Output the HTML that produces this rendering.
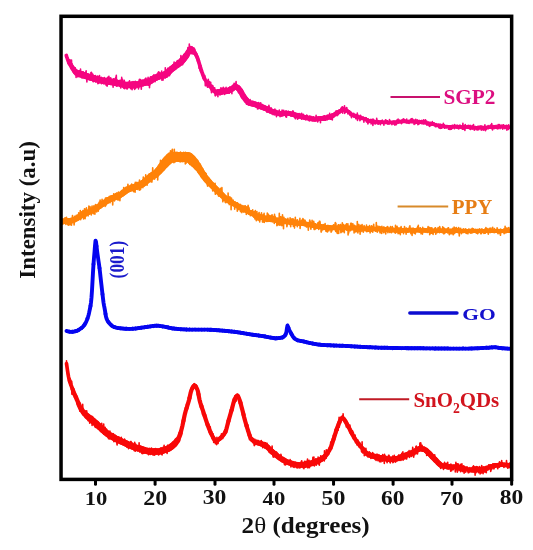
<!DOCTYPE html>
<html><head><meta charset="utf-8">
<style>
html,body{margin:0;padding:0;background:#fff;}
body{width:533px;height:550px;overflow:hidden;}
svg{display:block;}
text{font-family:"Liberation Serif",serif;font-weight:bold;}
</style></head>
<body>
<svg width="533" height="550" viewBox="0 0 533 550">
<rect width="533" height="550" fill="#fff"/>
<defs><clipPath id="cp"><rect x="60" y="14" width="453.5" height="467"/></clipPath></defs>
<g fill="none" stroke-linejoin="round" stroke-linecap="round" clip-path="url(#cp)">
<g stroke="#F50580"><path d="M66.3 55.5L66.8 57.1L67.3 58.5L67.8 59.8L68.3 61.0L68.8 62.0L69.3 63.0" stroke-width="3.68"/><path d="M69.3 63.0L69.8 63.8L70.3 64.6L70.8 65.4L71.3 66.1L71.8 66.8L72.3 67.6" stroke-width="4.38"/><path d="M72.3 67.6L72.8 68.3L73.3 69.1L73.8 69.8L74.3 70.4L74.8 71.1L75.3 71.6" stroke-width="5.07"/><path d="M75.3 71.6L75.8 72.1L76.3 72.5L76.8 72.8L77.3 73.1L77.8 73.3L78.3 73.5" stroke-width="5.76"/><path d="M78.3 73.5L78.8 73.6L79.3 73.8L79.8 73.9L80.3 74.0L80.8 74.1L81.3 74.2" stroke-width="6.45"/><path d="M81.3 74.2L81.8 74.4L82.3 74.5L82.8 74.7L83.3 74.9L83.8 75.1L84.3 75.3" stroke-width="6.50"/><path d="M84.3 75.3L84.8 75.5L85.3 75.7L85.8 75.9L86.3 76.1L86.8 76.3L87.3 76.5" stroke-width="6.50"/><path d="M87.3 76.5L87.8 76.7L88.3 76.8L88.8 77.0L89.3 77.1L89.8 77.3L90.3 77.4" stroke-width="6.50"/><path d="M90.3 77.4L90.8 77.5L91.3 77.6L91.8 77.8L92.3 77.9L92.8 78.0L93.3 78.2" stroke-width="6.50"/><path d="M93.3 78.2L93.8 78.3L94.3 78.4L94.8 78.6L95.3 78.8L95.8 78.9L96.3 79.1" stroke-width="6.50"/><path d="M96.3 79.1L96.8 79.2L97.3 79.4L97.8 79.6L98.3 79.7L98.8 79.8L99.3 80.0" stroke-width="6.50"/><path d="M99.3 80.0L99.8 80.1L100.3 80.2L100.8 80.3L101.3 80.4L101.8 80.5L102.3 80.6" stroke-width="6.50"/><path d="M102.3 80.6L102.8 80.7L103.3 80.8L103.8 80.9L104.3 81.0L104.8 81.1L105.3 81.1" stroke-width="6.50"/><path d="M105.3 81.1L105.8 81.2L106.3 81.3L106.8 81.4L107.3 81.4L107.8 81.5L108.3 81.6" stroke-width="6.50"/><path d="M108.3 81.6L108.8 81.6L109.3 81.7L109.8 81.8L110.3 81.8L110.8 81.9L111.3 82.0" stroke-width="6.50"/><path d="M111.3 82.0L111.8 82.1L112.3 82.1L112.8 82.2L113.3 82.3L113.8 82.4L114.3 82.5" stroke-width="6.50"/><path d="M114.3 82.5L114.8 82.5L115.3 82.6L115.8 82.7L116.3 82.8L116.8 82.9L117.3 83.0" stroke-width="6.50"/><path d="M117.3 83.0L117.8 83.1L118.3 83.2L118.8 83.2L119.3 83.3L119.8 83.4L120.3 83.5" stroke-width="6.50"/><path d="M120.3 83.5L120.8 83.6L121.3 83.8L121.8 83.9L122.3 84.1L122.8 84.2L123.3 84.4" stroke-width="6.50"/><path d="M123.3 84.4L123.8 84.6L124.3 84.7L124.8 84.8L125.3 84.9L125.8 85.0L126.3 85.0" stroke-width="6.50"/><path d="M126.3 85.0L126.8 85.0L127.3 85.0L127.8 85.0L128.3 84.9L128.8 84.9L129.3 84.9" stroke-width="6.50"/><path d="M129.3 84.9L129.8 84.8L130.3 84.8L130.8 84.8L131.3 84.7L131.8 84.7L132.3 84.7" stroke-width="6.50"/><path d="M132.3 84.7L132.8 84.7L133.3 84.7L133.8 84.6L134.3 84.6L134.8 84.6L135.3 84.6" stroke-width="6.50"/><path d="M135.3 84.6L135.8 84.6L136.3 84.6L136.8 84.5L137.3 84.5L137.8 84.5L138.3 84.4" stroke-width="6.50"/><path d="M138.3 84.4L138.8 84.3L139.3 84.2L139.8 84.0L140.3 83.9L140.8 83.7L141.3 83.5" stroke-width="6.50"/><path d="M141.3 83.5L141.8 83.4L142.3 83.2L142.8 83.1L143.3 83.0L143.8 82.8L144.3 82.7" stroke-width="6.50"/><path d="M144.3 82.7L144.8 82.6L145.3 82.5L145.8 82.4L146.3 82.3L146.8 82.2L147.3 82.1" stroke-width="6.50"/><path d="M147.3 82.1L147.8 82.0L148.3 81.9L148.8 81.7L149.3 81.5L149.8 81.3L150.3 81.0" stroke-width="6.50"/><path d="M150.3 81.0L150.8 80.7L151.3 80.3L151.8 80.0L152.3 79.6L152.8 79.3L153.3 78.9" stroke-width="6.50"/><path d="M153.3 78.9L153.8 78.6L154.3 78.3L154.8 78.1L155.3 77.9L155.8 77.6L156.3 77.4" stroke-width="6.50"/><path d="M156.3 77.4L156.8 77.2L157.3 77.0L157.8 76.8L158.3 76.6L158.8 76.4L159.3 76.2" stroke-width="6.50"/><path d="M159.3 76.2L159.8 76.1L160.3 75.9L160.8 75.8L161.3 75.7L161.8 75.6L162.3 75.5" stroke-width="6.50"/><path d="M162.3 75.5L162.8 75.4L163.3 75.3L163.8 75.2L164.3 75.0L164.8 74.9L165.3 74.7" stroke-width="6.50"/><path d="M165.3 74.7L165.8 74.5L166.3 74.2L166.8 73.8L167.3 73.4L167.8 72.8L168.3 72.3" stroke-width="6.50"/><path d="M168.3 72.3L168.8 71.7L169.3 71.2L169.8 70.7L170.3 70.2L170.8 69.7L171.3 69.3" stroke-width="6.50"/><path d="M171.3 69.3L171.8 68.9L172.3 68.5L172.8 68.1L173.3 67.8L173.8 67.4L174.3 67.0" stroke-width="6.50"/><path d="M174.3 67.0L174.8 66.6L175.3 66.2L175.8 65.8L176.3 65.5L176.8 65.1L177.3 64.7" stroke-width="6.50"/><path d="M177.3 64.7L177.8 64.4L178.3 64.0L178.8 63.7L179.3 63.3L179.8 62.9L180.3 62.5" stroke-width="6.50"/><path d="M180.3 62.5L180.8 62.1L181.3 61.6L181.8 61.1L182.3 60.6L182.8 60.0L183.3 59.4" stroke-width="6.50"/><path d="M183.3 59.4L183.8 58.7L184.3 58.1L184.8 57.5L185.3 56.8L185.8 56.2L186.3 55.5" stroke-width="6.50"/><path d="M186.3 55.5L186.8 54.8L187.3 54.1L187.8 53.4L188.3 52.6L188.8 51.8L189.3 50.9" stroke-width="5.74"/><path d="M189.3 50.9L189.8 49.6L190.3 48.5L190.8 48.2L191.3 48.4L191.8 48.9L192.3 49.5" stroke-width="4.93"/><path d="M192.3 49.5L192.8 50.2L193.3 50.7L193.8 51.3L194.3 52.0L194.8 52.7L195.3 53.5" stroke-width="4.12"/><path d="M195.3 53.5L195.8 54.3L196.3 55.3L196.8 56.3L197.3 57.5L197.8 58.9L198.3 60.5" stroke-width="3.80"/><path d="M198.3 60.5L198.8 62.1L199.3 63.7L199.8 65.4L200.3 67.2L200.8 68.9L201.3 70.4" stroke-width="3.80"/><path d="M201.3 70.4L201.8 71.8L202.3 73.2L202.8 74.6L203.3 75.9L203.8 77.1L204.3 78.2" stroke-width="3.80"/><path d="M204.3 78.2L204.8 79.2L205.3 80.0L205.8 80.7L206.3 81.4L206.8 82.0L207.3 82.6" stroke-width="3.80"/><path d="M207.3 82.6L207.8 83.1L208.3 83.7L208.8 84.3L209.3 85.0L209.8 85.8L210.3 86.5" stroke-width="3.80"/><path d="M210.3 86.5L210.8 87.3L211.3 88.1L211.8 88.8L212.3 89.4L212.8 89.9L213.3 90.3" stroke-width="3.80"/><path d="M213.3 90.3L213.8 90.7L214.3 91.1L214.8 91.4L215.3 91.7L215.8 91.9L216.3 92.1" stroke-width="4.50"/><path d="M216.3 92.1L216.8 92.2L217.3 92.2L217.8 92.2L218.3 92.1L218.8 92.0L219.3 91.9" stroke-width="5.25"/><path d="M219.3 91.9L219.8 91.8L220.3 91.7L220.8 91.6L221.3 91.6L221.8 91.5L222.3 91.5" stroke-width="5.80"/><path d="M222.3 91.5L222.8 91.5L223.3 91.4L223.8 91.4L224.3 91.4L224.8 91.3L225.3 91.3" stroke-width="5.80"/><path d="M225.3 91.3L225.8 91.3L226.3 91.2L226.8 91.1L227.3 91.0L227.8 90.9L228.3 90.7" stroke-width="5.80"/><path d="M228.3 90.7L228.8 90.5L229.3 90.3L229.8 90.1L230.3 89.8L230.8 89.6L231.3 89.3" stroke-width="5.80"/><path d="M231.3 89.3L231.8 89.1L232.3 88.8L232.8 88.4L233.3 87.9L233.8 87.5L234.3 87.1" stroke-width="5.80"/><path d="M234.3 87.1L234.8 86.8L235.3 86.7L235.8 86.8L236.3 86.9L236.8 87.2L237.3 87.5" stroke-width="5.80"/><path d="M237.3 87.5L237.8 87.8L238.3 88.2L238.8 88.8L239.3 89.4L239.8 90.1L240.3 90.8" stroke-width="5.80"/><path d="M240.3 90.8L240.8 91.6L241.3 92.5L241.8 93.4L242.3 94.4L242.8 95.3L243.3 96.1" stroke-width="5.80"/><path d="M243.3 96.1L243.8 96.8L244.3 97.6L244.8 98.2L245.3 98.9L245.8 99.5L246.3 100.1" stroke-width="5.80"/><path d="M246.3 100.1L246.8 100.7L247.3 101.3L247.8 101.8L248.3 102.3L248.8 102.6L249.3 102.8" stroke-width="5.80"/><path d="M249.3 102.8L249.8 103.0L250.3 103.1L250.8 103.3L251.3 103.4L251.8 103.5L252.3 103.6" stroke-width="5.80"/><path d="M252.3 103.6L252.8 103.7L253.3 103.8L253.8 103.9L254.3 104.1L254.8 104.2L255.3 104.4" stroke-width="5.80"/><path d="M255.3 104.4L255.8 104.6L256.3 104.8L256.8 104.9L257.3 105.1L257.8 105.3L258.3 105.5" stroke-width="5.80"/><path d="M258.3 105.5L258.8 105.7L259.3 105.9L259.8 106.1L260.3 106.3L260.8 106.5L261.3 106.7" stroke-width="5.80"/><path d="M261.3 106.7L261.8 106.9L262.3 107.1L262.8 107.3L263.3 107.5L263.8 107.7L264.3 107.9" stroke-width="5.69"/><path d="M264.3 107.9L264.8 108.1L265.3 108.3L265.8 108.5L266.3 108.7L266.8 109.0L267.3 109.2" stroke-width="5.57"/><path d="M267.3 109.2L267.8 109.5L268.3 109.8L268.8 110.0L269.3 110.3L269.8 110.5L270.3 110.8" stroke-width="5.45"/><path d="M270.3 110.8L270.8 111.0L271.3 111.2L271.8 111.4L272.3 111.5L272.8 111.7L273.3 111.9" stroke-width="5.33"/><path d="M273.3 111.9L273.8 112.0L274.3 112.2L274.8 112.3L275.3 112.4L275.8 112.6L276.3 112.7" stroke-width="5.21"/><path d="M276.3 112.7L276.8 112.8L277.3 113.0L277.8 113.1L278.3 113.3L278.8 113.4L279.3 113.6" stroke-width="5.18"/><path d="M279.3 113.6L279.8 113.7L280.3 113.7L280.8 113.8L281.3 113.8L281.8 113.8L282.3 113.7" stroke-width="5.16"/><path d="M282.3 113.7L282.8 113.7L283.3 113.6L283.8 113.5L284.3 113.5L284.8 113.4L285.3 113.3" stroke-width="5.14"/><path d="M285.3 113.3L285.8 113.3L286.3 113.2L286.8 113.2L287.3 113.2L287.8 113.2L288.3 113.3" stroke-width="5.11"/><path d="M288.3 113.3L288.8 113.4L289.3 113.5L289.8 113.6L290.3 113.7L290.8 113.9L291.3 114.0" stroke-width="5.09"/><path d="M291.3 114.0L291.8 114.1L292.3 114.3L292.8 114.4L293.3 114.5L293.8 114.6L294.3 114.7" stroke-width="5.07"/><path d="M294.3 114.7L294.8 114.8L295.3 115.0L295.8 115.1L296.3 115.2L296.8 115.4L297.3 115.5" stroke-width="5.05"/><path d="M297.3 115.5L297.8 115.6L298.3 115.8L298.8 115.9L299.3 116.0L299.8 116.2L300.3 116.3" stroke-width="5.03"/><path d="M300.3 116.3L300.8 116.4L301.3 116.6L301.8 116.7L302.3 116.8L302.8 117.0L303.3 117.1" stroke-width="5.01"/><path d="M303.3 117.1L303.8 117.2L304.3 117.3L304.8 117.4L305.3 117.5L305.8 117.6L306.3 117.7" stroke-width="4.98"/><path d="M306.3 117.7L306.8 117.8L307.3 117.9L307.8 118.0L308.3 118.1L308.8 118.2L309.3 118.3" stroke-width="4.96"/><path d="M309.3 118.3L309.8 118.4L310.3 118.5L310.8 118.6L311.3 118.7L311.8 118.7L312.3 118.8" stroke-width="4.94"/><path d="M312.3 118.8L312.8 118.9L313.3 119.0L313.8 119.0L314.3 119.1L314.8 119.1L315.3 119.1" stroke-width="4.92"/><path d="M315.3 119.1L315.8 119.1L316.3 119.0L316.8 119.0L317.3 118.9L317.8 118.9L318.3 118.8" stroke-width="4.90"/><path d="M318.3 118.8L318.8 118.7L319.3 118.7L319.8 118.6L320.3 118.5L320.8 118.5L321.3 118.4" stroke-width="4.87"/><path d="M321.3 118.4L321.8 118.4L322.3 118.3L322.8 118.2L323.3 118.2L323.8 118.1L324.3 118.0" stroke-width="4.85"/><path d="M324.3 118.0L324.8 117.9L325.3 117.9L325.8 117.8L326.3 117.7L326.8 117.6L327.3 117.5" stroke-width="4.83"/><path d="M327.3 117.5L327.8 117.4L328.3 117.4L328.8 117.3L329.3 117.1L329.8 117.0L330.3 116.9" stroke-width="4.81"/><path d="M330.3 116.9L330.8 116.7L331.3 116.5L331.8 116.3L332.3 116.0L332.8 115.7L333.3 115.4" stroke-width="4.68"/><path d="M333.3 115.4L333.8 115.1L334.3 114.7L334.8 114.4L335.3 114.0L335.8 113.7L336.3 113.4" stroke-width="4.48"/><path d="M336.3 113.4L336.8 113.1L337.3 112.8L337.8 112.6L338.3 112.3L338.8 112.0L339.3 111.8" stroke-width="4.28"/><path d="M339.3 111.8L339.8 111.5L340.3 111.2L340.8 110.9L341.3 110.7L341.8 110.4L342.3 110.0" stroke-width="4.08"/><path d="M342.3 110.0L342.8 109.6L343.3 109.3L343.8 109.2L344.3 109.3L344.8 109.5L345.3 109.7" stroke-width="3.88"/><path d="M345.3 109.7L345.8 110.0L346.3 110.3L346.8 110.7L347.3 111.0L347.8 111.3L348.3 111.6" stroke-width="3.79"/><path d="M348.3 111.6L348.8 112.0L349.3 112.5L349.8 112.9L350.3 113.3L350.8 113.8L351.3 114.2" stroke-width="3.77"/><path d="M351.3 114.2L351.8 114.6L352.3 114.9L352.8 115.2L353.3 115.5L353.8 115.7L354.3 115.9" stroke-width="3.76"/><path d="M354.3 115.9L354.8 116.1L355.3 116.3L355.8 116.4L356.3 116.6L356.8 116.7L357.3 116.9" stroke-width="3.74"/><path d="M357.3 116.9L357.8 117.0L358.3 117.2L358.8 117.3L359.3 117.4L359.8 117.6L360.3 117.7" stroke-width="3.72"/><path d="M360.3 117.7L360.8 117.8L361.3 118.0L361.8 118.1L362.3 118.2L362.8 118.3L363.3 118.5" stroke-width="3.70"/><path d="M363.3 118.5L363.8 118.6L364.3 118.8L364.8 118.9L365.3 119.1L365.8 119.3L366.3 119.6" stroke-width="3.69"/><path d="M366.3 119.6L366.8 119.8L367.3 120.0L367.8 120.2L368.3 120.5L368.8 120.6L369.3 120.8" stroke-width="3.67"/><path d="M369.3 120.8L369.8 121.0L370.3 121.1L370.8 121.2L371.3 121.2L371.8 121.3L372.3 121.4" stroke-width="3.65"/><path d="M372.3 121.4L372.8 121.5L373.3 121.5L373.8 121.6L374.3 121.7L374.8 121.7L375.3 121.8" stroke-width="3.64"/><path d="M375.3 121.8L375.8 121.8L376.3 121.9L376.8 121.9L377.3 121.9L377.8 122.0L378.3 122.0" stroke-width="3.62"/><path d="M378.3 122.0L378.8 122.1L379.3 122.1L379.8 122.1L380.3 122.2L380.8 122.2L381.3 122.2" stroke-width="3.60"/><path d="M381.3 122.2L381.8 122.2L382.3 122.2L382.8 122.3L383.3 122.3L383.8 122.3L384.3 122.3" stroke-width="3.59"/><path d="M384.3 122.3L384.8 122.3L385.3 122.4L385.8 122.4L386.3 122.4L386.8 122.4L387.3 122.4" stroke-width="3.58"/><path d="M387.3 122.4L387.8 122.5L388.3 122.5L388.8 122.5L389.3 122.5L389.8 122.5L390.3 122.5" stroke-width="3.57"/><path d="M390.3 122.5L390.8 122.5L391.3 122.5L391.8 122.5L392.3 122.5L392.8 122.5L393.3 122.4" stroke-width="3.57"/><path d="M393.3 122.4L393.8 122.4L394.3 122.3L394.8 122.3L395.3 122.2L395.8 122.2L396.3 122.1" stroke-width="3.56"/><path d="M396.3 122.1L396.8 122.1L397.3 122.0L397.8 121.9L398.3 121.9L398.8 121.8L399.3 121.8" stroke-width="3.55"/><path d="M399.3 121.8L399.8 121.7L400.3 121.7L400.8 121.7L401.3 121.6L401.8 121.6L402.3 121.6" stroke-width="3.54"/><path d="M402.3 121.6L402.8 121.6L403.3 121.6L403.8 121.6L404.3 121.6L404.8 121.6L405.3 121.6" stroke-width="3.53"/><path d="M405.3 121.6L405.8 121.6L406.3 121.6L406.8 121.6L407.3 121.6L407.8 121.6L408.3 121.6" stroke-width="3.52"/><path d="M408.3 121.6L408.8 121.6L409.3 121.6L409.8 121.6L410.3 121.6L410.8 121.6L411.3 121.6" stroke-width="3.51"/><path d="M411.3 121.6L411.8 121.6L412.3 121.6L412.8 121.6L413.3 121.6L413.8 121.6L414.3 121.6" stroke-width="3.51"/><path d="M414.3 121.6L414.8 121.6L415.3 121.6L415.8 121.7L416.3 121.7L416.8 121.7L417.3 121.8" stroke-width="3.50"/><path d="M417.3 121.8L417.8 121.8L418.3 121.8L418.8 121.9L419.3 122.0L419.8 122.0L420.3 122.1" stroke-width="3.49"/><path d="M420.3 122.1L420.8 122.1L421.3 122.2L421.8 122.3L422.3 122.3L422.8 122.4L423.3 122.5" stroke-width="3.48"/><path d="M423.3 122.5L423.8 122.5L424.3 122.6L424.8 122.7L425.3 122.7L425.8 122.8L426.3 122.9" stroke-width="3.47"/><path d="M426.3 122.9L426.8 123.0L427.3 123.1L427.8 123.2L428.3 123.3L428.8 123.4L429.3 123.5" stroke-width="3.46"/><path d="M429.3 123.5L429.8 123.6L430.3 123.7L430.8 123.8L431.3 124.0L431.8 124.1L432.3 124.2" stroke-width="3.45"/><path d="M432.3 124.2L432.8 124.3L433.3 124.4L433.8 124.5L434.3 124.6L434.8 124.7L435.3 124.8" stroke-width="3.45"/><path d="M435.3 124.8L435.8 124.9L436.3 125.0L436.8 125.1L437.3 125.2L437.8 125.2L438.3 125.3" stroke-width="3.44"/><path d="M438.3 125.3L438.8 125.4L439.3 125.5L439.8 125.6L440.3 125.7L440.8 125.7L441.3 125.8" stroke-width="3.43"/><path d="M441.3 125.8L441.8 125.9L442.3 126.0L442.8 126.1L443.3 126.1L443.8 126.2L444.3 126.3" stroke-width="3.42"/><path d="M444.3 126.3L444.8 126.3L445.3 126.4L445.8 126.5L446.3 126.5L446.8 126.6L447.3 126.6" stroke-width="3.41"/><path d="M447.3 126.6L447.8 126.7L448.3 126.7L448.8 126.7L449.3 126.8L449.8 126.8L450.3 126.8" stroke-width="3.40"/><path d="M450.3 126.8L450.8 126.8L451.3 126.8L451.8 126.9L452.3 126.9L452.8 126.9L453.3 126.9" stroke-width="3.39"/><path d="M453.3 126.9L453.8 126.9L454.3 126.9L454.8 126.9L455.3 126.9L455.8 126.9L456.3 126.9" stroke-width="3.39"/><path d="M456.3 126.9L456.8 127.0L457.3 127.0L457.8 127.0L458.3 127.0L458.8 127.0L459.3 127.0" stroke-width="3.38"/><path d="M459.3 127.0L459.8 127.0L460.3 127.0L460.8 127.0L461.3 127.0L461.8 127.0L462.3 127.0" stroke-width="3.37"/><path d="M462.3 127.0L462.8 127.0L463.3 127.1L463.8 127.1L464.3 127.1L464.8 127.1L465.3 127.1" stroke-width="3.36"/><path d="M465.3 127.1L465.8 127.1L466.3 127.1L466.8 127.2L467.3 127.2L467.8 127.2L468.3 127.2" stroke-width="3.35"/><path d="M468.3 127.2L468.8 127.3L469.3 127.3L469.8 127.3L470.3 127.4L470.8 127.4L471.3 127.4" stroke-width="3.34"/><path d="M471.3 127.4L471.8 127.5L472.3 127.5L472.8 127.5L473.3 127.6L473.8 127.6L474.3 127.6" stroke-width="3.33"/><path d="M474.3 127.6L474.8 127.6L475.3 127.7L475.8 127.7L476.3 127.7L476.8 127.7L477.3 127.8" stroke-width="3.33"/><path d="M477.3 127.8L477.8 127.8L478.3 127.8L478.8 127.8L479.3 127.8L479.8 127.8L480.3 127.8" stroke-width="3.32"/><path d="M480.3 127.8L480.8 127.8L481.3 127.8L481.8 127.8L482.3 127.7L482.8 127.7L483.3 127.7" stroke-width="3.31"/><path d="M483.3 127.7L483.8 127.6L484.3 127.6L484.8 127.6L485.3 127.5L485.8 127.5L486.3 127.4" stroke-width="3.30"/><path d="M486.3 127.4L486.8 127.4L487.3 127.3L487.8 127.3L488.3 127.2L488.8 127.2L489.3 127.1" stroke-width="3.29"/><path d="M489.3 127.1L489.8 127.1L490.3 127.0L490.8 127.0L491.3 127.0L491.8 126.9L492.3 126.9" stroke-width="3.28"/><path d="M492.3 126.9L492.8 126.9L493.3 126.8L493.8 126.8L494.3 126.8L494.8 126.8L495.3 126.8" stroke-width="3.27"/><path d="M495.3 126.8L495.8 126.8L496.3 126.8L496.8 126.8L497.3 126.8L497.8 126.8L498.3 126.8" stroke-width="3.27"/><path d="M498.3 126.8L498.8 126.8L499.3 126.8L499.8 126.8L500.3 126.8L500.8 126.8L501.3 126.8" stroke-width="3.26"/><path d="M501.3 126.8L501.8 126.8L502.3 126.8L502.8 126.8L503.3 126.9L503.8 126.9L504.3 126.9" stroke-width="3.25"/><path d="M504.3 126.9L504.8 126.9L505.3 126.9L505.8 126.9L506.3 126.9L506.8 126.9L507.3 127.0" stroke-width="3.24"/><path d="M507.3 127.0L507.8 127.0L508.3 127.0L508.8 127.0L509.3 127.1L509.8 127.1L510.0 127.1" stroke-width="3.23"/></g>

<path d="M66.3 55.5L66.5 56.9L66.7 56.1L66.9 55.1L67.1 56.8L67.3 56.0L67.5 59.2L67.7 62.9L67.9 58.9L68.1 59.0L68.3 62.2L68.5 62.3L68.7 62.1L68.9 59.9L69.1 62.5L69.3 64.7L69.5 59.9L69.7 62.5L69.9 63.2L70.1 61.1L70.3 60.0L70.5 64.3L70.7 62.1L70.9 66.2L71.1 66.2L71.3 65.6L71.5 60.1L71.7 65.3L71.9 66.9L72.1 67.6L72.3 63.7L72.5 66.7L72.7 65.7L72.9 66.4L73.1 71.4L73.3 67.0L73.5 69.3L73.7 71.8L73.9 68.4L74.1 69.9L74.3 70.7L74.5 70.8L74.7 67.9L74.9 71.4L75.1 74.8L75.3 67.8L75.5 74.0L75.7 72.3L75.9 70.6L76.1 77.4L76.3 74.4L76.5 69.7L76.7 73.0L76.9 74.3L77.1 72.5L77.3 74.8L77.5 73.0L77.7 74.9L77.9 76.9L78.1 71.7L78.3 74.0L78.5 72.4L78.7 73.9L78.9 70.7L79.1 72.2L79.3 73.3L79.5 76.0L79.7 76.7L79.9 70.6L80.1 72.0L80.3 75.6L80.5 69.1L80.7 72.9L80.9 73.9L81.1 77.3L81.3 76.0L81.5 73.5L81.7 73.4L81.9 73.8L82.1 78.3L82.3 73.5L82.5 73.8L82.7 75.6L82.9 74.4L83.1 74.3L83.3 72.1L83.5 74.9L83.7 73.9L83.9 78.0L84.1 76.8L84.3 75.2L84.5 77.0L84.7 74.6L84.9 78.2L85.1 75.6L85.3 77.2L85.5 72.6L85.7 76.7L85.9 71.7L86.1 70.9L86.3 75.3L86.5 73.9L86.7 76.7L86.9 82.0L87.1 74.3L87.3 74.9L87.5 77.1L87.7 77.9L87.9 76.3L88.1 76.3L88.3 78.6L88.5 78.2L88.7 74.4L88.9 76.8L89.1 77.2L89.3 74.5L89.5 77.8L89.7 75.1L89.9 79.7L90.1 77.8L90.3 77.6L90.5 76.0L90.7 77.2L90.9 72.6L91.1 74.8L91.3 78.6L91.5 72.4L91.7 79.9L91.9 73.4L92.1 79.7L92.3 75.8L92.5 79.9L92.7 78.3L92.9 74.2L93.1 81.2L93.3 81.8L93.5 78.1L93.7 77.6L93.9 77.9L94.1 75.9L94.3 81.2L94.5 77.2L94.7 78.4L94.9 76.6L95.1 77.1L95.3 75.6L95.5 82.0L95.7 78.5L95.9 81.4L96.1 79.1L96.3 77.3L96.5 78.3L96.7 77.8L96.9 79.3L97.1 78.4L97.3 78.7L97.5 76.0L97.7 77.5L97.9 83.7L98.1 78.0L98.3 77.1L98.5 80.6L98.7 83.3L98.9 76.2L99.1 79.4L99.3 78.4L99.5 75.6L99.7 81.9L99.9 80.1L100.1 80.3L100.3 78.3L100.5 81.4L100.7 78.9L100.9 80.0L101.1 77.6L101.3 77.4L101.5 83.8L101.7 79.2L101.9 81.3L102.1 80.5L102.3 79.5L102.5 79.4L102.7 82.3L102.9 80.0L103.1 80.4L103.3 80.9L103.5 83.8L103.7 82.6L103.9 81.9L104.1 79.5L104.3 77.5L104.5 83.4L104.7 83.5L104.9 80.7L105.1 82.5L105.3 83.1L105.5 83.3L105.7 83.5L105.9 80.1L106.1 85.1L106.3 78.2L106.5 83.5L106.7 82.6L106.9 83.6L107.1 86.1L107.3 85.1L107.5 78.6L107.7 77.3L107.9 83.6L108.1 79.0L108.3 81.5L108.5 83.7L108.7 77.5L108.9 76.4L109.1 82.3L109.3 81.8L109.5 81.1L109.7 81.9L109.9 79.6L110.1 78.0L110.3 81.4L110.5 79.4L110.7 77.8L110.9 83.2L111.1 81.8L111.3 83.0L111.5 79.5L111.7 80.4L111.9 79.6L112.1 79.9L112.3 82.6L112.5 80.2L112.7 83.1L112.9 83.1L113.1 87.3L113.3 78.8L113.5 84.6L113.7 82.1L113.9 82.4L114.1 78.8L114.3 81.3L114.5 84.4L114.7 82.3L114.9 82.8L115.1 81.9L115.3 85.5L115.5 82.6L115.7 77.2L115.9 81.0L116.1 77.8L116.3 75.3L116.5 81.5L116.7 86.2L116.9 83.0L117.1 80.0L117.3 80.6L117.5 85.8L117.7 83.4L117.9 83.2L118.1 83.0L118.3 83.2L118.5 85.2L118.7 84.6L118.9 83.8L119.1 80.7L119.3 84.6L119.5 81.7L119.7 86.2L119.9 80.3L120.1 83.2L120.3 83.5L120.5 80.3L120.7 87.9L120.9 87.3L121.1 82.6L121.3 85.7L121.5 84.8L121.7 77.4L121.9 84.6L122.1 83.9L122.3 84.3L122.5 79.4L122.7 83.5L122.9 83.8L123.1 87.3L123.3 85.2L123.5 84.5L123.7 88.3L123.9 83.2L124.1 83.7L124.3 80.2L124.5 88.7L124.7 87.2L124.9 87.1L125.1 86.6L125.3 85.2L125.5 85.5L125.7 84.3L125.9 84.5L126.1 85.1L126.3 88.8L126.5 86.4L126.7 84.9L126.9 83.5L127.1 83.4L127.3 89.0L127.5 86.2L127.7 85.1L127.9 84.1L128.1 82.2L128.3 84.8L128.5 87.1L128.7 83.9L128.9 84.3L129.1 84.3L129.3 85.1L129.5 80.9L129.7 84.2L129.9 82.7L130.1 87.0L130.3 82.9L130.5 86.2L130.7 88.6L130.9 84.0L131.1 83.2L131.3 85.2L131.5 84.7L131.7 82.2L131.9 85.9L132.1 89.7L132.3 84.0L132.5 84.2L132.7 82.1L132.9 85.5L133.1 81.5L133.3 81.9L133.5 87.8L133.7 82.4L133.9 87.3L134.1 88.4L134.3 85.3L134.5 86.0L134.7 89.5L134.9 84.1L135.1 83.1L135.3 81.2L135.5 84.7L135.7 88.3L135.9 87.0L136.1 82.2L136.3 82.4L136.5 83.3L136.7 85.3L136.9 84.0L137.1 85.1L137.3 85.3L137.5 83.8L137.7 84.4L137.9 85.0L138.1 84.2L138.3 85.7L138.5 89.0L138.7 85.8L138.9 84.4L139.1 80.0L139.3 85.1L139.5 79.3L139.7 80.5L139.9 86.1L140.1 85.7L140.3 83.5L140.5 79.5L140.7 82.8L140.9 82.0L141.1 85.2L141.3 89.2L141.5 84.0L141.7 81.5L141.9 80.4L142.1 80.6L142.3 82.8L142.5 80.3L142.7 83.4L142.9 80.2L143.1 85.8L143.3 85.6L143.5 85.6L143.7 81.7L143.9 84.1L144.1 82.4L144.3 81.8L144.5 81.8L144.7 79.4L144.9 79.0L145.1 84.6L145.3 82.1L145.5 83.0L145.7 85.0L145.9 78.1L146.1 80.4L146.3 82.8L146.5 83.3L146.7 81.3L146.9 84.8L147.1 82.7L147.3 79.1L147.5 79.7L147.7 84.0L147.9 83.1L148.1 77.2L148.3 85.2L148.5 83.3L148.7 85.1L148.9 80.7L149.1 80.9L149.3 78.7L149.5 87.8L149.7 80.9L149.9 85.2L150.1 79.5L150.3 81.4L150.5 76.7L150.7 79.8L150.9 83.1L151.1 77.3L151.3 83.0L151.5 81.0L151.7 77.4L151.9 78.6L152.1 78.6L152.3 79.5L152.5 78.1L152.7 77.3L152.9 78.4L153.1 76.5L153.3 75.7L153.5 78.7L153.7 80.9L153.9 74.7L154.1 78.5L154.3 76.7L154.5 75.8L154.7 80.3L154.9 76.8L155.1 81.7L155.3 75.9L155.5 78.7L155.7 77.1L155.9 75.7L156.1 79.0L156.3 77.0L156.5 78.8L156.7 77.1L156.9 74.4L157.1 76.8L157.3 77.1L157.5 79.3L157.7 74.6L157.9 76.6L158.1 72.4L158.3 78.2L158.5 73.8L158.7 71.9L158.9 76.2L159.1 79.1L159.3 72.4L159.5 73.4L159.7 74.2L159.9 73.2L160.1 76.9L160.3 73.9L160.5 74.1L160.7 77.3L160.9 73.9L161.1 76.8L161.3 73.2L161.5 72.6L161.7 71.0L161.9 80.2L162.1 74.7L162.3 76.1L162.5 75.3L162.7 75.8L162.9 75.5L163.1 80.1L163.3 72.7L163.5 76.8L163.7 72.6L163.9 71.8L164.1 76.9L164.3 77.1L164.5 72.6L164.7 71.4L164.9 74.0L165.1 78.3L165.3 67.7L165.5 76.0L165.7 71.9L165.9 77.1L166.1 71.6L166.3 73.5L166.5 70.3L166.7 71.5L166.9 77.2L167.1 75.6L167.3 72.4L167.5 71.0L167.7 68.2L167.9 71.8L168.1 72.4L168.3 72.1L168.5 71.8L168.7 69.1L168.9 71.5L169.1 71.3L169.3 74.4L169.5 75.6L169.7 70.4L169.9 68.6L170.1 70.2L170.3 68.7L170.5 68.1L170.7 69.7L170.9 67.1L171.1 71.0L171.3 69.1L171.5 69.8L171.7 68.6L171.9 67.0L172.1 66.3L172.3 67.9L172.5 67.0L172.7 68.8L172.9 68.1L173.1 64.5L173.3 67.9L173.5 64.2L173.7 65.9L173.9 66.6L174.1 62.0L174.3 70.0L174.5 67.2L174.7 66.3L174.9 65.5L175.1 65.5L175.3 63.8L175.5 65.4L175.7 64.5L175.9 66.0L176.1 62.6L176.3 66.1L176.5 65.7L176.7 64.8L176.9 63.9L177.1 66.3L177.3 60.6L177.5 65.8L177.7 65.1L177.9 65.0L178.1 65.1L178.3 62.4L178.5 63.2L178.7 65.3L178.9 64.7L179.1 64.0L179.3 59.5L179.5 64.5L179.7 65.9L179.9 65.3L180.1 63.2L180.3 58.6L180.5 64.7L180.7 61.8L180.9 55.6L181.1 62.7L181.3 57.9L181.5 58.2L181.7 59.6L181.9 64.2L182.1 59.9L182.3 61.2L182.5 64.7L182.7 64.1L182.9 59.6L183.1 59.0L183.3 56.2L183.5 57.4L183.7 59.9L183.9 59.6L184.1 58.6L184.3 60.6L184.5 55.9L184.7 57.4L184.9 59.2L185.1 58.5L185.3 59.5L185.5 57.5L185.7 55.5L185.9 56.9L186.1 53.3L186.3 51.4L186.5 56.7L186.7 54.8L186.9 55.5L187.1 50.2L187.3 53.2L187.5 52.3L187.7 51.4L187.9 47.6L188.1 52.1L188.3 54.9L188.5 53.3L188.7 50.5L188.9 51.6L189.1 53.2L189.3 44.0L189.5 50.1L189.7 51.2L189.9 51.1L190.1 53.2L190.3 51.4L190.5 49.1L190.7 49.0L190.9 50.2L191.1 47.0L191.3 48.3L191.5 50.9L191.7 53.7L191.9 48.6L192.1 49.2L192.3 50.0L192.5 53.1L192.7 50.0L192.9 53.9L193.1 48.1L193.3 50.3L193.5 50.5L193.7 53.1L193.9 54.0L194.1 48.0L194.3 49.8L194.5 53.1L194.7 51.0L194.9 49.2L195.1 55.7L195.3 54.7L195.5 55.0L195.7 53.0L195.9 57.0L196.1 54.3L196.3 57.9L196.5 53.5L196.7 54.1L196.9 57.1L197.1 55.4L197.3 59.1L197.5 58.7L197.7 56.4L197.9 59.4L198.1 59.0L198.3 62.6L198.5 59.6L198.7 60.7L198.9 65.2L199.1 68.3L199.3 68.4L199.5 64.5L199.7 65.6L199.9 69.4L200.1 66.2L200.3 64.9L200.5 68.2L200.7 69.6L200.9 67.3L201.1 66.0L201.3 67.0L201.5 72.5L201.7 69.8L201.9 71.8L202.1 73.7L202.3 74.7L202.5 73.0L202.7 75.5L202.9 72.8L203.1 74.6L203.3 73.5L203.5 79.0L203.7 76.8L203.9 75.6L204.1 77.0L204.3 77.7L204.5 80.2L204.7 75.4L204.9 77.0L205.1 78.8L205.3 85.7L205.5 82.4L205.7 80.3L205.9 82.5L206.1 85.7L206.3 80.9L206.5 80.8L206.7 84.6L206.9 83.2L207.1 83.8L207.3 81.4L207.5 87.1L207.7 86.8L207.9 84.5L208.1 87.3L208.3 79.3L208.5 85.4L208.7 83.8L208.9 85.4L209.1 86.2L209.3 84.3L209.5 81.6L209.7 86.4L209.9 84.3L210.1 85.5L210.3 85.2L210.5 86.1L210.7 82.2L210.9 90.1L211.1 88.3L211.3 90.5L211.5 92.6L211.7 88.7L211.9 85.1L212.1 87.3L212.3 86.8L212.5 88.6L212.7 90.0L212.9 85.7L213.1 90.9L213.3 87.1L213.5 91.1L213.7 90.4L213.9 90.1L214.1 90.8L214.3 89.9L214.5 89.9L214.7 87.8L214.9 91.4L215.1 95.5L215.3 95.8L215.5 94.6L215.7 93.4L215.9 90.6L216.1 95.1L216.3 92.0L216.5 92.0L216.7 91.6L216.9 92.4L217.1 91.3L217.3 92.0L217.5 89.9L217.7 91.4L217.9 96.8L218.1 92.0L218.3 91.6L218.5 93.1L218.7 93.5L218.9 89.7L219.1 91.5L219.3 93.8L219.5 92.4L219.7 92.1L219.9 94.9L220.1 90.4L220.3 91.9L220.5 90.6L220.7 94.6L220.9 87.7L221.1 90.2L221.3 90.5L221.5 92.9L221.7 92.7L221.9 94.3L222.1 88.4L222.3 93.0L222.5 90.9L222.7 90.2L222.9 92.5L223.1 89.6L223.3 87.3L223.5 90.7L223.7 88.5L223.9 90.1L224.1 92.1L224.3 92.0L224.5 94.5L224.7 91.0L224.9 88.4L225.1 89.9L225.3 89.5L225.5 88.9L225.7 92.1L225.9 90.0L226.1 87.4L226.3 92.5L226.5 91.0L226.7 91.8L226.9 91.3L227.1 92.3L227.3 91.1L227.5 93.3L227.7 91.7L227.9 91.6L228.1 91.5L228.3 87.9L228.5 90.3L228.7 90.0L228.9 90.8L229.1 87.8L229.3 93.3L229.5 90.4L229.7 87.8L229.9 86.8L230.1 89.4L230.3 89.6L230.5 88.4L230.7 89.8L230.9 88.3L231.1 90.4L231.3 88.0L231.5 89.1L231.7 90.9L231.9 93.7L232.1 87.0L232.3 87.9L232.5 87.1L232.7 89.9L232.9 86.2L233.1 87.2L233.3 87.9L233.5 86.0L233.7 88.0L233.9 86.5L234.1 83.4L234.3 84.5L234.5 86.2L234.7 87.1L234.9 86.4L235.1 83.6L235.3 85.9L235.5 88.1L235.7 87.7L235.9 86.7L236.1 81.6L236.3 88.1L236.5 86.0L236.7 85.1L236.9 85.8L237.1 89.9L237.3 87.9L237.5 89.6L237.7 86.9L237.9 89.5L238.1 87.0L238.3 88.0L238.5 92.7L238.7 90.0L238.9 88.1L239.1 89.0L239.3 90.0L239.5 91.8L239.7 89.1L239.9 87.3L240.1 90.0L240.3 90.8L240.5 91.3L240.7 93.6L240.9 92.3L241.1 93.5L241.3 90.6L241.5 94.3L241.7 96.8L241.9 94.9L242.1 94.5L242.3 94.7L242.5 97.8L242.7 93.6L242.9 95.3L243.1 96.6L243.3 97.4L243.5 95.7L243.7 97.2L243.9 96.5L244.1 97.5L244.3 97.3L244.5 95.9L244.7 98.1L244.9 99.8L245.1 97.0L245.3 98.5L245.5 100.2L245.7 97.6L245.9 99.9L246.1 98.1L246.3 102.0L246.5 104.2L246.7 104.0L246.9 100.5L247.1 102.3L247.3 101.5L247.5 101.7L247.7 104.3L247.9 99.7L248.1 103.9L248.3 102.2L248.5 104.8L248.7 102.9L248.9 101.5L249.1 103.2L249.3 104.0L249.5 102.9L249.7 103.8L249.9 102.1L250.1 99.5L250.3 104.6L250.5 104.4L250.7 103.5L250.9 103.4L251.1 105.1L251.3 102.6L251.5 102.2L251.7 103.2L251.9 105.5L252.1 101.2L252.3 105.6L252.5 102.6L252.7 101.8L252.9 105.8L253.1 103.6L253.3 101.6L253.5 103.3L253.7 105.4L253.9 105.9L254.1 103.3L254.3 104.7L254.5 105.3L254.7 103.1L254.9 104.8L255.1 104.3L255.3 103.5L255.5 103.7L255.7 104.6L255.9 104.7L256.1 103.7L256.3 104.1L256.5 106.7L256.7 105.3L256.9 106.4L257.1 107.0L257.3 106.1L257.5 109.0L257.7 103.9L257.9 106.7L258.1 104.9L258.3 108.6L258.5 108.4L258.7 102.5L258.9 104.2L259.1 106.9L259.3 107.2L259.5 107.2L259.7 106.0L259.9 106.9L260.1 107.3L260.3 106.2L260.5 108.1L260.7 102.8L260.9 107.6L261.1 104.9L261.3 108.3L261.5 106.4L261.7 105.4L261.9 107.5L262.1 105.1L262.3 105.6L262.5 104.6L262.7 107.2L262.9 108.1L263.1 109.1L263.3 107.2L263.5 109.2L263.7 107.6L263.9 107.5L264.1 108.7L264.3 109.6L264.5 107.4L264.7 107.6L264.9 107.8L265.1 108.3L265.3 106.8L265.5 110.0L265.7 107.8L265.9 109.3L266.1 107.3L266.3 109.3L266.5 109.5L266.7 108.2L266.9 112.3L267.1 109.7L267.3 112.1L267.5 110.9L267.7 108.4L267.9 108.9L268.1 110.4L268.3 109.9L268.5 110.0L268.7 109.5L268.9 105.2L269.1 109.8L269.3 106.7L269.5 111.0L269.7 109.3L269.9 109.4L270.1 110.3L270.3 111.2L270.5 108.6L270.7 108.1L270.9 109.3L271.1 107.8L271.3 109.6L271.5 113.8L271.7 109.8L271.9 112.5L272.1 109.3L272.3 112.0L272.5 111.1L272.7 111.6L272.9 112.7L273.1 114.6L273.3 112.2L273.5 112.1L273.7 110.4L273.9 113.0L274.1 111.7L274.3 113.5L274.5 112.1L274.7 115.0L274.9 109.1L275.1 111.9L275.3 113.8L275.5 111.9L275.7 111.3L275.9 112.2L276.1 110.4L276.3 112.9L276.5 116.6L276.7 114.6L276.9 111.1L277.1 111.5L277.3 112.4L277.5 114.7L277.7 111.8L277.9 112.1L278.1 114.6L278.3 114.7L278.5 112.8L278.7 111.6L278.9 111.0L279.1 112.4L279.3 110.0L279.5 114.8L279.7 112.6L279.9 114.4L280.1 116.7L280.3 115.6L280.5 111.9L280.7 115.2L280.9 115.6L281.1 112.6L281.3 112.3L281.5 113.6L281.7 111.3L281.9 116.1L282.1 110.0L282.3 112.0L282.5 113.3L282.7 113.3L282.9 113.9L283.1 114.1L283.3 113.3L283.5 115.4L283.7 110.2L283.9 113.5L284.1 112.4L284.3 113.7L284.5 113.8L284.7 112.0L284.9 112.4L285.1 114.6L285.3 113.9L285.5 112.2L285.7 116.5L285.9 116.9L286.1 110.9L286.3 113.7L286.5 117.1L286.7 114.4L286.9 113.5L287.1 112.9L287.3 112.4L287.5 112.9L287.7 112.4L287.9 114.4L288.1 112.7L288.3 112.6L288.5 111.5L288.7 113.3L288.9 112.0L289.1 113.2L289.3 115.1L289.5 114.1L289.7 114.4L289.9 114.2L290.1 113.8L290.3 113.5L290.5 113.3L290.7 115.0L290.9 112.2L291.1 116.0L291.3 114.1L291.5 112.9L291.7 113.4L291.9 113.1L292.1 114.5L292.3 113.1L292.5 116.1L292.7 113.1L292.9 110.9L293.1 111.6L293.3 111.4L293.5 114.5L293.7 116.2L293.9 115.6L294.1 112.6L294.3 113.5L294.5 117.5L294.7 115.3L294.9 114.9L295.1 116.6L295.3 118.8L295.5 117.0L295.7 118.3L295.9 115.7L296.1 116.1L296.3 114.3L296.5 113.7L296.7 115.4L296.9 113.9L297.1 115.3L297.3 115.6L297.5 119.1L297.7 114.3L297.9 115.5L298.1 115.4L298.3 116.4L298.5 118.5L298.7 115.1L298.9 114.7L299.1 113.5L299.3 114.6L299.5 116.9L299.7 116.2L299.9 114.6L300.1 115.7L300.3 116.3L300.5 117.1L300.7 115.5L300.9 116.1L301.1 113.7L301.3 114.8L301.5 119.1L301.7 113.3L301.9 116.2L302.1 117.1L302.3 116.3L302.5 115.7L302.7 116.8L302.9 117.0L303.1 116.9L303.3 114.2L303.5 116.9L303.7 115.9L303.9 116.4L304.1 117.6L304.3 118.3L304.5 118.7L304.7 116.6L304.9 118.8L305.1 119.3L305.3 119.2L305.5 119.7L305.7 117.4L305.9 117.4L306.1 118.9L306.3 115.7L306.5 118.1L306.7 115.0L306.9 117.3L307.1 115.3L307.3 116.6L307.5 117.9L307.7 119.3L307.9 119.5L308.1 118.0L308.3 117.8L308.5 116.9L308.7 118.8L308.9 117.8L309.1 119.2L309.3 120.9L309.5 118.3L309.7 116.1L309.9 117.1L310.1 116.2L310.3 116.7L310.5 120.5L310.7 118.9L310.9 116.3L311.1 119.6L311.3 120.5L311.5 118.2L311.7 117.7L311.9 118.3L312.1 119.2L312.3 119.8L312.5 120.6L312.7 120.7L312.9 120.7L313.1 121.0L313.3 120.0L313.5 116.7L313.7 118.8L313.9 119.5L314.1 118.5L314.3 120.4L314.5 118.6L314.7 117.7L314.9 121.2L315.1 120.1L315.3 119.4L315.5 120.5L315.7 120.7L315.9 119.6L316.1 115.4L316.3 118.0L316.5 118.4L316.7 117.6L316.9 119.3L317.1 120.7L317.3 118.2L317.5 117.2L317.7 121.9L317.9 118.2L318.1 117.0L318.3 119.2L318.5 119.4L318.7 117.7L318.9 119.9L319.1 118.0L319.3 117.3L319.5 118.9L319.7 119.8L319.9 117.7L320.1 119.1L320.3 118.4L320.5 122.7L320.7 117.4L320.9 120.5L321.1 118.4L321.3 118.2L321.5 119.4L321.7 119.7L321.9 120.2L322.1 118.8L322.3 117.4L322.5 117.5L322.7 119.0L322.9 119.1L323.1 120.2L323.3 118.8L323.5 119.7L323.7 120.3L323.9 118.3L324.1 115.9L324.3 116.3L324.5 115.9L324.7 120.3L324.9 116.7L325.1 119.7L325.3 118.7L325.5 120.3L325.7 119.3L325.9 117.6L326.1 117.4L326.3 117.8L326.5 117.9L326.7 116.9L326.9 117.6L327.1 119.9L327.3 115.1L327.5 117.9L327.7 116.1L327.9 117.7L328.1 118.6L328.3 117.3L328.5 118.4L328.7 115.0L328.9 118.8L329.1 116.3L329.3 118.0L329.5 117.4L329.7 113.3L329.9 115.9L330.1 117.3L330.3 119.1L330.5 117.2L330.7 117.1L330.9 114.7L331.1 118.7L331.3 119.1L331.5 116.5L331.7 116.0L331.9 113.9L332.1 117.4L332.3 119.9L332.5 116.9L332.7 117.6L332.9 116.4L333.1 114.1L333.3 117.3L333.5 113.5L333.7 114.8L333.9 115.4L334.1 116.1L334.3 115.3L334.5 115.1L334.7 113.3L334.9 112.5L335.1 114.2L335.3 113.0L335.5 112.0L335.7 112.0L335.9 112.9L336.1 110.9L336.3 111.5L336.5 111.0L336.7 113.4L336.9 113.6L337.1 115.8L337.3 110.7L337.5 111.8L337.7 113.9L337.9 112.2L338.1 111.9L338.3 114.7L338.5 111.7L338.7 110.4L338.9 110.1L339.1 112.3L339.3 112.2L339.5 109.7L339.7 110.2L339.9 112.2L340.1 112.1L340.3 110.3L340.5 112.0L340.7 111.8L340.9 108.4L341.1 110.3L341.3 111.2L341.5 109.7L341.7 107.4L341.9 109.9L342.1 111.2L342.3 112.2L342.5 106.8L342.7 113.3L342.9 107.9L343.1 110.7L343.3 111.0L343.5 110.6L343.7 109.4L343.9 107.6L344.1 110.1L344.3 108.3L344.5 105.8L344.7 113.4L344.9 110.5L345.1 112.2L345.3 108.4L345.5 111.9L345.7 112.2L345.9 112.2L346.1 110.2L346.3 108.7L346.5 110.2L346.7 107.5L346.9 108.4L347.1 111.0L347.3 109.6L347.5 110.9L347.7 111.1L347.9 114.0L348.1 113.3L348.3 111.6L348.5 113.5L348.7 110.9L348.9 111.6L349.1 113.5L349.3 110.7L349.5 112.2L349.7 111.0L349.9 113.1L350.1 115.4L350.3 112.3L350.5 113.8L350.7 112.4L350.9 112.3L351.1 112.3L351.3 116.2L351.5 117.6L351.7 115.2L351.9 113.7L352.1 115.8L352.3 114.5L352.5 116.2L352.7 115.6L352.9 115.7L353.1 116.2L353.3 114.7L353.5 115.0L353.7 113.3L353.9 115.1L354.1 113.9L354.3 115.7L354.5 114.7L354.7 116.2L354.9 116.7L355.1 114.2L355.3 115.1L355.5 115.0L355.7 117.4L355.9 118.8L356.1 117.7L356.3 116.1L356.5 118.6L356.7 114.6L356.9 118.8L357.1 115.9L357.3 113.1L357.5 120.5L357.7 119.1L357.9 115.6L358.1 117.3L358.3 116.9L358.5 117.4L358.7 115.3L358.9 116.4L359.1 118.0L359.3 117.7L359.5 119.1L359.7 117.5L359.9 120.8L360.1 116.7L360.3 118.1L360.5 115.2L360.7 116.1L360.9 119.7L361.1 116.6L361.3 118.7L361.5 117.9L361.7 116.6L361.9 117.6L362.1 117.5L362.3 117.6L362.5 119.3L362.7 119.2L362.9 117.6L363.1 117.2L363.3 118.9L363.5 118.4L363.7 120.0L363.9 122.2L364.1 119.8L364.3 118.7L364.5 118.6L364.7 117.7L364.9 117.8L365.1 117.7L365.3 118.6L365.5 118.6L365.7 120.3L365.9 118.8L366.1 119.2L366.3 117.9L366.5 121.9L366.7 120.4L366.9 122.2L367.1 121.0L367.3 122.0L367.5 119.8L367.7 121.2L367.9 123.9L368.1 118.7L368.3 122.0L368.5 122.8L368.7 121.2L368.9 121.7L369.1 122.5L369.3 119.9L369.5 121.4L369.7 119.7L369.9 120.1L370.1 120.2L370.3 120.9L370.5 121.3L370.7 121.8L370.9 119.3L371.1 123.9L371.3 122.8L371.5 122.3L371.7 120.8L371.9 121.2L372.1 122.1L372.3 122.0L372.5 119.2L372.7 122.5L372.9 125.4L373.1 119.0L373.3 122.9L373.5 122.1L373.7 121.4L373.9 123.5L374.1 120.0L374.3 121.9L374.5 123.7L374.7 121.4L374.9 121.2L375.1 121.9L375.3 121.2L375.5 123.9L375.7 120.6L375.9 123.0L376.1 120.2L376.3 122.8L376.5 121.7L376.7 118.4L376.9 121.9L377.1 120.5L377.3 121.4L377.5 124.0L377.7 120.5L377.9 120.6L378.1 123.9L378.3 122.2L378.5 124.1L378.7 122.5L378.9 120.9L379.1 122.0L379.3 123.7L379.5 123.4L379.7 122.1L379.9 122.2L380.1 122.0L380.3 121.4L380.5 124.7L380.7 122.2L380.9 120.7L381.1 121.6L381.3 123.2L381.5 123.1L381.7 122.0L381.9 121.3L382.1 122.3L382.3 120.0L382.5 120.5L382.7 123.3L382.9 121.6L383.1 122.8L383.3 123.9L383.5 123.2L383.7 122.3L383.9 125.2L384.1 123.2L384.3 121.9L384.5 123.3L384.7 122.9L384.9 121.2L385.1 122.5L385.3 122.1L385.5 119.8L385.7 122.2L385.9 122.0L386.1 121.8L386.3 120.2L386.5 121.9L386.7 122.4L386.9 122.6L387.1 120.9L387.3 123.3L387.5 120.8L387.7 122.1L387.9 124.2L388.1 121.5L388.3 121.8L388.5 123.9L388.7 122.0L388.9 122.1L389.1 122.8L389.3 123.9L389.5 119.6L389.7 121.4L389.9 121.2L390.1 121.1L390.3 121.4L390.5 121.4L390.7 122.9L390.9 121.3L391.1 122.7L391.3 123.0L391.5 121.5L391.7 122.7L391.9 124.7L392.1 122.9L392.3 121.6L392.5 122.4L392.7 121.3L392.9 122.8L393.1 123.6L393.3 121.3L393.5 122.1L393.7 123.9L393.9 121.7L394.1 122.6L394.3 121.0L394.5 121.2L394.7 121.6L394.9 125.1L395.1 121.7L395.3 121.6L395.5 121.5L395.7 122.0L395.9 123.0L396.1 122.4L396.3 124.8L396.5 122.4L396.7 123.9L396.9 120.0L397.1 122.8L397.3 120.1L397.5 121.8L397.7 121.9L397.9 121.6L398.1 119.1L398.3 123.0L398.5 121.4L398.7 121.3L398.9 121.5L399.1 121.5L399.3 122.3L399.5 120.1L399.7 120.5L399.9 122.1L400.1 121.9L400.3 121.2L400.5 120.9L400.7 120.6L400.9 121.6L401.1 123.2L401.3 120.3L401.5 123.6L401.7 122.7L401.9 121.0L402.1 122.6L402.3 119.7L402.5 119.4L402.7 119.9L402.9 121.1L403.1 121.2L403.3 120.9L403.5 121.7L403.7 118.9L403.9 122.2L404.1 119.8L404.3 120.8L404.5 121.1L404.7 120.1L404.9 119.8L405.1 120.3L405.3 121.6L405.5 122.4L405.7 122.3L405.9 120.3L406.1 120.6L406.3 120.4L406.5 122.2L406.7 119.0L406.9 123.2L407.1 121.0L407.3 120.6L407.5 122.0L407.7 122.9L407.9 122.0L408.1 122.9L408.3 121.8L408.5 123.2L408.7 123.2L408.9 121.5L409.1 123.4L409.3 121.8L409.5 121.7L409.7 120.4L409.9 121.2L410.1 122.6L410.3 119.9L410.5 122.4L410.7 122.0L410.9 122.0L411.1 118.8L411.3 121.5L411.5 122.4L411.7 120.6L411.9 121.7L412.1 118.6L412.3 122.5L412.5 120.8L412.7 122.7L412.9 119.2L413.1 122.5L413.3 121.3L413.5 122.6L413.7 120.4L413.9 120.8L414.1 124.5L414.3 120.5L414.5 120.7L414.7 121.3L414.9 120.3L415.1 123.1L415.3 123.8L415.5 120.7L415.7 119.4L415.9 123.2L416.1 123.1L416.3 122.7L416.5 123.2L416.7 120.6L416.9 121.5L417.1 120.0L417.3 119.9L417.5 123.0L417.7 120.9L417.9 124.7L418.1 121.9L418.3 121.0L418.5 122.9L418.7 124.2L418.9 122.5L419.1 120.4L419.3 122.4L419.5 123.7L419.7 121.4L419.9 121.0L420.1 123.3L420.3 122.2L420.5 120.7L420.7 121.6L420.9 121.2L421.1 122.5L421.3 122.3L421.5 123.7L421.7 123.2L421.9 120.3L422.1 122.8L422.3 123.5L422.5 122.9L422.7 123.7L422.9 121.7L423.1 121.2L423.3 123.7L423.5 121.1L423.7 119.8L423.9 123.9L424.1 121.7L424.3 122.2L424.5 121.8L424.7 121.0L424.9 121.2L425.1 122.3L425.3 123.2L425.5 119.9L425.7 123.8L425.9 121.3L426.1 121.5L426.3 123.8L426.5 122.8L426.7 121.0L426.9 125.3L427.1 122.0L427.3 123.4L427.5 123.4L427.7 124.9L427.9 122.6L428.1 124.5L428.3 122.3L428.5 124.7L428.7 122.4L428.9 123.0L429.1 125.9L429.3 123.9L429.5 123.7L429.7 126.4L429.9 124.1L430.1 122.7L430.3 124.7L430.5 122.3L430.7 125.2L430.9 125.4L431.1 123.2L431.3 123.2L431.5 124.2L431.7 124.1L431.9 122.9L432.1 124.9L432.3 121.6L432.5 123.7L432.7 123.8L432.9 124.0L433.1 124.8L433.3 122.9L433.5 125.2L433.7 124.3L433.9 123.7L434.1 122.9L434.3 123.1L434.5 125.1L434.7 123.5L434.9 124.8L435.1 126.1L435.3 126.1L435.5 126.8L435.7 124.5L435.9 123.6L436.1 126.3L436.3 125.4L436.5 126.4L436.7 125.1L436.9 126.6L437.1 126.2L437.3 126.1L437.5 125.8L437.7 125.7L437.9 125.6L438.1 125.6L438.3 126.6L438.5 124.7L438.7 127.6L438.9 125.3L439.1 126.7L439.3 125.4L439.5 125.2L439.7 128.1L439.9 125.2L440.1 124.0L440.3 124.8L440.5 125.3L440.7 128.4L440.9 126.0L441.1 127.0L441.3 124.6L441.5 126.3L441.7 126.7L441.9 128.2L442.1 125.1L442.3 126.7L442.5 126.4L442.7 124.8L442.9 126.1L443.1 125.8L443.3 123.2L443.5 126.9L443.7 126.9L443.9 125.7L444.1 124.6L444.3 128.1L444.5 126.6L444.7 127.6L444.9 128.1L445.1 125.7L445.3 127.4L445.5 126.1L445.7 126.4L445.9 126.4L446.1 126.5L446.3 127.9L446.5 126.7L446.7 126.4L446.9 126.2L447.1 127.0L447.3 125.5L447.5 126.0L447.7 126.6L447.9 126.0L448.1 126.5L448.3 125.9L448.5 129.2L448.7 128.4L448.9 127.3L449.1 126.7L449.3 129.5L449.5 127.2L449.7 126.7L449.9 127.2L450.1 127.2L450.3 128.6L450.5 126.8L450.7 129.4L450.9 125.7L451.1 127.7L451.3 125.6L451.5 129.1L451.7 126.4L451.9 126.8L452.1 128.0L452.3 128.4L452.5 125.5L452.7 126.4L452.9 125.1L453.1 127.1L453.3 126.8L453.5 126.5L453.7 126.0L453.9 126.4L454.1 126.0L454.3 127.6L454.5 128.8L454.7 124.5L454.9 126.8L455.1 126.4L455.3 127.5L455.5 125.7L455.7 126.8L455.9 125.6L456.1 127.8L456.3 127.1L456.5 126.7L456.7 127.4L456.9 126.6L457.1 125.0L457.3 127.7L457.5 127.3L457.7 126.8L457.9 128.2L458.1 128.5L458.3 125.6L458.5 126.0L458.7 128.9L458.9 128.7L459.1 126.1L459.3 125.5L459.5 126.2L459.7 126.4L459.9 125.0L460.1 127.0L460.3 125.4L460.5 125.9L460.7 128.1L460.9 126.2L461.1 126.9L461.3 127.8L461.5 128.0L461.7 126.6L461.9 127.1L462.1 126.0L462.3 129.2L462.5 127.8L462.7 125.7L462.9 123.4L463.1 127.9L463.3 127.7L463.5 129.3L463.7 128.8L463.9 126.4L464.1 127.0L464.3 125.5L464.5 127.4L464.7 127.3L464.9 130.4L465.1 127.2L465.3 124.5L465.5 126.3L465.7 127.3L465.9 125.6L466.1 126.1L466.3 126.7L466.5 127.6L466.7 127.0L466.9 126.1L467.1 128.2L467.3 126.5L467.5 126.6L467.7 125.5L467.9 126.2L468.1 128.0L468.3 125.2L468.5 127.2L468.7 128.2L468.9 126.8L469.1 127.6L469.3 125.9L469.5 128.9L469.7 128.7L469.9 127.6L470.1 125.2L470.3 126.1L470.5 128.6L470.7 129.5L470.9 127.8L471.1 129.0L471.3 126.7L471.5 127.2L471.7 127.5L471.9 128.0L472.1 125.6L472.3 128.7L472.5 129.1L472.7 126.1L472.9 125.9L473.1 128.0L473.3 126.7L473.5 124.6L473.7 128.6L473.9 127.8L474.1 127.0L474.3 130.2L474.5 127.8L474.7 126.7L474.9 127.8L475.1 126.4L475.3 126.7L475.5 128.2L475.7 127.0L475.9 127.1L476.1 129.8L476.3 128.8L476.5 128.7L476.7 128.4L476.9 128.3L477.1 129.5L477.3 127.7L477.5 130.0L477.7 126.6L477.9 127.5L478.1 126.1L478.3 127.4L478.5 128.4L478.7 129.6L478.9 127.0L479.1 127.8L479.3 127.4L479.5 126.9L479.7 126.3L479.9 127.9L480.1 125.7L480.3 127.9L480.5 127.8L480.7 127.0L480.9 126.5L481.1 126.1L481.3 130.1L481.5 126.1L481.7 129.7L481.9 128.5L482.1 127.3L482.3 126.3L482.5 129.0L482.7 129.8L482.9 126.6L483.1 127.3L483.3 129.0L483.5 128.1L483.7 130.1L483.9 126.9L484.1 128.3L484.3 126.1L484.5 129.4L484.7 126.7L484.9 124.8L485.1 127.4L485.3 127.3L485.5 130.7L485.7 127.1L485.9 127.4L486.1 128.2L486.3 129.4L486.5 127.3L486.7 128.7L486.9 128.0L487.1 127.0L487.3 127.4L487.5 127.3L487.7 126.2L487.9 128.7L488.1 125.5L488.3 128.7L488.5 128.4L488.7 127.1L488.9 126.2L489.1 126.9L489.3 127.7L489.5 128.0L489.7 127.4L489.9 128.3L490.1 126.4L490.3 127.3L490.5 125.1L490.7 127.9L490.9 127.2L491.1 126.5L491.3 128.4L491.5 127.8L491.7 123.5L491.9 127.0L492.1 125.1L492.3 128.2L492.5 129.9L492.7 126.2L492.9 126.9L493.1 126.5L493.3 127.3L493.5 127.6L493.7 128.4L493.9 125.6L494.1 128.7L494.3 125.7L494.5 127.1L494.7 128.2L494.9 127.7L495.1 125.7L495.3 125.9L495.5 126.2L495.7 126.7L495.9 128.2L496.1 125.2L496.3 127.4L496.5 127.5L496.7 127.5L496.9 127.4L497.1 128.6L497.3 127.4L497.5 127.8L497.7 127.5L497.9 129.0L498.1 124.5L498.3 128.4L498.5 126.5L498.7 126.5L498.9 125.6L499.1 124.5L499.3 126.3L499.5 126.0L499.7 127.4L499.9 125.0L500.1 128.6L500.3 127.1L500.5 126.5L500.7 126.0L500.9 125.9L501.1 125.4L501.3 126.2L501.5 126.8L501.7 126.6L501.9 125.1L502.1 126.5L502.3 125.8L502.5 127.0L502.7 129.1L502.9 127.6L503.1 126.5L503.3 124.9L503.5 125.1L503.7 124.8L503.9 127.7L504.1 125.9L504.3 126.9L504.5 126.1L504.7 127.0L504.9 128.6L505.1 126.1L505.3 126.5L505.5 125.9L505.7 128.0L505.9 125.7L506.1 125.6L506.3 125.2L506.5 125.2L506.7 127.5L506.9 130.1L507.1 125.8L507.3 128.1L507.5 127.3L507.7 125.6L507.9 126.7L508.1 126.7L508.3 126.2L508.5 129.4L508.7 124.7L508.9 127.5L509.1 127.4L509.3 126.4L509.5 127.3L509.7 128.1L509.9 127.3" stroke="#F50580" stroke-width="1.6"/>
<g stroke="#FF8208"><path d="M62.5 221.8L63.0 221.6L63.5 221.5L64.0 221.4L64.5 221.3L65.0 221.3L65.5 221.2" stroke-width="5.53"/><path d="M65.5 221.2L66.0 221.2L66.5 221.1L67.0 221.1L67.5 221.1L68.0 221.0L68.5 220.9" stroke-width="5.56"/><path d="M68.5 220.9L69.0 220.9L69.5 220.8L70.0 220.7L70.5 220.7L71.0 220.6L71.5 220.5" stroke-width="5.58"/><path d="M71.5 220.5L72.0 220.4L72.5 220.3L73.0 220.2L73.5 220.0L74.0 219.8L74.5 219.6" stroke-width="5.61"/><path d="M74.5 219.6L75.0 219.4L75.5 219.2L76.0 219.0L76.5 218.7L77.0 218.4L77.5 218.0" stroke-width="5.63"/><path d="M77.5 218.0L78.0 217.6L78.5 217.1L79.0 216.7L79.5 216.3L80.0 216.0L80.5 215.7" stroke-width="5.66"/><path d="M80.5 215.7L81.0 215.4L81.5 215.2L82.0 214.9L82.5 214.7L83.0 214.5L83.5 214.2" stroke-width="5.68"/><path d="M83.5 214.2L84.0 214.0L84.5 213.8L85.0 213.6L85.5 213.3L86.0 213.1L86.5 212.9" stroke-width="5.71"/><path d="M86.5 212.9L87.0 212.7L87.5 212.5L88.0 212.3L88.5 212.1L89.0 211.9L89.5 211.7" stroke-width="5.73"/><path d="M89.5 211.7L90.0 211.5L90.5 211.3L91.0 211.1L91.5 210.8L92.0 210.6L92.5 210.4" stroke-width="5.76"/><path d="M92.5 210.4L93.0 210.1L93.5 209.9L94.0 209.6L94.5 209.4L95.0 209.1L95.5 208.8" stroke-width="5.78"/><path d="M95.5 208.8L96.0 208.5L96.5 208.2L97.0 207.9L97.5 207.5L98.0 207.1L98.5 206.8" stroke-width="5.81"/><path d="M98.5 206.8L99.0 206.4L99.5 206.0L100.0 205.6L100.5 205.3L101.0 204.9L101.5 204.5" stroke-width="5.83"/><path d="M101.5 204.5L102.0 204.2L102.5 203.9L103.0 203.5L103.5 203.2L104.0 202.9L104.5 202.6" stroke-width="5.86"/><path d="M104.5 202.6L105.0 202.3L105.5 202.0L106.0 201.7L106.5 201.4L107.0 201.1L107.5 200.8" stroke-width="5.88"/><path d="M107.5 200.8L108.0 200.5L108.5 200.2L109.0 199.9L109.5 199.6L110.0 199.3L110.5 199.0" stroke-width="5.91"/><path d="M110.5 199.0L111.0 198.8L111.5 198.5L112.0 198.3L112.5 198.1L113.0 197.9L113.5 197.7" stroke-width="5.93"/><path d="M113.5 197.7L114.0 197.6L114.5 197.4L115.0 197.3L115.5 197.1L116.0 196.9L116.5 196.7" stroke-width="5.96"/><path d="M116.5 196.7L117.0 196.5L117.5 196.3L118.0 196.0L118.5 195.8L119.0 195.5L119.5 195.3" stroke-width="5.98"/><path d="M119.5 195.3L120.0 195.0L120.5 194.7L121.0 194.4L121.5 194.1L122.0 193.7L122.5 193.4" stroke-width="6.04"/><path d="M122.5 193.4L123.0 193.0L123.5 192.7L124.0 192.3L124.5 191.9L125.0 191.5L125.5 191.1" stroke-width="6.16"/><path d="M125.5 191.1L126.0 190.7L126.5 190.4L127.0 190.0L127.5 189.7L128.0 189.4L128.5 189.2" stroke-width="6.28"/><path d="M128.5 189.2L129.0 189.0L129.5 188.8L130.0 188.6L130.5 188.4L131.0 188.2L131.5 188.1" stroke-width="6.40"/><path d="M131.5 188.1L132.0 187.9L132.5 187.7L133.0 187.5L133.5 187.4L134.0 187.2L134.5 187.0" stroke-width="6.52"/><path d="M134.5 187.0L135.0 186.9L135.5 186.7L136.0 186.5L136.5 186.3L137.0 186.1L137.5 185.9" stroke-width="6.64"/><path d="M137.5 185.9L138.0 185.7L138.5 185.5L139.0 185.3L139.5 185.0L140.0 184.8L140.5 184.6" stroke-width="6.76"/><path d="M140.5 184.6L141.0 184.3L141.5 184.1L142.0 183.8L142.5 183.5L143.0 183.2L143.5 182.9" stroke-width="6.88"/><path d="M143.5 182.9L144.0 182.6L144.5 182.2L145.0 181.8L145.5 181.4L146.0 181.0L146.5 180.5" stroke-width="7.00"/><path d="M146.5 180.5L147.0 180.1L147.5 179.6L148.0 179.2L148.5 178.8L149.0 178.4L149.5 178.0" stroke-width="7.20"/><path d="M149.5 178.0L150.0 177.5L150.5 177.1L151.0 176.7L151.5 176.4L152.0 176.0L152.5 175.7" stroke-width="7.40"/><path d="M152.5 175.7L153.0 175.4L153.5 175.1L154.0 174.8L154.5 174.5L155.0 174.2L155.5 173.9" stroke-width="7.60"/><path d="M155.5 173.9L156.0 173.5L156.5 173.1L157.0 172.6L157.5 172.1L158.0 171.6L158.5 171.0" stroke-width="7.80"/><path d="M158.5 171.0L159.0 170.5L159.5 169.9L160.0 169.3L160.5 168.7L161.0 168.1L161.5 167.5" stroke-width="8.00"/><path d="M161.5 167.5L162.0 166.8L162.5 166.2L163.0 165.5L163.5 164.9L164.0 164.3L164.5 163.7" stroke-width="8.75"/><path d="M164.5 163.7L165.0 163.1L165.5 162.6L166.0 162.0L166.5 161.5L167.0 161.0L167.5 160.5" stroke-width="9.50"/><path d="M167.5 160.5L168.0 160.0L168.5 159.5L169.0 159.0L169.5 158.5L170.0 158.0L170.5 157.6" stroke-width="10.00"/><path d="M170.5 157.6L171.0 157.4L171.5 157.2L172.0 157.1L172.5 157.1L173.0 157.0L173.5 156.9" stroke-width="10.00"/><path d="M173.5 156.9L174.0 156.9L174.5 156.9L175.0 156.8L175.5 156.8L176.0 156.8L176.5 156.8" stroke-width="10.00"/><path d="M176.5 156.8L177.0 156.8L177.5 156.8L178.0 156.9L178.5 156.9L179.0 157.0L179.5 157.0" stroke-width="10.00"/><path d="M179.5 157.0L180.0 157.1L180.5 157.1L181.0 157.2L181.5 157.2L182.0 157.2L182.5 157.2" stroke-width="10.00"/><path d="M182.5 157.2L183.0 157.2L183.5 157.2L184.0 157.1L184.5 157.1L185.0 157.1L185.5 157.1" stroke-width="10.00"/><path d="M185.5 157.1L186.0 157.0L186.5 157.0L187.0 157.0L187.5 157.0L188.0 157.1L188.5 157.2" stroke-width="10.00"/><path d="M188.5 157.2L189.0 157.5L189.5 157.9L190.0 158.3L190.5 158.8L191.0 159.3L191.5 159.8" stroke-width="10.00"/><path d="M191.5 159.8L192.0 160.4L192.5 160.9L193.0 161.4L193.5 161.9L194.0 162.4L194.5 162.9" stroke-width="9.62"/><path d="M194.5 162.9L195.0 163.5L195.5 164.1L196.0 164.6L196.5 165.3L197.0 165.9L197.5 166.5" stroke-width="8.50"/><path d="M197.5 166.5L198.0 167.1L198.5 167.8L199.0 168.5L199.5 169.2L200.0 169.9L200.5 170.7" stroke-width="7.38"/><path d="M200.5 170.7L201.0 171.5L201.5 172.3L202.0 173.1L202.5 173.9L203.0 174.7L203.5 175.4" stroke-width="6.90"/><path d="M203.5 175.4L204.0 176.1L204.5 176.8L205.0 177.5L205.5 178.1L206.0 178.7L206.5 179.4" stroke-width="6.75"/><path d="M206.5 179.4L207.0 180.0L207.5 180.6L208.0 181.1L208.5 181.7L209.0 182.2L209.5 182.8" stroke-width="6.60"/><path d="M209.5 182.8L210.0 183.3L210.5 183.8L211.0 184.2L211.5 184.7L212.0 185.2L212.5 185.7" stroke-width="6.45"/><path d="M212.5 185.7L213.0 186.2L213.5 186.7L214.0 187.2L214.5 187.7L215.0 188.2L215.5 188.8" stroke-width="6.30"/><path d="M215.5 188.8L216.0 189.3L216.5 189.8L217.0 190.3L217.5 190.8L218.0 191.3L218.5 191.8" stroke-width="6.15"/><path d="M218.5 191.8L219.0 192.3L219.5 192.8L220.0 193.2L220.5 193.7L221.0 194.2L221.5 194.7" stroke-width="6.00"/><path d="M221.5 194.7L222.0 195.1L222.5 195.6L223.0 196.1L223.5 196.5L224.0 197.0L224.5 197.5" stroke-width="5.85"/><path d="M224.5 197.5L225.0 198.0L225.5 198.4L226.0 198.9L226.5 199.3L227.0 199.6L227.5 200.0" stroke-width="5.70"/><path d="M227.5 200.0L228.0 200.4L228.5 200.7L229.0 201.0L229.5 201.3L230.0 201.6L230.5 201.9" stroke-width="5.55"/><path d="M230.5 201.9L231.0 202.2L231.5 202.5L232.0 202.8L232.5 203.1L233.0 203.3L233.5 203.6" stroke-width="5.40"/><path d="M233.5 203.6L234.0 203.8L234.5 204.1L235.0 204.3L235.5 204.6L236.0 204.8L236.5 205.1" stroke-width="5.25"/><path d="M236.5 205.1L237.0 205.4L237.5 205.6L238.0 205.9L238.5 206.2L239.0 206.4L239.5 206.7" stroke-width="5.10"/><path d="M239.5 206.7L240.0 207.0L240.5 207.3L241.0 207.6L241.5 207.8L242.0 208.1L242.5 208.4" stroke-width="5.00"/><path d="M242.5 208.4L243.0 208.7L243.5 209.0L244.0 209.2L244.5 209.5L245.0 209.8L245.5 210.1" stroke-width="5.00"/><path d="M245.5 210.1L246.0 210.4L246.5 210.6L247.0 210.9L247.5 211.2L248.0 211.4L248.5 211.7" stroke-width="5.00"/><path d="M248.5 211.7L249.0 212.0L249.5 212.2L250.0 212.5L250.5 212.7L251.0 212.9L251.5 213.2" stroke-width="5.00"/><path d="M251.5 213.2L252.0 213.4L252.5 213.7L253.0 213.9L253.5 214.2L254.0 214.4L254.5 214.7" stroke-width="5.00"/><path d="M254.5 214.7L255.0 214.9L255.5 215.2L256.0 215.5L256.5 215.8L257.0 216.0L257.5 216.3" stroke-width="5.00"/><path d="M257.5 216.3L258.0 216.5L258.5 216.7L259.0 216.9L259.5 217.0L260.0 217.1L260.5 217.2" stroke-width="5.00"/><path d="M260.5 217.2L261.0 217.3L261.5 217.4L262.0 217.5L262.5 217.6L263.0 217.7L263.5 217.7" stroke-width="5.00"/><path d="M263.5 217.7L264.0 217.8L264.5 217.9L265.0 218.0L265.5 218.1L266.0 218.2L266.5 218.4" stroke-width="5.00"/><path d="M266.5 218.4L267.0 218.5L267.5 218.6L268.0 218.8L268.5 218.9L269.0 219.0L269.5 219.2" stroke-width="5.00"/><path d="M269.5 219.2L270.0 219.3L270.5 219.4L271.0 219.5L271.5 219.6L272.0 219.7L272.5 219.7" stroke-width="5.00"/><path d="M272.5 219.7L273.0 219.8L273.5 219.9L274.0 220.0L274.5 220.0L275.0 220.1L275.5 220.2" stroke-width="5.00"/><path d="M275.5 220.2L276.0 220.3L276.5 220.3L277.0 220.4L277.5 220.5L278.0 220.6L278.5 220.6" stroke-width="5.00"/><path d="M278.5 220.6L279.0 220.7L279.5 220.8L280.0 220.8L280.5 220.9L281.0 221.0L281.5 221.1" stroke-width="5.00"/><path d="M281.5 221.1L282.0 221.1L282.5 221.2L283.0 221.3L283.5 221.3L284.0 221.4L284.5 221.5" stroke-width="4.99"/><path d="M284.5 221.5L285.0 221.5L285.5 221.6L286.0 221.7L286.5 221.7L287.0 221.8L287.5 221.9" stroke-width="4.98"/><path d="M287.5 221.9L288.0 221.9L288.5 222.0L289.0 222.1L289.5 222.1L290.0 222.2L290.5 222.3" stroke-width="4.97"/><path d="M290.5 222.3L291.0 222.3L291.5 222.4L292.0 222.4L292.5 222.5L293.0 222.5L293.5 222.6" stroke-width="4.97"/><path d="M293.5 222.6L294.0 222.7L294.5 222.7L295.0 222.8L295.5 222.8L296.0 222.9L296.5 222.9" stroke-width="4.96"/><path d="M296.5 222.9L297.0 223.0L297.5 223.0L298.0 223.1L298.5 223.1L299.0 223.2L299.5 223.2" stroke-width="4.95"/><path d="M299.5 223.2L300.0 223.3L300.5 223.3L301.0 223.4L301.5 223.4L302.0 223.5L302.5 223.6" stroke-width="4.94"/><path d="M302.5 223.6L303.0 223.6L303.5 223.7L304.0 223.8L304.5 223.8L305.0 223.9L305.5 224.0" stroke-width="4.93"/><path d="M305.5 224.0L306.0 224.1L306.5 224.1L307.0 224.2L307.5 224.3L308.0 224.4L308.5 224.5" stroke-width="4.92"/><path d="M308.5 224.5L309.0 224.6L309.5 224.7L310.0 224.9L310.5 225.0L311.0 225.1L311.5 225.2" stroke-width="4.91"/><path d="M311.5 225.2L312.0 225.3L312.5 225.4L313.0 225.5L313.5 225.7L314.0 225.8L314.5 225.9" stroke-width="4.91"/><path d="M314.5 225.9L315.0 226.0L315.5 226.1L316.0 226.2L316.5 226.3L317.0 226.4L317.5 226.5" stroke-width="4.90"/><path d="M317.5 226.5L318.0 226.5L318.5 226.6L319.0 226.7L319.5 226.7L320.0 226.8L320.5 226.8" stroke-width="4.89"/><path d="M320.5 226.8L321.0 226.9L321.5 226.9L322.0 227.0L322.5 227.0L323.0 227.1L323.5 227.1" stroke-width="4.88"/><path d="M323.5 227.1L324.0 227.2L324.5 227.2L325.0 227.3L325.5 227.3L326.0 227.3L326.5 227.4" stroke-width="4.87"/><path d="M326.5 227.4L327.0 227.4L327.5 227.5L328.0 227.5L328.5 227.5L329.0 227.6L329.5 227.6" stroke-width="4.86"/><path d="M329.5 227.6L330.0 227.6L330.5 227.7L331.0 227.7L331.5 227.7L332.0 227.7L332.5 227.7" stroke-width="4.85"/><path d="M332.5 227.7L333.0 227.8L333.5 227.8L334.0 227.8L334.5 227.8L335.0 227.8L335.5 227.8" stroke-width="4.85"/><path d="M335.5 227.8L336.0 227.8L336.5 227.8L337.0 227.8L337.5 227.8L338.0 227.8L338.5 227.8" stroke-width="4.84"/><path d="M338.5 227.8L339.0 227.8L339.5 227.8L340.0 227.8L340.5 227.8L341.0 227.8L341.5 227.8" stroke-width="4.83"/><path d="M341.5 227.8L342.0 227.8L342.5 227.9L343.0 227.9L343.5 227.9L344.0 227.9L344.5 227.9" stroke-width="4.82"/><path d="M344.5 227.9L345.0 227.9L345.5 227.9L346.0 227.9L346.5 227.9L347.0 227.9L347.5 227.9" stroke-width="4.81"/><path d="M347.5 227.9L348.0 227.9L348.5 227.9L349.0 227.9L349.5 227.9L350.0 227.9L350.5 227.9" stroke-width="4.80"/><path d="M350.5 227.9L351.0 227.9L351.5 227.9L352.0 228.0L352.5 228.0L353.0 228.0L353.5 228.0" stroke-width="4.79"/><path d="M353.5 228.0L354.0 228.1L354.5 228.1L355.0 228.1L355.5 228.2L356.0 228.2L356.5 228.2" stroke-width="4.77"/><path d="M356.5 228.2L357.0 228.3L357.5 228.3L358.0 228.4L358.5 228.4L359.0 228.4L359.5 228.5" stroke-width="4.75"/><path d="M359.5 228.5L360.0 228.5L360.5 228.6L361.0 228.6L361.5 228.6L362.0 228.7L362.5 228.7" stroke-width="4.73"/><path d="M362.5 228.7L363.0 228.7L363.5 228.7L364.0 228.8L364.5 228.8L365.0 228.8L365.5 228.8" stroke-width="4.71"/><path d="M365.5 228.8L366.0 228.8L366.5 228.8L367.0 228.9L367.5 228.9L368.0 228.9L368.5 228.9" stroke-width="4.69"/><path d="M368.5 228.9L369.0 228.9L369.5 228.9L370.0 228.9L370.5 228.9L371.0 228.9L371.5 228.9" stroke-width="4.67"/><path d="M371.5 228.9L372.0 228.9L372.5 228.9L373.0 229.0L373.5 229.0L374.0 229.0L374.5 229.0" stroke-width="4.66"/><path d="M374.5 229.0L375.0 229.0L375.5 229.0L376.0 229.0L376.5 229.0L377.0 229.0L377.5 229.0" stroke-width="4.64"/><path d="M377.5 229.0L378.0 229.0L378.5 229.1L379.0 229.1L379.5 229.1L380.0 229.1L380.5 229.1" stroke-width="4.62"/><path d="M380.5 229.1L381.0 229.1L381.5 229.2L382.0 229.2L382.5 229.2L383.0 229.2L383.5 229.3" stroke-width="4.60"/><path d="M383.5 229.3L384.0 229.3L384.5 229.3L385.0 229.4L385.5 229.4L386.0 229.4L386.5 229.5" stroke-width="4.58"/><path d="M386.5 229.5L387.0 229.5L387.5 229.5L388.0 229.6L388.5 229.6L389.0 229.7L389.5 229.7" stroke-width="4.56"/><path d="M389.5 229.7L390.0 229.7L390.5 229.8L391.0 229.8L391.5 229.8L392.0 229.9L392.5 229.9" stroke-width="4.54"/><path d="M392.5 229.9L393.0 229.9L393.5 229.9L394.0 230.0L394.5 230.0L395.0 230.0L395.5 230.0" stroke-width="4.52"/><path d="M395.5 230.0L396.0 230.0L396.5 230.0L397.0 230.1L397.5 230.1L398.0 230.1L398.5 230.1" stroke-width="4.51"/><path d="M398.5 230.1L399.0 230.1L399.5 230.1L400.0 230.1L400.5 230.1L401.0 230.1L401.5 230.2" stroke-width="4.49"/><path d="M401.5 230.2L402.0 230.2L402.5 230.2L403.0 230.2L403.5 230.2L404.0 230.2L404.5 230.2" stroke-width="4.47"/><path d="M404.5 230.2L405.0 230.2L405.5 230.2L406.0 230.2L406.5 230.2L407.0 230.3L407.5 230.3" stroke-width="4.45"/><path d="M407.5 230.3L408.0 230.3L408.5 230.3L409.0 230.3L409.5 230.3L410.0 230.3L410.5 230.3" stroke-width="4.43"/><path d="M410.5 230.3L411.0 230.3L411.5 230.3L412.0 230.3L412.5 230.3L413.0 230.4L413.5 230.4" stroke-width="4.41"/><path d="M413.5 230.4L414.0 230.4L414.5 230.4L415.0 230.4L415.5 230.4L416.0 230.4L416.5 230.4" stroke-width="4.39"/><path d="M416.5 230.4L417.0 230.4L417.5 230.4L418.0 230.4L418.5 230.4L419.0 230.4L419.5 230.5" stroke-width="4.38"/><path d="M419.5 230.5L420.0 230.5L420.5 230.5L421.0 230.5L421.5 230.5L422.0 230.5L422.5 230.5" stroke-width="4.36"/><path d="M422.5 230.5L423.0 230.5L423.5 230.5L424.0 230.5L424.5 230.5L425.0 230.5L425.5 230.5" stroke-width="4.34"/><path d="M425.5 230.5L426.0 230.5L426.5 230.6L427.0 230.6L427.5 230.6L428.0 230.6L428.5 230.6" stroke-width="4.32"/><path d="M428.5 230.6L429.0 230.6L429.5 230.6L430.0 230.6L430.5 230.6L431.0 230.6L431.5 230.6" stroke-width="4.30"/><path d="M431.5 230.6L432.0 230.6L432.5 230.6L433.0 230.6L433.5 230.7L434.0 230.7L434.5 230.7" stroke-width="4.29"/><path d="M434.5 230.7L435.0 230.7L435.5 230.7L436.0 230.7L436.5 230.7L437.0 230.7L437.5 230.7" stroke-width="4.29"/><path d="M437.5 230.7L438.0 230.7L438.5 230.7L439.0 230.7L439.5 230.7L440.0 230.8L440.5 230.8" stroke-width="4.28"/><path d="M440.5 230.8L441.0 230.8L441.5 230.8L442.0 230.8L442.5 230.8L443.0 230.8L443.5 230.8" stroke-width="4.27"/><path d="M443.5 230.8L444.0 230.8L444.5 230.8L445.0 230.8L445.5 230.8L446.0 230.9L446.5 230.9" stroke-width="4.27"/><path d="M446.5 230.9L447.0 230.9L447.5 230.9L448.0 230.9L448.5 230.9L449.0 230.9L449.5 230.9" stroke-width="4.26"/><path d="M449.5 230.9L450.0 230.9L450.5 230.9L451.0 230.9L451.5 230.9L452.0 230.9L452.5 230.9" stroke-width="4.25"/><path d="M452.5 230.9L453.0 230.9L453.5 231.0L454.0 231.0L454.5 231.0L455.0 231.0L455.5 231.0" stroke-width="4.25"/><path d="M455.5 231.0L456.0 231.0L456.5 231.0L457.0 231.0L457.5 231.0L458.0 231.0L458.5 231.0" stroke-width="4.24"/><path d="M458.5 231.0L459.0 231.0L459.5 231.0L460.0 231.0L460.5 231.0L461.0 231.0L461.5 231.0" stroke-width="4.23"/><path d="M461.5 231.0L462.0 231.0L462.5 231.0L463.0 231.0L463.5 231.0L464.0 231.0L464.5 231.0" stroke-width="4.23"/><path d="M464.5 231.0L465.0 231.0L465.5 231.0L466.0 231.0L466.5 231.0L467.0 231.0L467.5 231.0" stroke-width="4.22"/><path d="M467.5 231.0L468.0 231.0L468.5 231.0L469.0 231.0L469.5 231.0L470.0 231.0L470.5 231.0" stroke-width="4.21"/><path d="M470.5 231.0L471.0 231.0L471.5 231.0L472.0 231.0L472.5 231.0L473.0 231.0L473.5 231.0" stroke-width="4.21"/><path d="M473.5 231.0L474.0 231.0L474.5 231.0L475.0 231.0L475.5 231.0L476.0 231.0L476.5 231.0" stroke-width="4.20"/><path d="M476.5 231.0L477.0 231.0L477.5 231.0L478.0 231.0L478.5 231.0L479.0 231.0L479.5 231.0" stroke-width="4.19"/><path d="M479.5 231.0L480.0 231.0L480.5 231.0L481.0 231.0L481.5 231.0L482.0 231.0L482.5 231.0" stroke-width="4.19"/><path d="M482.5 231.0L483.0 231.0L483.5 231.0L484.0 231.0L484.5 231.0L485.0 231.0L485.5 231.0" stroke-width="4.18"/><path d="M485.5 231.0L486.0 231.0L486.5 231.0L487.0 231.0L487.5 231.0L488.0 231.0L488.5 231.0" stroke-width="4.17"/><path d="M488.5 231.0L489.0 231.0L489.5 231.0L490.0 231.0L490.5 231.0L491.0 231.0L491.5 231.0" stroke-width="4.17"/><path d="M491.5 231.0L492.0 231.0L492.5 231.0L493.0 231.0L493.5 231.0L494.0 231.0L494.5 231.0" stroke-width="4.16"/><path d="M494.5 231.0L495.0 231.0L495.5 231.0L496.0 231.0L496.5 231.0L497.0 231.0L497.5 231.0" stroke-width="4.15"/><path d="M497.5 231.0L498.0 231.0L498.5 231.0L499.0 231.0L499.5 231.0L500.0 231.0L500.5 231.0" stroke-width="4.15"/><path d="M500.5 231.0L501.0 231.0L501.5 231.0L502.0 231.0L502.5 231.0L503.0 231.0L503.5 231.0" stroke-width="4.14"/><path d="M503.5 231.0L504.0 231.0L504.5 231.0L505.0 231.0L505.5 231.0L506.0 231.0L506.5 231.0" stroke-width="4.13"/><path d="M506.5 231.0L507.0 231.0L507.5 231.0L508.0 231.0L508.5 231.0L509.0 231.0L509.5 231.0" stroke-width="4.13"/><path d="M509.5 231.0L510.0 231.0" stroke-width="4.12"/></g>

<path d="M62.5 222.3L62.7 224.1L62.9 218.8L63.1 222.6L63.3 220.1L63.5 221.8L63.7 222.2L63.9 222.7L64.1 220.0L64.3 221.6L64.5 218.7L64.7 218.2L64.9 222.3L65.1 221.0L65.3 217.7L65.5 219.3L65.7 221.1L65.9 224.4L66.1 223.3L66.3 222.7L66.5 217.2L66.7 220.8L66.9 222.0L67.1 221.8L67.3 221.8L67.5 220.4L67.7 224.7L67.9 224.0L68.1 220.7L68.3 218.7L68.5 225.2L68.7 219.6L68.9 223.3L69.1 224.8L69.3 218.7L69.5 221.3L69.7 219.9L69.9 221.7L70.1 221.3L70.3 224.7L70.5 221.8L70.7 220.5L70.9 222.9L71.1 219.9L71.3 219.6L71.5 225.2L71.7 218.6L71.9 219.2L72.1 220.3L72.3 217.9L72.5 215.6L72.7 222.4L72.9 218.4L73.1 218.8L73.3 219.1L73.5 217.8L73.7 217.5L73.9 220.1L74.1 224.9L74.3 221.2L74.5 221.1L74.7 216.2L74.9 219.3L75.1 216.7L75.3 220.9L75.5 218.6L75.7 219.1L75.9 218.7L76.1 217.6L76.3 215.4L76.5 219.9L76.7 215.5L76.9 215.8L77.1 217.5L77.3 216.5L77.5 218.4L77.7 219.9L77.9 218.1L78.1 217.8L78.3 217.2L78.5 218.9L78.7 212.8L78.9 217.5L79.1 214.5L79.3 213.7L79.5 216.2L79.7 215.2L79.9 217.2L80.1 218.2L80.3 210.6L80.5 215.4L80.7 219.8L80.9 217.3L81.1 218.4L81.3 215.4L81.5 211.9L81.7 212.5L81.9 216.4L82.1 216.9L82.3 213.0L82.5 214.0L82.7 215.0L82.9 210.5L83.1 213.5L83.3 217.8L83.5 218.9L83.7 213.8L83.9 218.0L84.1 212.7L84.3 211.9L84.5 208.7L84.7 215.7L84.9 212.6L85.1 218.6L85.3 214.0L85.5 213.6L85.7 209.1L85.9 216.4L86.1 212.2L86.3 212.5L86.5 207.9L86.7 214.8L86.9 214.8L87.1 211.2L87.3 212.7L87.5 213.3L87.7 214.4L87.9 212.4L88.1 216.0L88.3 211.5L88.5 210.6L88.7 210.8L88.9 206.1L89.1 209.9L89.3 213.9L89.5 212.1L89.7 209.6L89.9 212.2L90.1 206.8L90.3 210.6L90.5 212.3L90.7 212.6L90.9 209.2L91.1 212.9L91.3 215.0L91.5 209.8L91.7 212.3L91.9 207.0L92.1 206.0L92.3 211.7L92.5 210.3L92.7 210.6L92.9 208.7L93.1 209.3L93.3 211.7L93.5 213.6L93.7 209.2L93.9 205.8L94.1 212.3L94.3 210.7L94.5 210.8L94.7 209.5L94.9 214.3L95.1 209.1L95.3 210.0L95.5 204.5L95.7 207.3L95.9 206.9L96.1 208.3L96.3 209.0L96.5 206.4L96.7 211.9L96.9 205.4L97.1 206.7L97.3 208.1L97.5 204.6L97.7 208.5L97.9 208.5L98.1 206.3L98.3 211.1L98.5 206.8L98.7 207.1L98.9 204.2L99.1 202.4L99.3 204.6L99.5 205.2L99.7 204.7L99.9 207.3L100.1 200.0L100.3 202.7L100.5 201.0L100.7 208.1L100.9 203.6L101.1 203.5L101.3 202.0L101.5 206.5L101.7 203.3L101.9 204.7L102.1 199.4L102.3 206.6L102.5 204.7L102.7 204.9L102.9 206.3L103.1 202.9L103.3 202.9L103.5 204.8L103.7 204.0L103.9 202.3L104.1 201.0L104.3 201.4L104.5 204.1L104.7 204.5L104.9 202.2L105.1 206.4L105.3 198.4L105.5 201.3L105.7 205.7L105.9 200.7L106.1 197.8L106.3 204.6L106.5 202.5L106.7 198.4L106.9 202.8L107.1 198.5L107.3 197.7L107.5 200.3L107.7 199.4L107.9 197.9L108.1 199.5L108.3 197.9L108.5 200.2L108.7 199.9L108.9 201.6L109.1 198.7L109.3 196.5L109.5 196.4L109.7 198.8L109.9 202.8L110.1 201.1L110.3 197.6L110.5 201.1L110.7 196.1L110.9 201.1L111.1 197.7L111.3 200.3L111.5 199.9L111.7 197.7L111.9 199.0L112.1 195.7L112.3 197.9L112.5 200.5L112.7 205.0L112.9 199.5L113.1 198.0L113.3 195.3L113.5 200.1L113.7 193.7L113.9 195.6L114.1 198.3L114.3 194.6L114.5 200.9L114.7 199.8L114.9 195.9L115.1 195.8L115.3 194.0L115.5 193.7L115.7 198.0L115.9 198.3L116.1 197.6L116.3 197.3L116.5 195.3L116.7 197.4L116.9 192.9L117.1 196.3L117.3 199.7L117.5 199.3L117.7 195.0L117.9 195.2L118.1 199.1L118.3 200.0L118.5 192.1L118.7 194.6L118.9 196.0L119.1 198.3L119.3 193.3L119.5 196.7L119.7 194.3L119.9 200.6L120.1 195.9L120.3 194.4L120.5 193.8L120.7 197.0L120.9 196.0L121.1 191.6L121.3 194.6L121.5 190.8L121.7 192.0L121.9 190.6L122.1 190.4L122.3 191.8L122.5 190.9L122.7 194.4L122.9 194.9L123.1 192.3L123.3 190.0L123.5 194.5L123.7 187.6L123.9 187.6L124.1 193.9L124.3 193.5L124.5 194.2L124.7 191.2L124.9 188.5L125.1 190.1L125.3 192.6L125.5 189.2L125.7 189.2L125.9 187.4L126.1 187.8L126.3 192.4L126.5 191.3L126.7 187.3L126.9 187.4L127.1 188.5L127.3 191.0L127.5 186.8L127.7 189.0L127.9 184.2L128.1 186.2L128.3 190.2L128.5 191.2L128.7 186.2L128.9 187.0L129.1 190.7L129.3 187.8L129.5 187.3L129.7 189.8L129.9 189.0L130.1 191.1L130.3 190.3L130.5 186.9L130.7 188.0L130.9 188.0L131.1 184.8L131.3 185.7L131.5 190.3L131.7 184.0L131.9 190.2L132.1 188.5L132.3 187.4L132.5 188.9L132.7 188.7L132.9 190.4L133.1 186.4L133.3 186.8L133.5 186.7L133.7 191.8L133.9 189.4L134.1 184.8L134.3 186.2L134.5 185.2L134.7 186.9L134.9 187.3L135.1 192.3L135.3 182.2L135.5 189.1L135.7 187.6L135.9 184.7L136.1 186.0L136.3 185.1L136.5 186.3L136.7 188.6L136.9 182.3L137.1 189.2L137.3 185.0L137.5 189.5L137.7 186.7L137.9 188.7L138.1 187.0L138.3 188.1L138.5 185.5L138.7 183.3L138.9 186.9L139.1 186.9L139.3 190.2L139.5 180.0L139.7 184.4L139.9 187.4L140.1 181.6L140.3 184.0L140.5 189.7L140.7 187.9L140.9 182.1L141.1 187.7L141.3 187.0L141.5 185.9L141.7 184.8L141.9 184.4L142.1 181.5L142.3 182.3L142.5 186.4L142.7 183.7L142.9 187.8L143.1 182.3L143.3 177.0L143.5 182.0L143.7 183.4L143.9 183.5L144.1 182.6L144.3 180.3L144.5 185.9L144.7 180.4L144.9 183.6L145.1 181.0L145.3 178.6L145.5 184.9L145.7 174.9L145.9 178.9L146.1 181.9L146.3 179.8L146.5 182.3L146.7 180.0L146.9 179.0L147.1 185.3L147.3 179.2L147.5 179.2L147.7 176.7L147.9 177.4L148.1 180.7L148.3 180.3L148.5 178.7L148.7 176.8L148.9 180.1L149.1 174.0L149.3 177.2L149.5 177.3L149.7 175.6L149.9 178.0L150.1 175.7L150.3 175.2L150.5 181.6L150.7 178.8L150.9 179.8L151.1 176.8L151.3 178.9L151.5 178.3L151.7 179.3L151.9 182.1L152.1 175.3L152.3 176.4L152.5 175.5L152.7 167.8L152.9 171.8L153.1 175.3L153.3 176.8L153.5 173.5L153.7 177.9L153.9 178.2L154.1 173.6L154.3 178.4L154.5 179.1L154.7 175.6L154.9 171.6L155.1 178.0L155.3 173.6L155.5 172.8L155.7 174.0L155.9 172.1L156.1 176.3L156.3 175.4L156.5 176.4L156.7 174.5L156.9 170.6L157.1 172.1L157.3 174.7L157.5 171.0L157.7 179.9L157.9 171.0L158.1 169.9L158.3 174.4L158.5 173.1L158.7 170.7L158.9 169.9L159.1 171.5L159.3 172.4L159.5 172.0L159.7 168.8L159.9 170.6L160.1 171.6L160.3 171.1L160.5 160.2L160.7 165.9L160.9 166.0L161.1 167.3L161.3 168.2L161.5 170.1L161.7 169.0L161.9 166.6L162.1 166.7L162.3 171.5L162.5 164.4L162.7 166.8L162.9 170.2L163.1 166.4L163.3 159.2L163.5 166.0L163.7 163.5L163.9 164.1L164.1 167.3L164.3 165.3L164.5 162.9L164.7 166.1L164.9 164.6L165.1 163.3L165.3 163.7L165.5 163.3L165.7 161.3L165.9 160.8L166.1 162.0L166.3 158.8L166.5 157.7L166.7 165.2L166.9 160.3L167.1 160.8L167.3 160.3L167.5 160.5L167.7 160.3L167.9 160.3L168.1 157.4L168.3 162.6L168.5 157.4L168.7 162.5L168.9 153.2L169.1 155.6L169.3 161.8L169.5 158.0L169.7 156.2L169.9 159.3L170.1 154.7L170.3 158.0L170.5 150.7L170.7 156.1L170.9 155.3L171.1 159.0L171.3 160.0L171.5 154.5L171.7 162.3L171.9 155.2L172.1 150.5L172.3 149.4L172.5 162.0L172.7 156.7L172.9 154.9L173.1 154.6L173.3 153.4L173.5 161.3L173.7 156.6L173.9 162.8L174.1 156.2L174.3 149.2L174.5 159.6L174.7 155.6L174.9 156.1L175.1 162.0L175.3 156.0L175.5 160.6L175.7 156.8L175.9 154.3L176.1 158.5L176.3 154.8L176.5 160.8L176.7 159.9L176.9 157.0L177.1 158.8L177.3 158.7L177.5 156.0L177.7 159.7L177.9 156.2L178.1 158.9L178.3 153.9L178.5 157.3L178.7 158.3L178.9 154.5L179.1 155.7L179.3 155.3L179.5 159.3L179.7 154.8L179.9 158.5L180.1 161.9L180.3 158.3L180.5 152.1L180.7 157.6L180.9 160.4L181.1 156.3L181.3 160.6L181.5 159.1L181.7 158.5L181.9 156.4L182.1 155.6L182.3 156.4L182.5 157.4L182.7 158.8L182.9 158.5L183.1 156.3L183.3 157.4L183.5 158.4L183.7 152.3L183.9 154.9L184.1 154.8L184.3 156.5L184.5 156.3L184.7 156.4L184.9 154.5L185.1 159.1L185.3 163.9L185.5 152.2L185.7 157.1L185.9 153.8L186.1 163.3L186.3 155.7L186.5 155.9L186.7 157.3L186.9 156.5L187.1 156.9L187.3 161.5L187.5 157.7L187.7 159.5L187.9 160.3L188.1 154.3L188.3 162.1L188.5 159.3L188.7 160.1L188.9 155.0L189.1 160.0L189.3 158.9L189.5 156.4L189.7 164.5L189.9 159.9L190.1 157.8L190.3 159.2L190.5 161.4L190.7 162.2L190.9 160.9L191.1 162.8L191.3 163.8L191.5 156.5L191.7 158.8L191.9 157.7L192.1 160.8L192.3 164.7L192.5 162.7L192.7 158.3L192.9 160.6L193.1 164.4L193.3 160.3L193.5 161.7L193.7 163.0L193.9 157.4L194.1 164.7L194.3 163.7L194.5 164.5L194.7 160.6L194.9 161.4L195.1 162.1L195.3 164.5L195.5 164.3L195.7 164.7L195.9 169.3L196.1 168.2L196.3 163.2L196.5 163.6L196.7 170.0L196.9 165.0L197.1 169.6L197.3 170.4L197.5 165.2L197.7 166.1L197.9 167.3L198.1 165.1L198.3 165.1L198.5 166.8L198.7 170.3L198.9 167.2L199.1 168.1L199.3 167.8L199.5 165.8L199.7 173.2L199.9 164.0L200.1 168.5L200.3 171.8L200.5 167.3L200.7 172.6L200.9 174.5L201.1 169.5L201.3 172.5L201.5 169.6L201.7 173.9L201.9 173.2L202.1 173.8L202.3 177.0L202.5 175.1L202.7 177.6L202.9 176.1L203.1 171.9L203.3 175.8L203.5 176.7L203.7 172.1L203.9 179.4L204.1 176.5L204.3 177.5L204.5 174.6L204.7 177.3L204.9 178.1L205.1 176.8L205.3 178.1L205.5 172.9L205.7 181.8L205.9 175.9L206.1 173.5L206.3 176.8L206.5 177.3L206.7 181.0L206.9 177.6L207.1 180.8L207.3 178.0L207.5 186.1L207.7 182.2L207.9 185.9L208.1 178.8L208.3 183.2L208.5 179.3L208.7 183.4L208.9 183.9L209.1 178.4L209.3 179.8L209.5 179.9L209.7 179.3L209.9 181.4L210.1 181.0L210.3 180.0L210.5 184.0L210.7 185.4L210.9 180.9L211.1 183.0L211.3 184.6L211.5 184.2L211.7 183.2L211.9 187.2L212.1 187.5L212.3 187.2L212.5 185.2L212.7 190.9L212.9 190.5L213.1 185.3L213.3 186.2L213.5 189.7L213.7 184.9L213.9 188.1L214.1 187.5L214.3 185.8L214.5 187.2L214.7 184.1L214.9 186.8L215.1 183.4L215.3 194.3L215.5 192.5L215.7 192.1L215.9 190.0L216.1 191.9L216.3 192.8L216.5 192.3L216.7 192.3L216.9 187.9L217.1 191.5L217.3 189.3L217.5 187.9L217.7 188.2L217.9 192.3L218.1 194.0L218.3 188.2L218.5 196.1L218.7 195.3L218.9 191.2L219.1 191.2L219.3 192.4L219.5 195.2L219.7 192.0L219.9 190.4L220.1 194.2L220.3 188.4L220.5 194.1L220.7 196.8L220.9 194.8L221.1 196.2L221.3 195.7L221.5 196.5L221.7 195.2L221.9 187.6L222.1 194.7L222.3 195.2L222.5 198.7L222.7 199.8L222.9 201.8L223.1 194.3L223.3 194.5L223.5 196.1L223.7 200.2L223.9 197.8L224.1 197.0L224.3 195.4L224.5 199.7L224.7 198.4L224.9 197.8L225.1 198.3L225.3 202.4L225.5 198.0L225.7 202.8L225.9 201.9L226.1 199.1L226.3 201.3L226.5 199.0L226.7 197.4L226.9 198.9L227.1 197.5L227.3 201.1L227.5 200.0L227.7 201.6L227.9 202.3L228.1 193.0L228.3 201.3L228.5 196.2L228.7 201.2L228.9 198.8L229.1 201.3L229.3 204.6L229.5 197.1L229.7 201.9L229.9 201.4L230.1 197.0L230.3 203.4L230.5 202.0L230.7 200.8L230.9 200.4L231.1 209.7L231.3 201.4L231.5 198.1L231.7 200.3L231.9 201.8L232.1 201.9L232.3 202.8L232.5 200.5L232.7 204.5L232.9 202.1L233.1 200.0L233.3 201.5L233.5 202.6L233.7 205.8L233.9 205.0L234.1 203.0L234.3 204.0L234.5 204.6L234.7 209.2L234.9 202.7L235.1 205.5L235.3 206.3L235.5 202.2L235.7 205.1L235.9 205.2L236.1 203.7L236.3 206.4L236.5 207.6L236.7 208.0L236.9 204.8L237.1 205.9L237.3 211.3L237.5 202.9L237.7 206.3L237.9 208.0L238.1 206.3L238.3 207.7L238.5 206.6L238.7 208.1L238.9 209.6L239.1 206.0L239.3 207.1L239.5 206.6L239.7 205.8L239.9 206.9L240.1 204.3L240.3 209.0L240.5 211.5L240.7 211.6L240.9 210.7L241.1 205.2L241.3 211.5L241.5 206.1L241.7 207.8L241.9 212.6L242.1 205.5L242.3 210.4L242.5 209.1L242.7 208.1L242.9 206.5L243.1 209.8L243.3 207.7L243.5 211.5L243.7 212.1L243.9 205.8L244.1 208.0L244.3 208.6L244.5 206.6L244.7 206.9L244.9 210.0L245.1 209.3L245.3 205.9L245.5 208.8L245.7 211.5L245.9 207.3L246.1 208.1L246.3 214.4L246.5 213.9L246.7 206.8L246.9 207.5L247.1 211.9L247.3 208.1L247.5 210.6L247.7 210.2L247.9 212.8L248.1 205.3L248.3 206.2L248.5 208.7L248.7 214.3L248.9 211.5L249.1 207.8L249.3 213.3L249.5 214.0L249.7 211.7L249.9 211.6L250.1 213.6L250.3 215.6L250.5 213.1L250.7 214.1L250.9 212.8L251.1 212.1L251.3 210.8L251.5 213.8L251.7 212.5L251.9 212.8L252.1 215.8L252.3 214.8L252.5 215.8L252.7 209.9L252.9 215.2L253.1 212.5L253.3 212.1L253.5 212.1L253.7 217.2L253.9 216.4L254.1 212.7L254.3 211.8L254.5 214.7L254.7 215.9L254.9 219.0L255.1 211.4L255.3 210.6L255.5 214.6L255.7 215.3L255.9 215.8L256.1 217.4L256.3 220.7L256.5 214.9L256.7 214.5L256.9 211.6L257.1 216.7L257.3 218.3L257.5 215.6L257.7 219.3L257.9 216.5L258.1 220.3L258.3 217.4L258.5 214.1L258.7 215.2L258.9 213.1L259.1 212.6L259.3 217.6L259.5 219.2L259.7 221.9L259.9 217.0L260.1 216.6L260.3 214.5L260.5 219.7L260.7 218.2L260.9 215.9L261.1 219.1L261.3 218.8L261.5 212.8L261.7 219.3L261.9 217.8L262.1 216.6L262.3 216.5L262.5 221.9L262.7 221.4L262.9 222.1L263.1 214.9L263.3 216.1L263.5 220.0L263.7 214.8L263.9 216.0L264.1 213.4L264.3 222.4L264.5 220.5L264.7 219.1L264.9 218.5L265.1 217.0L265.3 217.1L265.5 219.6L265.7 216.4L265.9 221.2L266.1 217.0L266.3 216.2L266.5 221.5L266.7 218.1L266.9 219.8L267.1 217.5L267.3 213.1L267.5 220.0L267.7 215.4L267.9 221.4L268.1 215.0L268.3 214.3L268.5 219.7L268.7 220.0L268.9 219.3L269.1 216.1L269.3 221.3L269.5 215.6L269.7 218.1L269.9 217.3L270.1 218.4L270.3 221.4L270.5 217.8L270.7 220.8L270.9 221.2L271.1 215.6L271.3 216.7L271.5 218.6L271.7 218.2L271.9 220.4L272.1 214.9L272.3 221.5L272.5 221.6L272.7 219.4L272.9 216.4L273.1 219.8L273.3 218.5L273.5 221.3L273.7 219.7L273.9 221.7L274.1 218.9L274.3 223.5L274.5 214.4L274.7 217.6L274.9 221.3L275.1 216.4L275.3 222.0L275.5 217.2L275.7 220.4L275.9 218.0L276.1 219.2L276.3 220.7L276.5 220.1L276.7 219.4L276.9 225.7L277.1 220.4L277.3 218.1L277.5 222.7L277.7 222.5L277.9 223.5L278.1 224.9L278.3 218.3L278.5 223.2L278.7 223.4L278.9 220.7L279.1 221.3L279.3 213.4L279.5 219.4L279.7 225.2L279.9 216.5L280.1 219.5L280.3 221.6L280.5 222.3L280.7 224.9L280.9 216.7L281.1 221.1L281.3 223.1L281.5 217.9L281.7 221.0L281.9 225.7L282.1 224.4L282.3 222.5L282.5 214.8L282.7 220.9L282.9 222.2L283.1 220.5L283.3 221.2L283.5 228.7L283.7 220.8L283.9 217.2L284.1 222.0L284.3 220.7L284.5 220.7L284.7 221.3L284.9 223.4L285.1 222.1L285.3 218.7L285.5 221.3L285.7 222.8L285.9 220.5L286.1 219.8L286.3 223.6L286.5 219.3L286.7 222.6L286.9 226.6L287.1 225.6L287.3 221.7L287.5 224.1L287.7 220.3L287.9 218.4L288.1 223.3L288.3 222.6L288.5 223.3L288.7 222.0L288.9 222.9L289.1 220.8L289.3 223.3L289.5 224.2L289.7 222.0L289.9 224.2L290.1 217.9L290.3 220.3L290.5 225.8L290.7 226.6L290.9 222.9L291.1 222.1L291.3 219.3L291.5 223.3L291.7 224.3L291.9 218.8L292.1 223.8L292.3 223.7L292.5 223.6L292.7 219.8L292.9 223.9L293.1 218.9L293.3 226.2L293.5 222.9L293.7 219.8L293.9 225.9L294.1 225.5L294.3 221.1L294.5 228.1L294.7 220.3L294.9 223.5L295.1 225.6L295.3 217.3L295.5 225.2L295.7 222.7L295.9 222.8L296.1 220.3L296.3 223.7L296.5 220.2L296.7 220.6L296.9 221.9L297.1 220.0L297.3 226.8L297.5 219.8L297.7 221.2L297.9 222.3L298.1 223.1L298.3 225.0L298.5 225.1L298.7 222.4L298.9 222.2L299.1 223.3L299.3 225.2L299.5 224.9L299.7 222.0L299.9 218.3L300.1 228.5L300.3 225.6L300.5 224.0L300.7 224.2L300.9 222.1L301.1 221.0L301.3 222.6L301.5 222.9L301.7 222.0L301.9 220.0L302.1 222.8L302.3 224.9L302.5 222.4L302.7 223.6L302.9 218.6L303.1 223.1L303.3 223.4L303.5 220.7L303.7 219.5L303.9 224.7L304.1 221.8L304.3 225.0L304.5 222.8L304.7 225.4L304.9 223.1L305.1 220.3L305.3 223.7L305.5 223.2L305.7 225.6L305.9 222.9L306.1 223.1L306.3 226.2L306.5 227.0L306.7 226.0L306.9 226.7L307.1 225.4L307.3 226.2L307.5 226.5L307.7 225.3L307.9 224.6L308.1 224.8L308.3 230.3L308.5 224.6L308.7 224.0L308.9 223.7L309.1 224.6L309.3 225.3L309.5 222.0L309.7 220.0L309.9 225.6L310.1 221.0L310.3 225.6L310.5 225.3L310.7 227.8L310.9 229.1L311.1 226.0L311.3 223.8L311.5 222.4L311.7 223.3L311.9 225.4L312.1 220.3L312.3 225.6L312.5 225.4L312.7 227.0L312.9 224.7L313.1 225.8L313.3 223.8L313.5 224.5L313.7 221.4L313.9 226.0L314.1 229.5L314.3 226.2L314.5 226.8L314.7 223.5L314.9 229.4L315.1 224.2L315.3 228.0L315.5 226.3L315.7 223.8L315.9 228.7L316.1 226.2L316.3 226.7L316.5 227.4L316.7 226.3L316.9 225.4L317.1 227.5L317.3 225.5L317.5 226.6L317.7 224.9L317.9 222.9L318.1 224.9L318.3 225.4L318.5 226.7L318.7 229.5L318.9 222.6L319.1 227.0L319.3 221.4L319.5 224.2L319.7 225.5L319.9 221.4L320.1 222.3L320.3 227.2L320.5 227.0L320.7 226.1L320.9 224.9L321.1 232.1L321.3 226.5L321.5 224.9L321.7 231.0L321.9 228.5L322.1 226.1L322.3 229.9L322.5 227.4L322.7 228.6L322.9 227.6L323.1 224.6L323.3 229.5L323.5 227.0L323.7 224.7L323.9 225.3L324.1 229.5L324.3 226.3L324.5 227.3L324.7 228.8L324.9 227.6L325.1 223.6L325.3 228.8L325.5 229.6L325.7 229.4L325.9 231.2L326.1 228.2L326.3 229.2L326.5 231.2L326.7 226.7L326.9 231.6L327.1 231.6L327.3 229.3L327.5 231.9L327.7 229.5L327.9 225.4L328.1 230.2L328.3 228.3L328.5 228.5L328.7 227.9L328.9 230.8L329.1 228.9L329.3 225.9L329.5 228.8L329.7 229.4L329.9 225.9L330.1 226.6L330.3 226.7L330.5 226.2L330.7 228.5L330.9 230.1L331.1 232.2L331.3 230.6L331.5 230.2L331.7 230.5L331.9 230.9L332.1 226.8L332.3 229.4L332.5 228.5L332.7 227.4L332.9 226.7L333.1 226.5L333.3 227.1L333.5 224.8L333.7 229.0L333.9 227.7L334.1 228.0L334.3 228.6L334.5 229.5L334.7 226.4L334.9 227.5L335.1 223.9L335.3 222.5L335.5 223.1L335.7 231.5L335.9 223.4L336.1 228.9L336.3 231.4L336.5 226.7L336.7 231.7L336.9 232.3L337.1 230.1L337.3 233.5L337.5 229.3L337.7 226.1L337.9 229.1L338.1 226.8L338.3 224.7L338.5 224.8L338.7 233.4L338.9 226.5L339.1 227.8L339.3 226.3L339.5 228.2L339.7 227.3L339.9 226.9L340.1 225.0L340.3 224.5L340.5 226.1L340.7 228.6L340.9 232.8L341.1 230.4L341.3 232.2L341.5 229.0L341.7 227.7L341.9 224.7L342.1 227.9L342.3 222.8L342.5 227.2L342.7 231.8L342.9 228.7L343.1 230.6L343.3 227.0L343.5 224.6L343.7 226.8L343.9 227.0L344.1 230.8L344.3 232.6L344.5 226.2L344.7 227.1L344.9 227.6L345.1 227.1L345.3 225.0L345.5 228.1L345.7 228.8L345.9 228.8L346.1 225.1L346.3 227.7L346.5 223.8L346.7 230.1L346.9 225.5L347.1 227.3L347.3 226.9L347.5 226.6L347.7 225.5L347.9 223.8L348.1 234.9L348.3 228.5L348.5 228.6L348.7 232.9L348.9 227.7L349.1 229.2L349.3 228.0L349.5 230.7L349.7 229.1L349.9 228.7L350.1 227.4L350.3 228.6L350.5 230.7L350.7 223.2L350.9 227.7L351.1 227.0L351.3 227.3L351.5 223.4L351.7 229.7L351.9 226.1L352.1 227.5L352.3 226.9L352.5 224.2L352.7 227.0L352.9 223.8L353.1 225.9L353.3 227.4L353.5 228.1L353.7 228.2L353.9 227.8L354.1 233.0L354.3 229.2L354.5 225.4L354.7 226.8L354.9 226.7L355.1 227.8L355.3 226.8L355.5 226.3L355.7 232.0L355.9 228.4L356.1 227.5L356.3 227.7L356.5 227.8L356.7 231.5L356.9 229.4L357.1 230.9L357.3 221.5L357.5 229.1L357.7 230.8L357.9 232.9L358.1 228.5L358.3 224.6L358.5 229.8L358.7 227.1L358.9 224.5L359.1 227.1L359.3 230.9L359.5 231.3L359.7 230.2L359.9 226.2L360.1 234.3L360.3 226.0L360.5 228.5L360.7 225.4L360.9 231.6L361.1 229.7L361.3 230.7L361.5 228.9L361.7 228.6L361.9 229.1L362.1 224.5L362.3 231.0L362.5 230.8L362.7 227.9L362.9 228.8L363.1 229.5L363.3 232.3L363.5 229.8L363.7 228.9L363.9 227.7L364.1 225.5L364.3 227.5L364.5 229.0L364.7 228.3L364.9 229.1L365.1 230.5L365.3 229.9L365.5 229.5L365.7 230.4L365.9 229.3L366.1 228.9L366.3 230.0L366.5 225.1L366.7 231.7L366.9 230.8L367.1 230.8L367.3 229.0L367.5 231.4L367.7 229.0L367.9 226.9L368.1 231.3L368.3 229.4L368.5 229.3L368.7 229.2L368.9 231.2L369.1 230.8L369.3 229.5L369.5 225.6L369.7 228.1L369.9 229.3L370.1 232.9L370.3 229.9L370.5 228.8L370.7 231.6L370.9 228.8L371.1 229.0L371.3 229.4L371.5 225.8L371.7 231.1L371.9 230.0L372.1 228.5L372.3 226.6L372.5 229.5L372.7 232.1L372.9 227.7L373.1 226.8L373.3 230.0L373.5 225.7L373.7 224.3L373.9 228.1L374.1 227.6L374.3 228.5L374.5 227.9L374.7 229.8L374.9 228.6L375.1 227.8L375.3 228.1L375.5 230.5L375.7 231.2L375.9 231.1L376.1 230.6L376.3 222.6L376.5 227.0L376.7 228.5L376.9 229.6L377.1 225.7L377.3 232.2L377.5 229.8L377.7 227.9L377.9 229.5L378.1 228.4L378.3 227.6L378.5 230.3L378.7 228.2L378.9 226.2L379.1 227.9L379.3 229.0L379.5 226.9L379.7 231.9L379.9 226.9L380.1 232.9L380.3 231.1L380.5 227.3L380.7 229.5L380.9 231.7L381.1 228.9L381.3 226.8L381.5 229.5L381.7 233.5L381.9 226.2L382.1 230.5L382.3 229.4L382.5 229.1L382.7 228.5L382.9 228.7L383.1 231.5L383.3 230.6L383.5 227.3L383.7 232.6L383.9 226.7L384.1 230.8L384.3 229.8L384.5 232.0L384.7 230.2L384.9 231.7L385.1 229.5L385.3 231.5L385.5 230.3L385.7 234.0L385.9 228.1L386.1 232.0L386.3 230.6L386.5 230.0L386.7 228.5L386.9 230.6L387.1 226.7L387.3 226.9L387.5 231.2L387.7 226.5L387.9 232.7L388.1 229.2L388.3 230.3L388.5 229.9L388.7 230.6L388.9 229.2L389.1 229.1L389.3 229.6L389.5 232.0L389.7 232.2L389.9 232.5L390.1 230.6L390.3 229.5L390.5 226.5L390.7 231.2L390.9 231.6L391.1 229.1L391.3 231.6L391.5 232.6L391.7 230.2L391.9 232.1L392.1 230.6L392.3 226.6L392.5 229.1L392.7 229.2L392.9 231.1L393.1 228.3L393.3 229.2L393.5 228.2L393.7 230.0L393.9 230.3L394.1 232.1L394.3 231.7L394.5 230.5L394.7 230.6L394.9 230.4L395.1 230.4L395.3 233.2L395.5 225.2L395.7 229.8L395.9 230.8L396.1 232.4L396.3 228.0L396.5 230.9L396.7 231.9L396.9 229.3L397.1 226.4L397.3 229.5L397.5 227.9L397.7 231.5L397.9 228.6L398.1 233.7L398.3 230.5L398.5 228.7L398.7 229.3L398.9 228.1L399.1 231.0L399.3 233.2L399.5 229.8L399.7 232.1L399.9 228.4L400.1 230.9L400.3 234.8L400.5 227.5L400.7 232.7L400.9 232.6L401.1 226.6L401.3 227.5L401.5 228.4L401.7 232.2L401.9 229.5L402.1 230.0L402.3 231.7L402.5 230.5L402.7 230.8L402.9 229.7L403.1 232.5L403.3 228.8L403.5 233.6L403.7 229.7L403.9 228.8L404.1 231.6L404.3 231.2L404.5 226.6L404.7 230.8L404.9 227.8L405.1 228.8L405.3 231.9L405.5 228.7L405.7 231.0L405.9 229.6L406.1 234.1L406.3 230.2L406.5 228.1L406.7 228.3L406.9 228.7L407.1 230.6L407.3 230.4L407.5 232.2L407.7 230.7L407.9 230.6L408.1 231.0L408.3 230.2L408.5 231.0L408.7 231.9L408.9 231.9L409.1 229.4L409.3 227.1L409.5 228.9L409.7 230.9L409.9 225.8L410.1 229.5L410.3 231.3L410.5 229.4L410.7 228.3L410.9 233.7L411.1 233.0L411.3 230.0L411.5 232.9L411.7 232.9L411.9 228.3L412.1 235.4L412.3 228.7L412.5 230.0L412.7 228.4L412.9 230.6L413.1 228.0L413.3 230.4L413.5 232.5L413.7 230.9L413.9 230.0L414.1 233.3L414.3 228.8L414.5 232.3L414.7 229.9L414.9 230.9L415.1 230.5L415.3 233.9L415.5 230.4L415.7 229.1L415.9 229.4L416.1 231.3L416.3 230.3L416.5 228.4L416.7 229.2L416.9 229.2L417.1 230.4L417.3 230.8L417.5 230.7L417.7 226.6L417.9 230.5L418.1 228.0L418.3 225.3L418.5 230.4L418.7 227.5L418.9 228.8L419.1 228.3L419.3 231.7L419.5 228.3L419.7 231.0L419.9 229.6L420.1 228.3L420.3 227.7L420.5 231.4L420.7 231.2L420.9 231.9L421.1 233.8L421.3 231.0L421.5 231.0L421.7 230.3L421.9 230.7L422.1 229.9L422.3 228.9L422.5 234.1L422.7 227.2L422.9 231.0L423.1 231.3L423.3 230.8L423.5 228.8L423.7 230.2L423.9 229.7L424.1 228.6L424.3 230.5L424.5 229.8L424.7 229.6L424.9 231.8L425.1 228.7L425.3 231.3L425.5 229.5L425.7 231.3L425.9 230.7L426.1 231.0L426.3 228.8L426.5 229.2L426.7 229.0L426.9 230.9L427.1 231.9L427.3 232.5L427.5 229.7L427.7 230.7L427.9 227.7L428.1 226.6L428.3 229.0L428.5 229.4L428.7 227.8L428.9 227.4L429.1 231.5L429.3 229.2L429.5 227.6L429.7 234.7L429.9 230.9L430.1 230.0L430.3 231.8L430.5 229.2L430.7 233.4L430.9 227.9L431.1 228.3L431.3 230.3L431.5 229.2L431.7 233.1L431.9 227.8L432.1 229.3L432.3 231.0L432.5 231.6L432.7 232.4L432.9 231.2L433.1 234.5L433.3 229.8L433.5 230.9L433.7 232.1L433.9 230.0L434.1 230.1L434.3 229.8L434.5 229.5L434.7 228.6L434.9 229.6L435.1 227.9L435.3 231.3L435.5 227.8L435.7 234.2L435.9 233.6L436.1 232.6L436.3 230.3L436.5 229.6L436.7 232.8L436.9 230.9L437.1 231.6L437.3 229.4L437.5 232.5L437.7 229.2L437.9 230.8L438.1 227.6L438.3 229.5L438.5 231.5L438.7 229.9L438.9 229.9L439.1 232.0L439.3 230.5L439.5 232.8L439.7 226.5L439.9 231.7L440.1 231.6L440.3 228.0L440.5 228.4L440.7 232.2L440.9 228.8L441.1 229.6L441.3 231.7L441.5 230.1L441.7 231.5L441.9 229.2L442.1 231.2L442.3 232.6L442.5 231.3L442.7 226.9L442.9 231.8L443.1 230.8L443.3 229.2L443.5 233.1L443.7 227.7L443.9 234.0L444.1 229.6L444.3 233.4L444.5 230.7L444.7 228.5L444.9 230.9L445.1 231.3L445.3 231.7L445.5 232.6L445.7 229.2L445.9 231.6L446.1 232.0L446.3 230.3L446.5 229.2L446.7 229.1L446.9 232.1L447.1 232.1L447.3 229.4L447.5 228.5L447.7 232.9L447.9 228.1L448.1 231.1L448.3 229.4L448.5 227.8L448.7 231.0L448.9 230.5L449.1 233.3L449.3 234.7L449.5 230.5L449.7 232.6L449.9 232.6L450.1 229.9L450.3 229.3L450.5 233.6L450.7 230.2L450.9 230.8L451.1 230.3L451.3 230.6L451.5 229.8L451.7 232.1L451.9 233.8L452.1 230.2L452.3 228.5L452.5 230.9L452.7 228.3L452.9 229.8L453.1 232.9L453.3 234.8L453.5 231.5L453.7 229.1L453.9 232.2L454.1 227.1L454.3 229.7L454.5 233.4L454.7 232.1L454.9 228.5L455.1 228.1L455.3 232.3L455.5 230.8L455.7 229.9L455.9 231.6L456.1 229.9L456.3 227.6L456.5 232.2L456.7 229.8L456.9 229.2L457.1 228.6L457.3 231.3L457.5 229.5L457.7 231.9L457.9 230.4L458.1 232.7L458.3 230.2L458.5 229.8L458.7 227.6L458.9 229.1L459.1 232.1L459.3 236.0L459.5 228.8L459.7 229.2L459.9 231.5L460.1 231.7L460.3 229.8L460.5 231.0L460.7 228.2L460.9 230.4L461.1 232.4L461.3 233.6L461.5 230.6L461.7 230.5L461.9 231.7L462.1 232.8L462.3 231.7L462.5 229.7L462.7 231.5L462.9 232.5L463.1 229.7L463.3 228.7L463.5 231.8L463.7 231.5L463.9 232.5L464.1 231.1L464.3 229.8L464.5 230.2L464.7 229.2L464.9 229.3L465.1 230.0L465.3 230.1L465.5 232.8L465.7 228.9L465.9 230.8L466.1 229.9L466.3 233.4L466.5 231.3L466.7 230.3L466.9 232.3L467.1 231.0L467.3 230.1L467.5 233.4L467.7 232.1L467.9 233.8L468.1 232.8L468.3 232.2L468.5 231.1L468.7 229.1L468.9 232.1L469.1 231.0L469.3 232.0L469.5 230.9L469.7 229.8L469.9 229.3L470.1 232.1L470.3 233.0L470.5 230.5L470.7 231.7L470.9 233.2L471.1 229.6L471.3 230.4L471.5 229.1L471.7 232.9L471.9 231.4L472.1 230.2L472.3 228.2L472.5 230.6L472.7 232.6L472.9 230.4L473.1 230.2L473.3 232.0L473.5 228.9L473.7 231.0L473.9 231.9L474.1 229.7L474.3 229.6L474.5 231.3L474.7 230.8L474.9 230.6L475.1 231.3L475.3 231.3L475.5 229.4L475.7 229.9L475.9 231.7L476.1 232.8L476.3 233.1L476.5 229.6L476.7 232.7L476.9 232.2L477.1 230.9L477.3 231.7L477.5 232.3L477.7 233.8L477.9 229.2L478.1 231.9L478.3 230.7L478.5 230.6L478.7 232.8L478.9 232.3L479.1 229.3L479.3 230.5L479.5 231.3L479.7 228.7L479.9 232.3L480.1 230.8L480.3 231.2L480.5 231.5L480.7 233.8L480.9 231.0L481.1 230.4L481.3 233.7L481.5 230.1L481.7 230.1L481.9 228.7L482.1 232.7L482.3 231.4L482.5 231.7L482.7 231.2L482.9 230.7L483.1 229.7L483.3 229.7L483.5 231.6L483.7 231.1L483.9 233.5L484.1 229.7L484.3 230.2L484.5 229.3L484.7 233.1L484.9 229.0L485.1 232.2L485.3 233.2L485.5 230.7L485.7 232.1L485.9 227.6L486.1 230.3L486.3 228.3L486.5 231.2L486.7 231.0L486.9 229.7L487.1 232.5L487.3 231.5L487.5 230.1L487.7 230.1L487.9 228.6L488.1 230.7L488.3 234.3L488.5 229.8L488.7 231.6L488.9 230.1L489.1 232.2L489.3 231.7L489.5 230.6L489.7 228.2L489.9 230.2L490.1 232.8L490.3 230.6L490.5 231.9L490.7 230.2L490.9 228.0L491.1 231.6L491.3 231.5L491.5 230.1L491.7 230.4L491.9 231.4L492.1 230.0L492.3 231.5L492.5 230.6L492.7 227.3L492.9 230.7L493.1 230.0L493.3 229.7L493.5 231.6L493.7 230.2L493.9 231.8L494.1 232.7L494.3 231.2L494.5 228.6L494.7 229.8L494.9 232.4L495.1 230.6L495.3 229.7L495.5 230.8L495.7 231.7L495.9 231.4L496.1 232.0L496.3 229.7L496.5 230.5L496.7 230.6L496.9 230.9L497.1 227.7L497.3 230.6L497.5 228.9L497.7 233.1L497.9 233.4L498.1 233.6L498.3 232.2L498.5 230.2L498.7 232.5L498.9 230.7L499.1 231.9L499.3 229.6L499.5 230.1L499.7 231.7L499.9 233.7L500.1 230.9L500.3 234.4L500.5 235.2L500.7 229.0L500.9 230.9L501.1 229.5L501.3 230.8L501.5 230.2L501.7 230.9L501.9 232.5L502.1 232.4L502.3 231.4L502.5 231.0L502.7 231.2L502.9 231.2L503.1 231.9L503.3 231.0L503.5 231.7L503.7 229.0L503.9 232.2L504.1 233.7L504.3 231.3L504.5 228.8L504.7 233.0L504.9 230.5L505.1 226.4L505.3 230.6L505.5 231.9L505.7 231.6L505.9 232.9L506.1 231.9L506.3 231.2L506.5 228.0L506.7 229.3L506.9 231.3L507.1 232.0L507.3 229.4L507.5 230.0L507.7 231.7L507.9 228.1L508.1 228.0L508.3 230.6L508.5 231.4L508.7 230.3L508.9 227.5L509.1 231.0L509.3 229.0L509.5 232.0L509.7 230.8L509.9 231.4" stroke="#FF8208" stroke-width="1.6"/>
<g stroke="#0505F0"><path d="M66.5 331.0L67.0 331.1L67.5 331.3L68.0 331.4L68.5 331.5L69.0 331.6L69.5 331.7" stroke-width="3.90"/><path d="M69.5 331.7L70.0 331.8L70.5 331.9L71.0 331.9L71.5 331.9L72.0 331.9L72.5 331.8" stroke-width="3.90"/><path d="M72.5 331.8L73.0 331.8L73.5 331.7L74.0 331.6L74.5 331.5L75.0 331.3L75.5 331.2" stroke-width="3.90"/><path d="M75.5 331.2L76.0 331.1L76.5 330.9L77.0 330.8L77.5 330.6L78.0 330.3L78.5 330.0" stroke-width="3.90"/><path d="M78.5 330.0L79.0 329.7L79.5 329.3L80.0 329.0L80.5 328.7L81.0 328.4L81.5 328.0" stroke-width="3.90"/><path d="M81.5 328.0L82.0 327.6L82.5 327.2L83.0 326.7L83.5 326.1L84.0 325.5L84.5 324.7" stroke-width="3.90"/><path d="M84.5 324.7L85.0 323.9L85.5 323.1L86.0 322.1L86.5 321.0L87.0 319.8L87.5 318.5" stroke-width="3.90"/><path d="M87.5 318.5L88.0 317.0L88.5 315.2L89.0 313.2L89.5 310.9L90.0 308.5L90.5 305.9" stroke-width="3.90"/><path d="M90.5 305.9L91.0 302.5L91.5 297.5L92.0 290.3L92.5 281.4L93.0 272.1L93.5 264.1" stroke-width="3.90"/><path d="M93.5 264.1L94.0 257.8L94.5 252.1L95.0 245.6L95.5 240.6L96.0 241.8L96.5 246.1" stroke-width="3.90"/><path d="M96.5 246.1L97.0 250.2L97.5 253.9L98.0 257.6L98.5 261.0L99.0 264.4L99.5 268.1" stroke-width="3.90"/><path d="M99.5 268.1L100.0 272.3L100.5 276.8L101.0 281.3L101.5 285.6L102.0 289.9L102.5 294.2" stroke-width="3.90"/><path d="M102.5 294.2L103.0 298.5L103.5 302.5L104.0 305.4L104.5 307.9L105.0 310.6L105.5 313.9" stroke-width="3.90"/><path d="M105.5 313.9L106.0 316.8L106.5 318.5L107.0 319.7L107.5 320.7L108.0 321.5L108.5 322.2" stroke-width="3.90"/><path d="M108.5 322.2L109.0 322.8L109.5 323.4L110.0 323.9L110.5 324.4L111.0 324.9L111.5 325.4" stroke-width="3.90"/><path d="M111.5 325.4L112.0 325.8L112.5 326.2L113.0 326.5L113.5 326.7L114.0 326.9L114.5 327.1" stroke-width="3.90"/><path d="M114.5 327.1L115.0 327.3L115.5 327.5L116.0 327.6L116.5 327.7L117.0 327.8L117.5 327.9" stroke-width="3.90"/><path d="M117.5 327.9L118.0 328.0L118.5 328.1L119.0 328.1L119.5 328.2L120.0 328.2L120.5 328.3" stroke-width="3.90"/><path d="M120.5 328.3L121.0 328.4L121.5 328.4L122.0 328.5L122.5 328.5L123.0 328.6L123.5 328.6" stroke-width="3.90"/><path d="M123.5 328.6L124.0 328.6L124.5 328.7L125.0 328.7L125.5 328.8L126.0 328.8L126.5 328.8" stroke-width="3.90"/><path d="M126.5 328.8L127.0 328.8L127.5 328.9L128.0 328.9L128.5 328.9L129.0 328.9L129.5 328.9" stroke-width="3.90"/><path d="M129.5 328.9L130.0 328.9L130.5 328.9L131.0 328.9L131.5 328.9L132.0 328.8L132.5 328.8" stroke-width="3.90"/><path d="M132.5 328.8L133.0 328.8L133.5 328.7L134.0 328.7L134.5 328.6L135.0 328.6L135.5 328.5" stroke-width="3.90"/><path d="M135.5 328.5L136.0 328.5L136.5 328.4L137.0 328.3L137.5 328.3L138.0 328.2L138.5 328.1" stroke-width="3.90"/><path d="M138.5 328.1L139.0 328.1L139.5 328.0L140.0 327.9L140.5 327.8L141.0 327.8L141.5 327.7" stroke-width="3.90"/><path d="M141.5 327.7L142.0 327.6L142.5 327.5L143.0 327.5L143.5 327.4L144.0 327.3L144.5 327.3" stroke-width="3.90"/><path d="M144.5 327.3L145.0 327.2L145.5 327.1L146.0 327.1L146.5 327.0L147.0 326.9L147.5 326.8" stroke-width="3.90"/><path d="M147.5 326.8L148.0 326.8L148.5 326.7L149.0 326.6L149.5 326.5L150.0 326.4L150.5 326.4" stroke-width="3.90"/><path d="M150.5 326.4L151.0 326.3L151.5 326.2L152.0 326.1L152.5 326.0L153.0 326.0L153.5 325.9" stroke-width="3.90"/><path d="M153.5 325.9L154.0 325.9L154.5 325.8L155.0 325.8L155.5 325.7L156.0 325.7L156.5 325.7" stroke-width="3.90"/><path d="M156.5 325.7L157.0 325.7L157.5 325.7L158.0 325.7L158.5 325.8L159.0 325.8L159.5 325.9" stroke-width="3.90"/><path d="M159.5 325.9L160.0 326.0L160.5 326.1L161.0 326.1L161.5 326.2L162.0 326.3L162.5 326.4" stroke-width="3.90"/><path d="M162.5 326.4L163.0 326.5L163.5 326.5L164.0 326.6L164.5 326.7L165.0 326.8L165.5 326.9" stroke-width="3.90"/><path d="M165.5 326.9L166.0 327.0L166.5 327.1L167.0 327.3L167.5 327.4L168.0 327.5L168.5 327.6" stroke-width="3.90"/><path d="M168.5 327.6L169.0 327.7L169.5 327.8L170.0 327.9L170.5 328.0L171.0 328.1L171.5 328.2" stroke-width="3.90"/><path d="M171.5 328.2L172.0 328.3L172.5 328.4L173.0 328.5L173.5 328.5L174.0 328.6L174.5 328.6" stroke-width="3.90"/><path d="M174.5 328.6L175.0 328.7L175.5 328.7L176.0 328.8L176.5 328.8L177.0 328.9L177.5 328.9" stroke-width="3.90"/><path d="M177.5 328.9L178.0 329.0L178.5 329.0L179.0 329.1L179.5 329.1L180.0 329.1L180.5 329.2" stroke-width="3.90"/><path d="M180.5 329.2L181.0 329.2L181.5 329.3L182.0 329.3L182.5 329.3L183.0 329.4L183.5 329.4" stroke-width="3.90"/><path d="M183.5 329.4L184.0 329.4L184.5 329.4L185.0 329.5L185.5 329.5L186.0 329.5L186.5 329.5" stroke-width="3.90"/><path d="M186.5 329.5L187.0 329.6L187.5 329.6L188.0 329.6L188.5 329.6L189.0 329.6L189.5 329.6" stroke-width="3.90"/><path d="M189.5 329.6L190.0 329.6L190.5 329.6L191.0 329.6L191.5 329.6L192.0 329.6L192.5 329.6" stroke-width="3.90"/><path d="M192.5 329.6L193.0 329.6L193.5 329.6L194.0 329.6L194.5 329.6L195.0 329.6L195.5 329.6" stroke-width="3.90"/><path d="M195.5 329.6L196.0 329.6L196.5 329.6L197.0 329.6L197.5 329.6L198.0 329.6L198.5 329.6" stroke-width="3.90"/><path d="M198.5 329.6L199.0 329.6L199.5 329.6L200.0 329.6L200.5 329.6L201.0 329.6L201.5 329.6" stroke-width="3.90"/><path d="M201.5 329.6L202.0 329.6L202.5 329.6L203.0 329.6L203.5 329.6L204.0 329.6L204.5 329.6" stroke-width="3.90"/><path d="M204.5 329.6L205.0 329.6L205.5 329.6L206.0 329.6L206.5 329.6L207.0 329.6L207.5 329.6" stroke-width="3.90"/><path d="M207.5 329.6L208.0 329.6L208.5 329.7L209.0 329.7L209.5 329.7L210.0 329.7L210.5 329.8" stroke-width="3.90"/><path d="M210.5 329.8L211.0 329.8L211.5 329.8L212.0 329.8L212.5 329.9L213.0 329.9L213.5 329.9" stroke-width="3.90"/><path d="M213.5 329.9L214.0 330.0L214.5 330.0L215.0 330.0L215.5 330.1L216.0 330.1L216.5 330.1" stroke-width="3.90"/><path d="M216.5 330.1L217.0 330.2L217.5 330.2L218.0 330.3L218.5 330.3L219.0 330.3L219.5 330.4" stroke-width="3.90"/><path d="M219.5 330.4L220.0 330.4L220.5 330.4L221.0 330.5L221.5 330.5L222.0 330.5L222.5 330.6" stroke-width="3.90"/><path d="M222.5 330.6L223.0 330.6L223.5 330.7L224.0 330.7L224.5 330.8L225.0 330.8L225.5 330.9" stroke-width="3.90"/><path d="M225.5 330.9L226.0 330.9L226.5 330.9L227.0 331.0L227.5 331.0L228.0 331.1L228.5 331.2" stroke-width="3.90"/><path d="M228.5 331.2L229.0 331.2L229.5 331.3L230.0 331.3L230.5 331.4L231.0 331.4L231.5 331.5" stroke-width="3.90"/><path d="M231.5 331.5L232.0 331.5L232.5 331.6L233.0 331.7L233.5 331.7L234.0 331.8L234.5 331.8" stroke-width="3.90"/><path d="M234.5 331.8L235.0 331.9L235.5 332.0L236.0 332.0L236.5 332.1L237.0 332.2L237.5 332.2" stroke-width="3.90"/><path d="M237.5 332.2L238.0 332.3L238.5 332.4L239.0 332.5L239.5 332.5L240.0 332.6L240.5 332.7" stroke-width="3.90"/><path d="M240.5 332.7L241.0 332.8L241.5 332.9L242.0 333.0L242.5 333.0L243.0 333.1L243.5 333.2" stroke-width="3.90"/><path d="M243.5 333.2L244.0 333.3L244.5 333.4L245.0 333.5L245.5 333.6L246.0 333.6L246.5 333.7" stroke-width="3.90"/><path d="M246.5 333.7L247.0 333.8L247.5 333.9L248.0 334.0L248.5 334.1L249.0 334.1L249.5 334.2" stroke-width="3.90"/><path d="M249.5 334.2L250.0 334.3L250.5 334.4L251.0 334.5L251.5 334.5L252.0 334.6L252.5 334.7" stroke-width="3.90"/><path d="M252.5 334.7L253.0 334.7L253.5 334.8L254.0 334.9L254.5 335.0L255.0 335.0L255.5 335.1" stroke-width="3.90"/><path d="M255.5 335.1L256.0 335.2L256.5 335.2L257.0 335.3L257.5 335.4L258.0 335.4L258.5 335.5" stroke-width="3.90"/><path d="M258.5 335.5L259.0 335.6L259.5 335.6L260.0 335.7L260.5 335.8L261.0 335.9L261.5 335.9" stroke-width="3.90"/><path d="M261.5 335.9L262.0 336.0L262.5 336.1L263.0 336.2L263.5 336.3L264.0 336.3L264.5 336.4" stroke-width="3.90"/><path d="M264.5 336.4L265.0 336.5L265.5 336.6L266.0 336.7L266.5 336.8L267.0 336.9L267.5 337.0" stroke-width="3.90"/><path d="M267.5 337.0L268.0 337.1L268.5 337.2L269.0 337.3L269.5 337.4L270.0 337.5L270.5 337.6" stroke-width="3.90"/><path d="M270.5 337.6L271.0 337.7L271.5 337.7L272.0 337.8L272.5 337.9L273.0 337.9L273.5 338.0" stroke-width="3.90"/><path d="M273.5 338.0L274.0 338.1L274.5 338.1L275.0 338.2L275.5 338.2L276.0 338.2L276.5 338.2" stroke-width="3.90"/><path d="M276.5 338.2L277.0 338.2L277.5 338.2L278.0 338.1L278.5 338.1L279.0 338.0L279.5 338.0" stroke-width="3.90"/><path d="M279.5 338.0L280.0 337.9L280.5 337.8L281.0 337.8L281.5 337.7L282.0 337.6L282.5 337.4" stroke-width="3.90"/><path d="M282.5 337.4L283.0 337.2L283.5 336.9L284.0 336.5L284.5 336.1L285.0 335.5L285.5 334.6" stroke-width="3.90"/><path d="M285.5 334.6L286.0 333.4L286.5 331.6L287.0 327.8L287.5 325.5L288.0 326.5L288.5 328.0" stroke-width="3.90"/><path d="M288.5 328.0L289.0 329.2L289.5 330.3L290.0 331.3L290.5 332.3L291.0 333.2L291.5 334.1" stroke-width="3.90"/><path d="M291.5 334.1L292.0 335.0L292.5 335.9L293.0 336.7L293.5 337.3L294.0 337.9L294.5 338.4" stroke-width="3.90"/><path d="M294.5 338.4L295.0 338.8L295.5 339.1L296.0 339.4L296.5 339.7L297.0 340.0L297.5 340.2" stroke-width="3.90"/><path d="M297.5 340.2L298.0 340.4L298.5 340.5L299.0 340.6L299.5 340.7L300.0 340.8L300.5 340.9" stroke-width="3.90"/><path d="M300.5 340.9L301.0 341.0L301.5 341.1L302.0 341.2L302.5 341.3L303.0 341.3L303.5 341.4" stroke-width="3.90"/><path d="M303.5 341.4L304.0 341.5L304.5 341.7L305.0 341.8L305.5 341.9L306.0 342.0L306.5 342.2" stroke-width="3.90"/><path d="M306.5 342.2L307.0 342.3L307.5 342.4L308.0 342.6L308.5 342.7L309.0 342.8L309.5 342.9" stroke-width="3.90"/><path d="M309.5 342.9L310.0 343.0L310.5 343.1L311.0 343.2L311.5 343.3L312.0 343.4L312.5 343.5" stroke-width="3.90"/><path d="M312.5 343.5L313.0 343.6L313.5 343.7L314.0 343.8L314.5 343.9L315.0 344.0L315.5 344.1" stroke-width="3.90"/><path d="M315.5 344.1L316.0 344.2L316.5 344.3L317.0 344.3L317.5 344.4L318.0 344.5L318.5 344.6" stroke-width="3.90"/><path d="M318.5 344.6L319.0 344.6L319.5 344.7L320.0 344.7L320.5 344.8L321.0 344.8L321.5 344.9" stroke-width="3.90"/><path d="M321.5 344.9L322.0 344.9L322.5 344.9L323.0 345.0L323.5 345.0L324.0 345.0L324.5 345.1" stroke-width="3.90"/><path d="M324.5 345.1L325.0 345.1L325.5 345.1L326.0 345.1L326.5 345.2L327.0 345.2L327.5 345.2" stroke-width="3.90"/><path d="M327.5 345.2L328.0 345.2L328.5 345.3L329.0 345.3L329.5 345.3L330.0 345.3L330.5 345.3" stroke-width="3.90"/><path d="M330.5 345.3L331.0 345.4L331.5 345.4L332.0 345.4L332.5 345.4L333.0 345.4L333.5 345.5" stroke-width="3.90"/><path d="M333.5 345.5L334.0 345.5L334.5 345.5L335.0 345.5L335.5 345.5L336.0 345.5L336.5 345.6" stroke-width="3.90"/><path d="M336.5 345.6L337.0 345.6L337.5 345.6L338.0 345.6L338.5 345.6L339.0 345.6L339.5 345.7" stroke-width="3.90"/><path d="M339.5 345.7L340.0 345.7L340.5 345.7L341.0 345.7L341.5 345.7L342.0 345.8L342.5 345.8" stroke-width="3.90"/><path d="M342.5 345.8L343.0 345.8L343.5 345.8L344.0 345.9L344.5 345.9L345.0 345.9L345.5 345.9" stroke-width="3.90"/><path d="M345.5 345.9L346.0 346.0L346.5 346.0L347.0 346.0L347.5 346.0L348.0 346.1L348.5 346.1" stroke-width="3.90"/><path d="M348.5 346.1L349.0 346.1L349.5 346.1L350.0 346.2L350.5 346.2L351.0 346.2L351.5 346.3" stroke-width="3.90"/><path d="M351.5 346.3L352.0 346.3L352.5 346.3L353.0 346.4L353.5 346.4L354.0 346.4L354.5 346.5" stroke-width="3.90"/><path d="M354.5 346.5L355.0 346.5L355.5 346.5L356.0 346.5L356.5 346.6L357.0 346.6L357.5 346.6" stroke-width="3.90"/><path d="M357.5 346.6L358.0 346.7L358.5 346.7L359.0 346.7L359.5 346.8L360.0 346.8L360.5 346.8" stroke-width="3.90"/><path d="M360.5 346.8L361.0 346.9L361.5 346.9L362.0 346.9L362.5 346.9L363.0 347.0L363.5 347.0" stroke-width="3.90"/><path d="M363.5 347.0L364.0 347.0L364.5 347.0L365.0 347.1L365.5 347.1L366.0 347.1L366.5 347.1" stroke-width="3.90"/><path d="M366.5 347.1L367.0 347.2L367.5 347.2L368.0 347.2L368.5 347.2L369.0 347.3L369.5 347.3" stroke-width="3.90"/><path d="M369.5 347.3L370.0 347.3L370.5 347.3L371.0 347.3L371.5 347.4L372.0 347.4L372.5 347.4" stroke-width="3.90"/><path d="M372.5 347.4L373.0 347.4L373.5 347.4L374.0 347.4L374.5 347.5L375.0 347.5L375.5 347.5" stroke-width="3.90"/><path d="M375.5 347.5L376.0 347.5L376.5 347.5L377.0 347.5L377.5 347.6L378.0 347.6L378.5 347.6" stroke-width="3.90"/><path d="M378.5 347.6L379.0 347.6L379.5 347.6L380.0 347.6L380.5 347.7L381.0 347.7L381.5 347.7" stroke-width="3.90"/><path d="M381.5 347.7L382.0 347.7L382.5 347.7L383.0 347.7L383.5 347.7L384.0 347.8L384.5 347.8" stroke-width="3.90"/><path d="M384.5 347.8L385.0 347.8L385.5 347.8L386.0 347.8L386.5 347.8L387.0 347.8L387.5 347.8" stroke-width="3.90"/><path d="M387.5 347.8L388.0 347.9L388.5 347.9L389.0 347.9L389.5 347.9L390.0 347.9L390.5 347.9" stroke-width="3.90"/><path d="M390.5 347.9L391.0 347.9L391.5 347.9L392.0 347.9L392.5 348.0L393.0 348.0L393.5 348.0" stroke-width="3.90"/><path d="M393.5 348.0L394.0 348.0L394.5 348.0L395.0 348.0L395.5 348.0L396.0 348.0L396.5 348.0" stroke-width="3.90"/><path d="M396.5 348.0L397.0 348.0L397.5 348.0L398.0 348.0L398.5 348.1L399.0 348.1L399.5 348.1" stroke-width="3.90"/><path d="M399.5 348.1L400.0 348.1L400.5 348.1L401.0 348.1L401.5 348.1L402.0 348.1L402.5 348.1" stroke-width="3.90"/><path d="M402.5 348.1L403.0 348.1L403.5 348.1L404.0 348.1L404.5 348.1L405.0 348.1L405.5 348.1" stroke-width="3.90"/><path d="M405.5 348.1L406.0 348.2L406.5 348.2L407.0 348.2L407.5 348.2L408.0 348.2L408.5 348.2" stroke-width="3.90"/><path d="M408.5 348.2L409.0 348.2L409.5 348.2L410.0 348.2L410.5 348.2L411.0 348.2L411.5 348.2" stroke-width="3.90"/><path d="M411.5 348.2L412.0 348.2L412.5 348.2L413.0 348.2L413.5 348.2L414.0 348.2L414.5 348.2" stroke-width="3.90"/><path d="M414.5 348.2L415.0 348.2L415.5 348.3L416.0 348.3L416.5 348.3L417.0 348.3L417.5 348.3" stroke-width="3.90"/><path d="M417.5 348.3L418.0 348.3L418.5 348.3L419.0 348.3L419.5 348.3L420.0 348.3L420.5 348.3" stroke-width="3.90"/><path d="M420.5 348.3L421.0 348.3L421.5 348.3L422.0 348.3L422.5 348.3L423.0 348.3L423.5 348.3" stroke-width="3.90"/><path d="M423.5 348.3L424.0 348.3L424.5 348.4L425.0 348.4L425.5 348.4L426.0 348.4L426.5 348.4" stroke-width="3.90"/><path d="M426.5 348.4L427.0 348.4L427.5 348.4L428.0 348.4L428.5 348.4L429.0 348.4L429.5 348.4" stroke-width="3.90"/><path d="M429.5 348.4L430.0 348.4L430.5 348.4L431.0 348.4L431.5 348.4L432.0 348.4L432.5 348.4" stroke-width="3.90"/><path d="M432.5 348.4L433.0 348.4L433.5 348.4L434.0 348.5L434.5 348.5L435.0 348.5L435.5 348.5" stroke-width="3.90"/><path d="M435.5 348.5L436.0 348.5L436.5 348.5L437.0 348.5L437.5 348.5L438.0 348.5L438.5 348.5" stroke-width="3.90"/><path d="M438.5 348.5L439.0 348.5L439.5 348.5L440.0 348.5L440.5 348.5L441.0 348.5L441.5 348.5" stroke-width="3.90"/><path d="M441.5 348.5L442.0 348.5L442.5 348.5L443.0 348.5L443.5 348.5L444.0 348.5L444.5 348.5" stroke-width="3.90"/><path d="M444.5 348.5L445.0 348.5L445.5 348.5L446.0 348.5L446.5 348.5L447.0 348.5L447.5 348.5" stroke-width="3.90"/><path d="M447.5 348.5L448.0 348.5L448.5 348.5L449.0 348.6L449.5 348.6L450.0 348.6L450.5 348.6" stroke-width="3.90"/><path d="M450.5 348.6L451.0 348.6L451.5 348.6L452.0 348.6L452.5 348.6L453.0 348.6L453.5 348.6" stroke-width="3.90"/><path d="M453.5 348.6L454.0 348.6L454.5 348.6L455.0 348.6L455.5 348.6L456.0 348.6L456.5 348.6" stroke-width="3.90"/><path d="M456.5 348.6L457.0 348.6L457.5 348.6L458.0 348.6L458.5 348.6L459.0 348.6L459.5 348.6" stroke-width="3.90"/><path d="M459.5 348.6L460.0 348.6L460.5 348.6L461.0 348.6L461.5 348.6L462.0 348.6L462.5 348.6" stroke-width="3.90"/><path d="M462.5 348.6L463.0 348.6L463.5 348.6L464.0 348.6L464.5 348.6L465.0 348.6L465.5 348.6" stroke-width="3.90"/><path d="M465.5 348.6L466.0 348.6L466.5 348.6L467.0 348.6L467.5 348.6L468.0 348.6L468.5 348.6" stroke-width="3.90"/><path d="M468.5 348.6L469.0 348.6L469.5 348.5L470.0 348.5L470.5 348.5L471.0 348.5L471.5 348.5" stroke-width="3.90"/><path d="M471.5 348.5L472.0 348.5L472.5 348.5L473.0 348.4L473.5 348.4L474.0 348.4L474.5 348.4" stroke-width="3.90"/><path d="M474.5 348.4L475.0 348.4L475.5 348.3L476.0 348.3L476.5 348.3L477.0 348.3L477.5 348.3" stroke-width="3.90"/><path d="M477.5 348.3L478.0 348.2L478.5 348.2L479.0 348.2L479.5 348.2L480.0 348.1L480.5 348.1" stroke-width="3.90"/><path d="M480.5 348.1L481.0 348.1L481.5 348.1L482.0 348.0L482.5 348.0L483.0 348.0L483.5 347.9" stroke-width="3.90"/><path d="M483.5 347.9L484.0 347.9L484.5 347.9L485.0 347.9L485.5 347.8L486.0 347.8L486.5 347.8" stroke-width="3.90"/><path d="M486.5 347.8L487.0 347.8L487.5 347.7L488.0 347.7L488.5 347.7L489.0 347.7L489.5 347.6" stroke-width="3.90"/><path d="M489.5 347.6L490.0 347.6L490.5 347.6L491.0 347.5L491.5 347.5L492.0 347.5L492.5 347.4" stroke-width="3.90"/><path d="M492.5 347.4L493.0 347.4L493.5 347.3L494.0 347.3L494.5 347.3L495.0 347.3L495.5 347.3" stroke-width="3.90"/><path d="M495.5 347.3L496.0 347.4L496.5 347.4L497.0 347.5L497.5 347.6L498.0 347.7L498.5 347.8" stroke-width="3.90"/><path d="M498.5 347.8L499.0 347.9L499.5 347.9L500.0 348.0L500.5 348.0L501.0 348.1L501.5 348.1" stroke-width="3.90"/><path d="M501.5 348.1L502.0 348.2L502.5 348.2L503.0 348.3L503.5 348.3L504.0 348.4L504.5 348.4" stroke-width="3.90"/><path d="M504.5 348.4L505.0 348.4L505.5 348.5L506.0 348.5L506.5 348.5L507.0 348.6L507.5 348.6" stroke-width="3.90"/><path d="M507.5 348.6L508.0 348.6L508.5 348.7L509.0 348.7L509.5 348.7L510.0 348.7" stroke-width="3.90"/></g>

<path d="M66.5 331.6L66.7 331.1L66.9 330.4L67.1 331.0L67.3 331.5L67.5 330.6L67.7 330.6L67.9 331.5L68.1 330.9L68.3 331.8L68.5 330.9L68.7 330.6L68.9 331.2L69.1 332.4L69.3 331.2L69.5 331.7L69.7 331.8L69.9 331.3L70.1 332.3L70.3 331.9L70.5 332.1L70.7 331.0L70.9 331.0L71.1 330.5L71.3 331.8L71.5 331.8L71.7 332.2L71.9 332.6L72.1 331.7L72.3 331.7L72.5 332.0L72.7 332.6L72.9 331.4L73.1 332.0L73.3 331.6L73.5 331.5L73.7 332.0L73.9 331.2L74.1 331.0L74.3 331.8L74.5 331.4L74.7 331.3L74.9 331.3L75.1 331.6L75.3 331.1L75.5 331.6L75.7 331.3L75.9 331.8L76.1 331.7L76.3 331.4L76.5 330.8L76.7 330.9L76.9 330.5L77.1 332.1L77.3 330.5L77.5 330.8L77.7 331.1L77.9 329.7L78.1 329.8L78.3 329.9L78.5 329.5L78.7 329.2L78.9 329.5L79.1 330.2L79.3 329.8L79.5 329.3L79.7 329.2L79.9 328.2L80.1 329.3L80.3 329.0L80.5 328.1L80.7 328.6L80.9 328.3L81.1 328.0L81.3 327.6L81.5 327.7L81.7 327.4L81.9 327.9L82.1 327.7L82.3 327.5L82.5 327.1L82.7 326.8L82.9 327.8L83.1 325.6L83.3 326.9L83.5 326.3L83.7 325.9L83.9 325.3L84.1 325.2L84.3 324.4L84.5 324.0L84.7 324.3L84.9 323.3L85.1 324.2L85.3 324.0L85.5 321.6L85.7 321.9L85.9 322.4L86.1 322.0L86.3 321.5L86.5 321.2L86.7 320.9L86.9 320.5L87.1 320.4L87.3 319.0L87.5 318.9L87.7 317.1L87.9 317.2L88.1 316.0L88.3 316.6L88.5 316.4L88.7 314.7L88.9 312.9L89.1 312.7L89.3 311.9L89.5 311.0L89.7 310.5L89.9 309.5L90.1 306.7L90.3 307.7L90.5 305.6L90.7 304.3L90.9 303.9L91.1 301.5L91.3 299.1L91.5 296.8L91.7 295.0L91.9 292.4L92.1 289.3L92.3 284.9L92.5 281.2L92.7 278.5L92.9 273.7L93.1 271.0L93.3 267.1L93.5 264.2L93.7 261.3L93.9 259.1L94.1 256.4L94.3 254.0L94.5 252.0L94.7 249.5L94.9 247.2L95.1 244.3L95.3 241.8L95.5 240.5L95.7 240.4L95.9 242.1L96.1 242.5L96.3 243.9L96.5 245.9L96.7 248.2L96.9 249.4L97.1 250.9L97.3 252.3L97.5 254.0L97.7 255.6L97.9 257.1L98.1 257.5L98.3 259.1L98.5 259.5L98.7 262.7L98.9 264.2L99.1 265.7L99.3 266.6L99.5 268.6L99.7 269.7L99.9 271.3L100.1 272.4L100.3 274.5L100.5 276.4L100.7 279.0L100.9 281.2L101.1 281.9L101.3 284.0L101.5 285.7L101.7 286.9L101.9 288.2L102.1 290.4L102.3 291.7L102.5 294.0L102.7 295.8L102.9 297.5L103.1 299.3L103.3 301.3L103.5 302.0L103.7 304.2L103.9 304.0L104.1 305.9L104.3 307.1L104.5 307.5L104.7 308.1L104.9 310.3L105.1 310.9L105.3 312.9L105.5 314.2L105.7 315.1L105.9 316.3L106.1 317.7L106.3 318.1L106.5 318.0L106.7 319.1L106.9 319.8L107.1 320.0L107.3 320.4L107.5 320.6L107.7 321.0L107.9 320.9L108.1 320.9L108.3 322.5L108.5 321.9L108.7 322.6L108.9 322.0L109.1 323.0L109.3 322.8L109.5 324.9L109.7 323.1L109.9 323.3L110.1 324.5L110.3 324.8L110.5 323.3L110.7 324.7L110.9 325.2L111.1 324.4L111.3 325.5L111.5 325.1L111.7 325.0L111.9 325.5L112.1 325.7L112.3 325.4L112.5 327.3L112.7 326.1L112.9 326.1L113.1 327.0L113.3 326.6L113.5 327.4L113.7 326.7L113.9 327.1L114.1 327.0L114.3 327.1L114.5 327.0L114.7 327.1L114.9 328.1L115.1 327.0L115.3 327.1L115.5 327.3L115.7 327.8L115.9 327.8L116.1 328.1L116.3 327.0L116.5 327.8L116.7 327.7L116.9 327.7L117.1 327.9L117.3 326.9L117.5 328.0L117.7 328.0L117.9 327.3L118.1 328.0L118.3 328.8L118.5 327.9L118.7 328.4L118.9 328.0L119.1 327.7L119.3 327.7L119.5 328.0L119.7 328.8L119.9 328.6L120.1 327.9L120.3 328.8L120.5 328.2L120.7 328.0L120.9 328.5L121.1 327.9L121.3 327.6L121.5 329.0L121.7 327.5L121.9 328.7L122.1 327.7L122.3 328.5L122.5 328.4L122.7 328.3L122.9 327.5L123.1 328.5L123.3 328.6L123.5 328.1L123.7 328.6L123.9 329.1L124.1 328.3L124.3 328.8L124.5 328.1L124.7 328.9L124.9 329.0L125.1 329.9L125.3 329.2L125.5 329.0L125.7 329.4L125.9 328.3L126.1 329.3L126.3 328.5L126.5 328.5L126.7 329.3L126.9 328.9L127.1 329.5L127.3 328.1L127.5 329.0L127.7 328.6L127.9 328.7L128.1 327.9L128.3 329.3L128.5 329.0L128.7 328.4L128.9 328.2L129.1 328.5L129.3 329.6L129.5 328.8L129.7 328.7L129.9 329.1L130.1 328.9L130.3 329.0L130.5 329.3L130.7 329.0L130.9 329.3L131.1 328.3L131.3 328.9L131.5 328.7L131.7 328.9L131.9 328.8L132.1 328.5L132.3 328.6L132.5 329.3L132.7 328.5L132.9 328.2L133.1 329.1L133.3 329.2L133.5 328.6L133.7 328.8L133.9 328.3L134.1 328.6L134.3 329.2L134.5 329.0L134.7 328.7L134.9 328.5L135.1 327.8L135.3 328.7L135.5 328.8L135.7 329.0L135.9 329.5L136.1 328.6L136.3 328.9L136.5 327.9L136.7 329.0L136.9 328.8L137.1 329.0L137.3 328.6L137.5 328.5L137.7 329.0L137.9 327.9L138.1 328.5L138.3 328.7L138.5 327.7L138.7 327.5L138.9 328.3L139.1 328.1L139.3 328.3L139.5 328.3L139.7 327.6L139.9 328.1L140.1 328.4L140.3 327.7L140.5 327.7L140.7 327.3L140.9 328.2L141.1 328.7L141.3 327.0L141.5 328.1L141.7 328.1L141.9 327.4L142.1 327.4L142.3 327.1L142.5 327.2L142.7 327.6L142.9 327.8L143.1 327.5L143.3 327.8L143.5 327.5L143.7 326.8L143.9 328.1L144.1 327.9L144.3 326.9L144.5 328.1L144.7 327.5L144.9 327.3L145.1 328.1L145.3 325.7L145.5 326.4L145.7 327.5L145.9 327.0L146.1 326.6L146.3 327.8L146.5 327.2L146.7 326.4L146.9 326.6L147.1 327.3L147.3 327.8L147.5 325.9L147.7 326.9L147.9 326.6L148.1 325.9L148.3 326.6L148.5 325.9L148.7 326.4L148.9 327.4L149.1 326.8L149.3 326.9L149.5 326.8L149.7 326.7L149.9 326.9L150.1 325.9L150.3 326.2L150.5 326.8L150.7 326.0L150.9 326.1L151.1 326.9L151.3 327.0L151.5 325.9L151.7 325.8L151.9 326.4L152.1 326.3L152.3 325.8L152.5 326.4L152.7 326.3L152.9 326.1L153.1 327.4L153.3 326.6L153.5 326.3L153.7 326.4L153.9 327.3L154.1 326.4L154.3 325.5L154.5 326.0L154.7 325.9L154.9 325.5L155.1 325.9L155.3 325.9L155.5 325.7L155.7 325.5L155.9 326.1L156.1 325.0L156.3 326.1L156.5 325.7L156.7 325.9L156.9 324.6L157.1 326.5L157.3 324.9L157.5 325.3L157.7 326.1L157.9 325.5L158.1 325.6L158.3 324.7L158.5 325.6L158.7 325.9L158.9 326.2L159.1 325.7L159.3 326.0L159.5 326.1L159.7 325.6L159.9 325.6L160.1 327.0L160.3 325.6L160.5 326.7L160.7 326.2L160.9 326.9L161.1 325.9L161.3 326.5L161.5 326.4L161.7 326.2L161.9 326.5L162.1 326.0L162.3 326.3L162.5 326.2L162.7 326.8L162.9 326.4L163.1 325.8L163.3 326.3L163.5 326.5L163.7 326.2L163.9 327.3L164.1 326.9L164.3 327.1L164.5 326.4L164.7 326.6L164.9 327.3L165.1 326.2L165.3 327.1L165.5 327.0L165.7 326.7L165.9 327.1L166.1 326.6L166.3 327.2L166.5 326.6L166.7 326.6L166.9 327.9L167.1 327.0L167.3 326.3L167.5 327.9L167.7 327.0L167.9 325.9L168.1 327.5L168.3 328.0L168.5 327.8L168.7 328.5L168.9 327.6L169.1 328.0L169.3 327.3L169.5 327.9L169.7 328.6L169.9 328.2L170.1 328.0L170.3 327.0L170.5 327.8L170.7 327.4L170.9 328.5L171.1 327.8L171.3 328.4L171.5 327.7L171.7 329.2L171.9 327.7L172.1 328.4L172.3 329.7L172.5 328.5L172.7 328.0L172.9 328.8L173.1 329.0L173.3 328.9L173.5 327.6L173.7 328.7L173.9 327.6L174.1 329.6L174.3 328.7L174.5 328.4L174.7 329.0L174.9 329.0L175.1 328.1L175.3 329.6L175.5 328.6L175.7 327.9L175.9 329.5L176.1 329.6L176.3 329.5L176.5 329.1L176.7 328.4L176.9 329.4L177.1 329.8L177.3 329.3L177.5 329.7L177.7 328.6L177.9 329.5L178.1 329.5L178.3 328.3L178.5 328.2L178.7 328.7L178.9 329.7L179.1 329.3L179.3 329.0L179.5 329.1L179.7 329.1L179.9 329.2L180.1 329.5L180.3 329.4L180.5 329.2L180.7 329.3L180.9 329.0L181.1 329.6L181.3 329.0L181.5 330.1L181.7 329.3L181.9 329.4L182.1 328.9L182.3 329.2L182.5 329.4L182.7 329.4L182.9 329.1L183.1 328.8L183.3 329.4L183.5 329.5L183.7 329.7L183.9 330.1L184.1 329.3L184.3 328.5L184.5 329.4L184.7 328.6L184.9 328.9L185.1 330.0L185.3 329.8L185.5 329.2L185.7 329.2L185.9 329.5L186.1 328.7L186.3 329.8L186.5 329.4L186.7 330.5L186.9 329.0L187.1 330.1L187.3 329.2L187.5 330.1L187.7 329.1L187.9 330.0L188.1 329.4L188.3 329.2L188.5 329.5L188.7 329.9L188.9 329.8L189.1 330.4L189.3 330.0L189.5 328.3L189.7 329.4L189.9 328.6L190.1 329.4L190.3 329.9L190.5 329.0L190.7 329.0L190.9 329.7L191.1 329.5L191.3 330.4L191.5 329.8L191.7 329.9L191.9 330.5L192.1 329.4L192.3 329.6L192.5 329.1L192.7 329.8L192.9 330.1L193.1 330.3L193.3 329.6L193.5 329.3L193.7 329.2L193.9 328.9L194.1 329.7L194.3 330.3L194.5 328.4L194.7 328.5L194.9 330.3L195.1 328.8L195.3 329.8L195.5 329.0L195.7 330.0L195.9 330.0L196.1 329.7L196.3 330.0L196.5 329.7L196.7 329.9L196.9 330.5L197.1 330.2L197.3 329.3L197.5 329.2L197.7 329.5L197.9 329.5L198.1 329.7L198.3 329.3L198.5 330.0L198.7 329.7L198.9 329.8L199.1 329.6L199.3 329.9L199.5 329.0L199.7 330.4L199.9 329.8L200.1 329.9L200.3 329.9L200.5 330.2L200.7 330.0L200.9 329.8L201.1 329.5L201.3 328.8L201.5 329.7L201.7 329.5L201.9 329.5L202.1 330.8L202.3 328.7L202.5 329.7L202.7 330.2L202.9 330.1L203.1 330.3L203.3 329.0L203.5 329.2L203.7 329.9L203.9 329.5L204.1 330.5L204.3 329.8L204.5 329.7L204.7 329.9L204.9 329.5L205.1 329.7L205.3 329.3L205.5 329.6L205.7 329.4L205.9 329.8L206.1 328.9L206.3 328.9L206.5 329.9L206.7 329.8L206.9 329.2L207.1 329.6L207.3 329.1L207.5 330.7L207.7 328.9L207.9 330.5L208.1 329.3L208.3 329.9L208.5 329.6L208.7 329.5L208.9 330.2L209.1 330.1L209.3 329.6L209.5 329.3L209.7 330.8L209.9 330.5L210.1 329.8L210.3 329.6L210.5 329.9L210.7 329.9L210.9 330.4L211.1 329.3L211.3 329.9L211.5 329.5L211.7 330.5L211.9 330.8L212.1 329.8L212.3 330.2L212.5 330.6L212.7 329.8L212.9 329.5L213.1 330.5L213.3 330.2L213.5 329.9L213.7 330.7L213.9 330.1L214.1 329.1L214.3 330.2L214.5 330.0L214.7 331.0L214.9 330.1L215.1 330.0L215.3 330.3L215.5 330.2L215.7 329.4L215.9 330.2L216.1 330.0L216.3 330.9L216.5 331.4L216.7 329.6L216.9 329.7L217.1 329.8L217.3 329.9L217.5 329.9L217.7 330.3L217.9 330.8L218.1 329.7L218.3 329.6L218.5 329.4L218.7 330.9L218.9 331.0L219.1 329.6L219.3 329.6L219.5 330.5L219.7 331.0L219.9 330.9L220.1 330.6L220.3 330.8L220.5 330.6L220.7 330.2L220.9 331.5L221.1 330.5L221.3 330.0L221.5 330.3L221.7 329.8L221.9 330.6L222.1 331.2L222.3 330.0L222.5 331.2L222.7 331.7L222.9 330.9L223.1 330.1L223.3 330.3L223.5 330.6L223.7 330.1L223.9 330.1L224.1 330.6L224.3 330.7L224.5 331.1L224.7 330.2L224.9 331.8L225.1 331.4L225.3 331.3L225.5 330.6L225.7 331.8L225.9 330.8L226.1 331.9L226.3 331.5L226.5 330.5L226.7 330.8L226.9 332.0L227.1 331.6L227.3 331.0L227.5 331.2L227.7 331.2L227.9 330.8L228.1 331.1L228.3 330.8L228.5 331.0L228.7 331.5L228.9 330.8L229.1 331.6L229.3 331.3L229.5 331.7L229.7 331.8L229.9 332.0L230.1 331.7L230.3 332.6L230.5 331.3L230.7 331.7L230.9 331.0L231.1 331.4L231.3 331.9L231.5 331.5L231.7 331.8L231.9 331.0L232.1 332.3L232.3 331.3L232.5 331.8L232.7 331.7L232.9 332.2L233.1 331.5L233.3 331.2L233.5 330.8L233.7 331.6L233.9 331.2L234.1 332.1L234.3 332.6L234.5 330.8L234.7 331.3L234.9 332.1L235.1 332.6L235.3 332.1L235.5 332.2L235.7 332.3L235.9 332.4L236.1 332.9L236.3 332.4L236.5 331.5L236.7 331.9L236.9 332.3L237.1 331.8L237.3 332.1L237.5 332.0L237.7 332.0L237.9 332.7L238.1 332.2L238.3 331.9L238.5 332.1L238.7 332.5L238.9 333.6L239.1 332.7L239.3 333.3L239.5 332.8L239.7 331.5L239.9 332.8L240.1 332.3L240.3 332.0L240.5 332.2L240.7 333.7L240.9 332.0L241.1 332.5L241.3 333.5L241.5 333.3L241.7 332.1L241.9 332.9L242.1 332.8L242.3 333.0L242.5 333.5L242.7 332.8L242.9 333.0L243.1 333.9L243.3 332.3L243.5 333.1L243.7 333.5L243.9 332.7L244.1 333.0L244.3 332.7L244.5 333.5L244.7 333.2L244.9 333.9L245.1 334.1L245.3 333.6L245.5 333.4L245.7 333.8L245.9 333.7L246.1 333.1L246.3 334.3L246.5 333.9L246.7 334.2L246.9 333.2L247.1 334.3L247.3 335.0L247.5 334.3L247.7 333.2L247.9 334.0L248.1 334.0L248.3 334.2L248.5 334.0L248.7 334.4L248.9 333.9L249.1 334.3L249.3 333.9L249.5 334.3L249.7 334.8L249.9 334.1L250.1 334.7L250.3 333.9L250.5 334.2L250.7 334.3L250.9 335.1L251.1 334.1L251.3 335.2L251.5 333.8L251.7 334.5L251.9 335.1L252.1 335.0L252.3 334.2L252.5 334.1L252.7 335.2L252.9 334.1L253.1 335.1L253.3 334.6L253.5 334.8L253.7 336.1L253.9 335.7L254.1 335.4L254.3 334.3L254.5 335.2L254.7 335.0L254.9 335.0L255.1 335.8L255.3 334.2L255.5 335.3L255.7 335.2L255.9 334.8L256.1 336.1L256.3 334.6L256.5 335.3L256.7 335.3L256.9 334.2L257.1 334.6L257.3 334.9L257.5 335.8L257.7 335.9L257.9 335.8L258.1 335.6L258.3 334.4L258.5 335.7L258.7 335.3L258.9 336.2L259.1 336.3L259.3 336.8L259.5 336.0L259.7 336.1L259.9 335.2L260.1 335.8L260.3 335.2L260.5 336.3L260.7 335.3L260.9 335.8L261.1 335.5L261.3 335.7L261.5 336.2L261.7 335.7L261.9 336.2L262.1 335.6L262.3 336.8L262.5 335.8L262.7 336.7L262.9 337.3L263.1 335.0L263.3 335.8L263.5 336.2L263.7 336.9L263.9 336.1L264.1 336.6L264.3 336.0L264.5 336.7L264.7 335.9L264.9 336.9L265.1 335.0L265.3 335.6L265.5 337.6L265.7 336.8L265.9 336.3L266.1 337.9L266.3 337.3L266.5 337.4L266.7 336.7L266.9 336.2L267.1 337.2L267.3 336.2L267.5 337.3L267.7 337.0L267.9 337.8L268.1 337.8L268.3 336.9L268.5 337.0L268.7 337.4L268.9 337.7L269.1 337.2L269.3 337.4L269.5 337.8L269.7 337.7L269.9 338.1L270.1 337.3L270.3 337.1L270.5 336.8L270.7 338.1L270.9 337.5L271.1 337.5L271.3 337.6L271.5 337.0L271.7 337.6L271.9 336.5L272.1 337.6L272.3 337.4L272.5 338.8L272.7 338.2L272.9 337.9L273.1 338.1L273.3 338.4L273.5 337.7L273.7 337.9L273.9 337.9L274.1 339.4L274.3 338.2L274.5 337.1L274.7 338.6L274.9 339.5L275.1 337.7L275.3 339.7L275.5 338.2L275.7 338.7L275.9 337.9L276.1 338.1L276.3 337.6L276.5 337.7L276.7 337.1L276.9 338.8L277.1 337.9L277.3 338.4L277.5 338.3L277.7 337.9L277.9 338.2L278.1 338.1L278.3 337.9L278.5 338.2L278.7 338.1L278.9 337.6L279.1 337.4L279.3 337.6L279.5 338.1L279.7 338.7L279.9 338.7L280.1 338.1L280.3 338.4L280.5 337.9L280.7 338.4L280.9 337.9L281.1 338.0L281.3 337.6L281.5 337.7L281.7 338.6L281.9 337.0L282.1 337.6L282.3 337.2L282.5 338.0L282.7 338.3L282.9 337.1L283.1 335.7L283.3 337.4L283.5 337.2L283.7 335.9L283.9 336.5L284.1 336.4L284.3 335.1L284.5 336.5L284.7 336.1L284.9 335.8L285.1 334.8L285.3 334.6L285.5 334.3L285.7 334.4L285.9 333.2L286.1 333.9L286.3 332.7L286.5 330.5L286.7 331.0L286.9 328.6L287.1 326.8L287.3 326.0L287.5 324.6L287.7 325.8L287.9 324.9L288.1 326.3L288.3 328.2L288.5 328.7L288.7 328.3L288.9 328.4L289.1 329.9L289.3 329.8L289.5 330.4L289.7 331.1L289.9 330.6L290.1 332.0L290.3 330.9L290.5 333.1L290.7 331.9L290.9 332.7L291.1 333.1L291.3 334.2L291.5 334.6L291.7 334.7L291.9 335.2L292.1 335.5L292.3 335.5L292.5 334.9L292.7 335.0L292.9 335.3L293.1 336.8L293.3 337.0L293.5 337.3L293.7 337.7L293.9 337.7L294.1 337.5L294.3 337.4L294.5 337.4L294.7 339.2L294.9 339.2L295.1 338.1L295.3 338.9L295.5 339.4L295.7 340.1L295.9 339.1L296.1 339.6L296.3 340.2L296.5 338.8L296.7 339.5L296.9 339.9L297.1 339.7L297.3 341.2L297.5 340.7L297.7 340.4L297.9 339.9L298.1 340.9L298.3 340.8L298.5 340.3L298.7 340.4L298.9 339.9L299.1 340.6L299.3 341.2L299.5 341.3L299.7 341.1L299.9 341.3L300.1 340.6L300.3 340.7L300.5 341.6L300.7 341.2L300.9 340.6L301.1 341.3L301.3 341.5L301.5 341.5L301.7 341.2L301.9 340.9L302.1 341.4L302.3 342.1L302.5 341.3L302.7 341.0L302.9 341.5L303.1 340.7L303.3 341.5L303.5 341.3L303.7 342.0L303.9 341.6L304.1 342.1L304.3 342.8L304.5 341.6L304.7 341.3L304.9 342.0L305.1 341.8L305.3 341.9L305.5 341.6L305.7 342.3L305.9 342.1L306.1 341.0L306.3 342.0L306.5 342.4L306.7 342.9L306.9 342.0L307.1 341.9L307.3 343.0L307.5 342.1L307.7 342.6L307.9 342.8L308.1 343.0L308.3 342.7L308.5 342.1L308.7 343.3L308.9 342.6L309.1 342.6L309.3 343.9L309.5 343.4L309.7 342.4L309.9 342.8L310.1 342.9L310.3 342.7L310.5 342.2L310.7 343.6L310.9 343.6L311.1 343.4L311.3 343.1L311.5 343.5L311.7 343.7L311.9 342.9L312.1 343.3L312.3 343.2L312.5 343.9L312.7 343.7L312.9 343.0L313.1 343.4L313.3 344.6L313.5 343.2L313.7 343.9L313.9 343.5L314.1 344.5L314.3 343.9L314.5 343.7L314.7 343.3L314.9 343.9L315.1 344.5L315.3 344.4L315.5 343.4L315.7 344.9L315.9 344.0L316.1 343.6L316.3 344.3L316.5 343.9L316.7 344.0L316.9 344.0L317.1 344.3L317.3 344.1L317.5 343.5L317.7 344.7L317.9 344.2L318.1 345.1L318.3 344.8L318.5 344.9L318.7 344.7L318.9 345.3L319.1 344.5L319.3 344.2L319.5 344.9L319.7 343.3L319.9 344.6L320.1 344.9L320.3 344.6L320.5 345.4L320.7 345.2L320.9 344.9L321.1 344.6L321.3 345.4L321.5 344.5L321.7 344.7L321.9 345.3L322.1 345.2L322.3 346.0L322.5 344.8L322.7 344.0L322.9 345.3L323.1 345.6L323.3 344.9L323.5 345.8L323.7 345.9L323.9 344.7L324.1 344.8L324.3 344.4L324.5 345.3L324.7 345.4L324.9 345.4L325.1 344.5L325.3 344.7L325.5 344.4L325.7 344.3L325.9 344.4L326.1 344.3L326.3 345.1L326.5 345.4L326.7 345.5L326.9 345.2L327.1 344.9L327.3 345.7L327.5 345.5L327.7 345.1L327.9 345.3L328.1 345.1L328.3 345.0L328.5 345.3L328.7 344.7L328.9 345.8L329.1 344.5L329.3 345.5L329.5 344.6L329.7 346.1L329.9 345.8L330.1 344.9L330.3 345.1L330.5 344.8L330.7 345.3L330.9 345.6L331.1 346.7L331.3 344.7L331.5 346.0L331.7 345.1L331.9 345.5L332.1 345.9L332.3 345.7L332.5 345.6L332.7 345.3L332.9 345.4L333.1 345.5L333.3 346.1L333.5 344.7L333.7 345.2L333.9 344.8L334.1 345.0L334.3 345.1L334.5 346.1L334.7 346.6L334.9 346.2L335.1 344.9L335.3 345.6L335.5 344.9L335.7 345.8L335.9 346.2L336.1 345.8L336.3 346.0L336.5 345.5L336.7 344.6L336.9 344.6L337.1 345.5L337.3 345.9L337.5 346.2L337.7 345.4L337.9 345.6L338.1 345.7L338.3 346.2L338.5 345.6L338.7 345.1L338.9 346.2L339.1 345.9L339.3 345.9L339.5 345.0L339.7 345.7L339.9 344.8L340.1 344.7L340.3 345.6L340.5 345.5L340.7 346.0L340.9 346.5L341.1 345.7L341.3 346.7L341.5 345.4L341.7 346.1L341.9 345.1L342.1 345.8L342.3 345.6L342.5 345.7L342.7 346.1L342.9 344.8L343.1 345.9L343.3 345.4L343.5 345.9L343.7 346.0L343.9 345.7L344.1 345.7L344.3 345.3L344.5 346.2L344.7 345.5L344.9 346.1L345.1 345.2L345.3 346.6L345.5 345.4L345.7 346.5L345.9 345.7L346.1 346.2L346.3 345.9L346.5 346.3L346.7 346.0L346.9 346.7L347.1 346.4L347.3 346.4L347.5 346.9L347.7 345.7L347.9 346.7L348.1 346.1L348.3 345.3L348.5 346.3L348.7 346.0L348.9 347.0L349.1 345.9L349.3 346.2L349.5 346.3L349.7 345.2L349.9 346.4L350.1 345.7L350.3 346.9L350.5 347.1L350.7 346.2L350.9 345.4L351.1 346.3L351.3 346.3L351.5 346.6L351.7 346.1L351.9 345.7L352.1 346.2L352.3 345.8L352.5 347.2L352.7 346.0L352.9 346.0L353.1 346.3L353.3 345.7L353.5 346.2L353.7 346.3L353.9 346.2L354.1 346.3L354.3 347.1L354.5 346.7L354.7 345.8L354.9 346.3L355.1 346.9L355.3 346.2L355.5 346.6L355.7 346.5L355.9 346.8L356.1 346.5L356.3 346.5L356.5 346.1L356.7 346.8L356.9 346.1L357.1 347.5L357.3 346.6L357.5 346.5L357.7 347.1L357.9 346.6L358.1 346.7L358.3 346.7L358.5 346.3L358.7 346.2L358.9 346.4L359.1 347.3L359.3 346.4L359.5 346.6L359.7 346.5L359.9 347.1L360.1 347.8L360.3 346.3L360.5 347.1L360.7 346.9L360.9 346.7L361.1 347.1L361.3 346.2L361.5 347.3L361.7 347.0L361.9 346.4L362.1 347.7L362.3 347.4L362.5 347.5L362.7 346.2L362.9 346.8L363.1 346.7L363.3 347.3L363.5 347.7L363.7 346.0L363.9 347.0L364.1 347.0L364.3 347.5L364.5 347.0L364.7 346.4L364.9 347.0L365.1 346.5L365.3 346.7L365.5 347.1L365.7 346.9L365.9 347.3L366.1 346.4L366.3 348.3L366.5 347.8L366.7 347.5L366.9 346.5L367.1 346.1L367.3 346.7L367.5 347.1L367.7 348.3L367.9 347.9L368.1 347.0L368.3 347.8L368.5 347.9L368.7 347.3L368.9 347.9L369.1 347.4L369.3 346.9L369.5 346.7L369.7 347.2L369.9 347.8L370.1 346.6L370.3 346.5L370.5 347.6L370.7 345.9L370.9 348.3L371.1 347.1L371.3 347.7L371.5 348.3L371.7 346.6L371.9 346.8L372.1 348.5L372.3 347.2L372.5 347.3L372.7 347.5L372.9 347.9L373.1 348.1L373.3 347.5L373.5 347.3L373.7 347.4L373.9 347.6L374.1 348.1L374.3 347.5L374.5 348.4L374.7 347.0L374.9 347.7L375.1 348.4L375.3 348.1L375.5 347.7L375.7 347.1L375.9 347.1L376.1 347.4L376.3 347.7L376.5 347.4L376.7 346.8L376.9 347.2L377.1 347.8L377.3 348.0L377.5 346.8L377.7 347.4L377.9 346.7L378.1 347.3L378.3 349.1L378.5 347.6L378.7 347.4L378.9 347.3L379.1 347.0L379.3 346.7L379.5 347.6L379.7 347.5L379.9 348.4L380.1 346.8L380.3 347.9L380.5 348.3L380.7 346.7L380.9 348.0L381.1 346.9L381.3 347.9L381.5 348.4L381.7 347.7L381.9 347.8L382.1 347.3L382.3 347.9L382.5 348.3L382.7 347.6L382.9 347.7L383.1 347.9L383.3 348.2L383.5 346.9L383.7 347.8L383.9 347.4L384.1 348.0L384.3 348.3L384.5 347.9L384.7 348.4L384.9 347.3L385.1 347.6L385.3 347.3L385.5 347.8L385.7 347.9L385.9 347.7L386.1 347.2L386.3 347.8L386.5 347.6L386.7 348.1L386.9 347.7L387.1 348.4L387.3 348.0L387.5 346.9L387.7 347.8L387.9 347.1L388.1 348.4L388.3 348.6L388.5 347.9L388.7 348.1L388.9 347.1L389.1 346.7L389.3 347.6L389.5 347.8L389.7 347.1L389.9 347.9L390.1 348.1L390.3 348.2L390.5 348.7L390.7 348.3L390.9 347.7L391.1 348.0L391.3 348.2L391.5 347.4L391.7 348.6L391.9 348.4L392.1 347.8L392.3 347.6L392.5 349.5L392.7 348.4L392.9 348.4L393.1 348.9L393.3 348.5L393.5 348.1L393.7 348.3L393.9 347.5L394.1 348.4L394.3 347.2L394.5 348.2L394.7 348.3L394.9 347.2L395.1 349.0L395.3 347.4L395.5 348.5L395.7 347.7L395.9 348.2L396.1 347.7L396.3 349.3L396.5 348.6L396.7 349.0L396.9 348.4L397.1 348.4L397.3 348.1L397.5 347.9L397.7 348.4L397.9 348.1L398.1 348.0L398.3 347.4L398.5 347.9L398.7 348.4L398.9 347.8L399.1 348.3L399.3 348.0L399.5 347.6L399.7 347.6L399.9 347.7L400.1 347.9L400.3 348.0L400.5 348.7L400.7 347.5L400.9 347.1L401.1 348.5L401.3 347.9L401.5 348.0L401.7 349.4L401.9 348.9L402.1 348.4L402.3 348.6L402.5 348.2L402.7 348.6L402.9 347.8L403.1 347.8L403.3 347.9L403.5 348.9L403.7 348.9L403.9 347.8L404.1 348.7L404.3 348.1L404.5 348.7L404.7 348.0L404.9 348.6L405.1 348.1L405.3 348.0L405.5 348.2L405.7 348.2L405.9 347.9L406.1 347.5L406.3 349.0L406.5 348.0L406.7 347.2L406.9 347.0L407.1 346.7L407.3 347.9L407.5 348.9L407.7 347.4L407.9 348.0L408.1 347.2L408.3 348.8L408.5 348.4L408.7 348.4L408.9 348.9L409.1 349.0L409.3 348.7L409.5 347.9L409.7 347.5L409.9 347.7L410.1 347.3L410.3 349.1L410.5 348.1L410.7 348.3L410.9 348.3L411.1 349.3L411.3 347.9L411.5 348.8L411.7 348.4L411.9 348.2L412.1 347.3L412.3 348.7L412.5 347.9L412.7 348.0L412.9 348.4L413.1 348.3L413.3 348.8L413.5 347.9L413.7 348.3L413.9 348.4L414.1 348.3L414.3 348.6L414.5 348.1L414.7 348.9L414.9 347.9L415.1 347.5L415.3 348.3L415.5 348.9L415.7 348.0L415.9 348.0L416.1 348.1L416.3 348.4L416.5 348.2L416.7 348.4L416.9 347.4L417.1 349.1L417.3 348.6L417.5 347.9L417.7 349.0L417.9 348.5L418.1 349.1L418.3 347.7L418.5 349.2L418.7 348.3L418.9 347.3L419.1 348.7L419.3 348.2L419.5 347.8L419.7 348.2L419.9 347.3L420.1 348.6L420.3 348.2L420.5 348.2L420.7 349.1L420.9 348.3L421.1 348.0L421.3 347.8L421.5 348.3L421.7 348.9L421.9 348.0L422.1 347.8L422.3 348.8L422.5 348.4L422.7 348.3L422.9 349.4L423.1 347.7L423.3 348.5L423.5 347.4L423.7 348.2L423.9 348.7L424.1 348.9L424.3 347.7L424.5 348.8L424.7 348.8L424.9 348.3L425.1 349.6L425.3 348.4L425.5 347.9L425.7 348.6L425.9 347.4L426.1 349.2L426.3 348.9L426.5 348.2L426.7 348.7L426.9 348.7L427.1 349.4L427.3 348.1L427.5 347.7L427.7 347.4L427.9 348.3L428.1 347.6L428.3 348.3L428.5 348.6L428.7 348.2L428.9 347.9L429.1 349.0L429.3 348.3L429.5 348.5L429.7 348.9L429.9 347.8L430.1 348.0L430.3 349.7L430.5 348.4L430.7 347.9L430.9 348.3L431.1 348.1L431.3 347.8L431.5 348.2L431.7 348.4L431.9 348.4L432.1 348.7L432.3 347.6L432.5 347.7L432.7 348.9L432.9 348.2L433.1 349.1L433.3 348.6L433.5 347.7L433.7 348.7L433.9 348.0L434.1 348.6L434.3 349.1L434.5 349.6L434.7 348.4L434.9 348.8L435.1 348.6L435.3 348.9L435.5 347.2L435.7 348.3L435.9 348.6L436.1 348.7L436.3 348.1L436.5 348.9L436.7 349.1L436.9 348.5L437.1 348.4L437.3 348.3L437.5 348.6L437.7 349.1L437.9 349.3L438.1 348.3L438.3 348.0L438.5 348.1L438.7 349.0L438.9 348.6L439.1 348.7L439.3 348.8L439.5 348.7L439.7 348.5L439.9 348.0L440.1 348.2L440.3 348.6L440.5 348.7L440.7 348.3L440.9 348.3L441.1 349.2L441.3 348.3L441.5 348.6L441.7 348.4L441.9 348.1L442.1 347.8L442.3 348.3L442.5 348.1L442.7 349.0L442.9 347.9L443.1 348.3L443.3 348.9L443.5 348.5L443.7 348.8L443.9 349.0L444.1 347.7L444.3 348.3L444.5 348.1L444.7 349.2L444.9 348.5L445.1 348.8L445.3 349.4L445.5 348.4L445.7 348.6L445.9 348.8L446.1 348.4L446.3 349.2L446.5 349.0L446.7 349.1L446.9 348.6L447.1 348.4L447.3 348.4L447.5 348.4L447.7 347.7L447.9 348.8L448.1 349.0L448.3 348.6L448.5 348.3L448.7 348.6L448.9 348.7L449.1 348.7L449.3 349.5L449.5 348.1L449.7 348.8L449.9 348.9L450.1 348.6L450.3 348.5L450.5 348.1L450.7 348.3L450.9 348.9L451.1 349.3L451.3 348.2L451.5 348.8L451.7 348.8L451.9 349.1L452.1 348.7L452.3 348.8L452.5 349.0L452.7 348.0L452.9 348.6L453.1 347.7L453.3 347.6L453.5 348.2L453.7 347.8L453.9 348.9L454.1 349.1L454.3 348.4L454.5 348.5L454.7 348.5L454.9 348.5L455.1 348.7L455.3 348.8L455.5 348.4L455.7 348.2L455.9 348.3L456.1 349.0L456.3 348.4L456.5 349.3L456.7 348.5L456.9 349.3L457.1 348.0L457.3 348.3L457.5 348.8L457.7 348.9L457.9 348.5L458.1 349.6L458.3 348.6L458.5 348.8L458.7 348.3L458.9 349.4L459.1 349.0L459.3 348.8L459.5 347.8L459.7 348.8L459.9 348.4L460.1 348.8L460.3 349.1L460.5 348.2L460.7 348.7L460.9 349.1L461.1 348.7L461.3 348.4L461.5 348.1L461.7 348.3L461.9 348.0L462.1 349.1L462.3 348.7L462.5 348.0L462.7 348.6L462.9 348.0L463.1 347.1L463.3 349.2L463.5 349.2L463.7 347.9L463.9 348.3L464.1 348.7L464.3 348.4L464.5 348.2L464.7 348.4L464.9 348.5L465.1 348.3L465.3 348.7L465.5 348.5L465.7 348.2L465.9 348.6L466.1 347.8L466.3 349.3L466.5 347.7L466.7 348.6L466.9 348.8L467.1 348.8L467.3 348.7L467.5 349.2L467.7 348.0L467.9 348.6L468.1 348.7L468.3 348.3L468.5 348.3L468.7 349.2L468.9 348.2L469.1 348.3L469.3 348.4L469.5 348.5L469.7 348.6L469.9 348.4L470.1 348.7L470.3 348.6L470.5 348.8L470.7 349.2L470.9 348.1L471.1 349.3L471.3 348.3L471.5 348.8L471.7 348.6L471.9 348.3L472.1 347.5L472.3 349.3L472.5 348.1L472.7 348.1L472.9 349.0L473.1 348.5L473.3 349.4L473.5 349.3L473.7 348.8L473.9 348.6L474.1 348.8L474.3 347.8L474.5 348.5L474.7 348.5L474.9 348.1L475.1 348.5L475.3 347.6L475.5 348.8L475.7 349.0L475.9 347.7L476.1 348.4L476.3 349.1L476.5 348.5L476.7 347.8L476.9 347.8L477.1 348.7L477.3 349.2L477.5 347.7L477.7 348.3L477.9 347.9L478.1 348.1L478.3 348.4L478.5 348.2L478.7 347.9L478.9 349.2L479.1 348.1L479.3 348.1L479.5 348.7L479.7 348.2L479.9 348.0L480.1 348.6L480.3 347.6L480.5 348.5L480.7 348.6L480.9 348.4L481.1 348.0L481.3 348.1L481.5 347.2L481.7 348.0L481.9 348.2L482.1 348.5L482.3 348.1L482.5 347.8L482.7 347.6L482.9 348.0L483.1 348.0L483.3 348.6L483.5 348.0L483.7 347.7L483.9 347.9L484.1 347.7L484.3 347.8L484.5 346.8L484.7 347.1L484.9 347.3L485.1 348.1L485.3 347.8L485.5 347.9L485.7 348.4L485.9 347.3L486.1 348.4L486.3 348.0L486.5 347.4L486.7 348.5L486.9 347.1L487.1 347.2L487.3 347.6L487.5 347.9L487.7 347.6L487.9 346.7L488.1 347.6L488.3 347.7L488.5 348.9L488.7 348.4L488.9 347.7L489.1 347.1L489.3 347.8L489.5 347.1L489.7 347.7L489.9 347.8L490.1 347.4L490.3 347.7L490.5 347.4L490.7 347.3L490.9 348.3L491.1 347.8L491.3 347.4L491.5 346.1L491.7 347.6L491.9 347.8L492.1 347.9L492.3 348.2L492.5 347.7L492.7 346.9L492.9 348.4L493.1 348.0L493.3 347.8L493.5 348.0L493.7 346.6L493.9 347.2L494.1 347.1L494.3 347.9L494.5 346.7L494.7 347.2L494.9 348.1L495.1 347.6L495.3 347.1L495.5 348.3L495.7 346.7L495.9 347.6L496.1 347.3L496.3 347.7L496.5 347.3L496.7 347.0L496.9 347.6L497.1 346.9L497.3 347.8L497.5 347.4L497.7 348.1L497.9 347.5L498.1 347.4L498.3 347.9L498.5 348.4L498.7 346.8L498.9 347.9L499.1 348.2L499.3 347.2L499.5 347.5L499.7 348.3L499.9 347.6L500.1 347.7L500.3 348.9L500.5 347.6L500.7 347.6L500.9 347.0L501.1 347.6L501.3 347.5L501.5 349.0L501.7 348.8L501.9 347.6L502.1 349.7L502.3 348.6L502.5 348.2L502.7 348.7L502.9 348.5L503.1 347.9L503.3 347.4L503.5 347.9L503.7 348.3L503.9 348.2L504.1 348.0L504.3 348.9L504.5 347.9L504.7 348.9L504.9 348.2L505.1 348.5L505.3 347.9L505.5 348.5L505.7 348.1L505.9 347.7L506.1 348.5L506.3 348.5L506.5 349.0L506.7 348.7L506.9 348.1L507.1 348.3L507.3 347.4L507.5 348.1L507.7 349.3L507.9 349.4L508.1 349.0L508.3 348.8L508.5 348.9L508.7 348.9L508.9 347.8L509.1 348.2L509.3 349.3L509.5 349.3L509.7 348.8L509.9 348.5" stroke="#0505F0" stroke-width="1.5"/>
<g stroke="#F80808"><path d="M66.5 363.5L67.0 367.0L67.5 370.4L68.0 373.7L68.5 376.6L69.0 378.7L69.5 380.6" stroke-width="3.67"/><path d="M69.5 380.6L70.0 382.2L70.5 383.7L71.0 385.1L71.5 386.4L72.0 387.7L72.5 389.1" stroke-width="3.92"/><path d="M72.5 389.1L73.0 390.4L73.5 391.6L74.0 392.8L74.5 394.0L75.0 395.2L75.5 396.3" stroke-width="4.17"/><path d="M75.5 396.3L76.0 397.4L76.5 398.6L77.0 399.8L77.5 401.0L78.0 402.2L78.5 403.5" stroke-width="4.42"/><path d="M78.5 403.5L79.0 404.8L79.5 406.0L80.0 407.1L80.5 408.0L81.0 408.8L81.5 409.6" stroke-width="4.83"/><path d="M81.5 409.6L82.0 410.3L82.5 411.0L83.0 411.7L83.5 412.3L84.0 412.9L84.5 413.4" stroke-width="5.33"/><path d="M84.5 413.4L85.0 414.0L85.5 414.5L86.0 415.0L86.5 415.5L87.0 415.9L87.5 416.4" stroke-width="5.83"/><path d="M87.5 416.4L88.0 416.8L88.5 417.2L89.0 417.6L89.5 417.9L90.0 418.3L90.5 418.7" stroke-width="6.33"/><path d="M90.5 418.7L91.0 419.1L91.5 419.6L92.0 420.0L92.5 420.4L93.0 420.8L93.5 421.3" stroke-width="6.50"/><path d="M93.5 421.3L94.0 421.7L94.5 422.1L95.0 422.5L95.5 423.0L96.0 423.4L96.5 423.8" stroke-width="6.50"/><path d="M96.5 423.8L97.0 424.3L97.5 424.8L98.0 425.2L98.5 425.7L99.0 426.2L99.5 426.7" stroke-width="6.50"/><path d="M99.5 426.7L100.0 427.2L100.5 427.7L101.0 428.2L101.5 428.7L102.0 429.1L102.5 429.6" stroke-width="6.50"/><path d="M102.5 429.6L103.0 430.0L103.5 430.5L104.0 430.9L104.5 431.4L105.0 431.8L105.5 432.2" stroke-width="6.50"/><path d="M105.5 432.2L106.0 432.6L106.5 433.0L107.0 433.4L107.5 433.8L108.0 434.1L108.5 434.5" stroke-width="6.50"/><path d="M108.5 434.5L109.0 434.8L109.5 435.1L110.0 435.4L110.5 435.7L111.0 436.0L111.5 436.3" stroke-width="6.50"/><path d="M111.5 436.3L112.0 436.6L112.5 436.9L113.0 437.2L113.5 437.4L114.0 437.7L114.5 438.0" stroke-width="6.50"/><path d="M114.5 438.0L115.0 438.3L115.5 438.5L116.0 438.8L116.5 439.1L117.0 439.3L117.5 439.6" stroke-width="6.50"/><path d="M117.5 439.6L118.0 439.8L118.5 440.1L119.0 440.3L119.5 440.5L120.0 440.8L120.5 441.0" stroke-width="6.50"/><path d="M120.5 441.0L121.0 441.2L121.5 441.5L122.0 441.7L122.5 441.9L123.0 442.1L123.5 442.3" stroke-width="6.50"/><path d="M123.5 442.3L124.0 442.6L124.5 442.8L125.0 443.0L125.5 443.2L126.0 443.5L126.5 443.7" stroke-width="6.50"/><path d="M126.5 443.7L127.0 443.9L127.5 444.2L128.0 444.4L128.5 444.7L129.0 444.9L129.5 445.1" stroke-width="6.50"/><path d="M129.5 445.1L130.0 445.3L130.5 445.6L131.0 445.8L131.5 446.0L132.0 446.2L132.5 446.4" stroke-width="6.50"/><path d="M132.5 446.4L133.0 446.6L133.5 446.8L134.0 447.0L134.5 447.2L135.0 447.4L135.5 447.6" stroke-width="6.50"/><path d="M135.5 447.6L136.0 447.7L136.5 447.9L137.0 448.0L137.5 448.1L138.0 448.2L138.5 448.3" stroke-width="6.50"/><path d="M138.5 448.3L139.0 448.4L139.5 448.5L140.0 448.6L140.5 448.8L141.0 448.9L141.5 449.1" stroke-width="6.50"/><path d="M141.5 449.1L142.0 449.2L142.5 449.4L143.0 449.6L143.5 449.8L144.0 450.0L144.5 450.2" stroke-width="6.50"/><path d="M144.5 450.2L145.0 450.3L145.5 450.5L146.0 450.6L146.5 450.7L147.0 450.9L147.5 451.0" stroke-width="6.50"/><path d="M147.5 451.0L148.0 451.1L148.5 451.2L149.0 451.3L149.5 451.4L150.0 451.5L150.5 451.5" stroke-width="6.50"/><path d="M150.5 451.5L151.0 451.6L151.5 451.6L152.0 451.6L152.5 451.6L153.0 451.6L153.5 451.6" stroke-width="6.50"/><path d="M153.5 451.6L154.0 451.6L154.5 451.6L155.0 451.6L155.5 451.6L156.0 451.6L156.5 451.6" stroke-width="6.50"/><path d="M156.5 451.6L157.0 451.6L157.5 451.6L158.0 451.6L158.5 451.5L159.0 451.5L159.5 451.4" stroke-width="6.50"/><path d="M159.5 451.4L160.0 451.3L160.5 451.2L161.0 451.1L161.5 450.9L162.0 450.8L162.5 450.7" stroke-width="6.50"/><path d="M162.5 450.7L163.0 450.5L163.5 450.4L164.0 450.2L164.5 450.1L165.0 449.9L165.5 449.7" stroke-width="6.50"/><path d="M165.5 449.7L166.0 449.5L166.5 449.3L167.0 449.1L167.5 448.9L168.0 448.6L168.5 448.4" stroke-width="6.50"/><path d="M168.5 448.4L169.0 448.1L169.5 447.8L170.0 447.5L170.5 447.2L171.0 446.9L171.5 446.5" stroke-width="6.50"/><path d="M171.5 446.5L172.0 446.1L172.5 445.7L173.0 445.3L173.5 444.9L174.0 444.4L174.5 443.9" stroke-width="6.50"/><path d="M174.5 443.9L175.0 443.4L175.5 442.8L176.0 442.2L176.5 441.6L177.0 440.9L177.5 440.1" stroke-width="6.04"/><path d="M177.5 440.1L178.0 439.3L178.5 438.4L179.0 437.4L179.5 436.3L180.0 434.9L180.5 433.2" stroke-width="4.66"/><path d="M180.5 433.2L181.0 431.4L181.5 429.4L182.0 427.4L182.5 425.4L183.0 423.1L183.5 420.6" stroke-width="4.20"/><path d="M183.5 420.6L184.0 418.1L184.5 415.7L185.0 413.6L185.5 411.7L186.0 410.0L186.5 408.3" stroke-width="4.20"/><path d="M186.5 408.3L187.0 406.8L187.5 405.2L188.0 403.6L188.5 401.9L189.0 400.1L189.5 398.0" stroke-width="4.20"/><path d="M189.5 398.0L190.0 395.7L190.5 393.4L191.0 391.5L191.5 390.0L192.0 388.9L192.5 387.9" stroke-width="4.20"/><path d="M192.5 387.9L193.0 386.9L193.5 386.2L194.0 385.7L194.5 385.5L195.0 385.7L195.5 386.1" stroke-width="4.20"/><path d="M195.5 386.1L196.0 386.9L196.5 387.8L197.0 388.9L197.5 390.0L198.0 391.7L198.5 394.3" stroke-width="4.20"/><path d="M198.5 394.3L199.0 397.1L199.5 399.7L200.0 401.6L200.5 403.4L201.0 405.0L201.5 406.5" stroke-width="4.20"/><path d="M201.5 406.5L202.0 408.0L202.5 409.4L203.0 410.8L203.5 412.3L204.0 413.8L204.5 415.4" stroke-width="4.20"/><path d="M204.5 415.4L205.0 417.0L205.5 418.6L206.0 420.2L206.5 421.7L207.0 423.2L207.5 424.6" stroke-width="4.20"/><path d="M207.5 424.6L208.0 426.0L208.5 427.3L209.0 428.6L209.5 429.8L210.0 431.1L210.5 432.2" stroke-width="4.20"/><path d="M210.5 432.2L211.0 433.3L211.5 434.4L212.0 435.4L212.5 436.3L213.0 437.2L213.5 438.2" stroke-width="4.20"/><path d="M213.5 438.2L214.0 439.1L214.5 439.9L215.0 440.6L215.5 441.0L216.0 441.1L216.5 441.0" stroke-width="4.20"/><path d="M216.5 441.0L217.0 440.8L217.5 440.5L218.0 440.1L218.5 439.7L219.0 439.2L219.5 438.8" stroke-width="4.20"/><path d="M219.5 438.8L220.0 438.4L220.5 438.0L221.0 437.6L221.5 437.1L222.0 436.6L222.5 436.1" stroke-width="4.20"/><path d="M222.5 436.1L223.0 435.5L223.5 434.9L224.0 434.2L224.5 433.5L225.0 432.7L225.5 431.7" stroke-width="4.20"/><path d="M225.5 431.7L226.0 430.3L226.5 428.6L227.0 426.7L227.5 424.7L228.0 422.7L228.5 420.9" stroke-width="4.20"/><path d="M228.5 420.9L229.0 419.1L229.5 417.4L230.0 415.6L230.5 413.9L231.0 412.1L231.5 410.3" stroke-width="4.20"/><path d="M231.5 410.3L232.0 408.6L232.5 406.7L233.0 404.8L233.5 402.8L234.0 401.1L234.5 399.6" stroke-width="4.20"/><path d="M234.5 399.6L235.0 398.6L235.5 397.6L236.0 396.8L236.5 396.1L237.0 395.7L237.5 395.7" stroke-width="4.20"/><path d="M237.5 395.7L238.0 396.2L238.5 397.2L239.0 398.4L239.5 399.7L240.0 401.1L240.5 402.8" stroke-width="4.20"/><path d="M240.5 402.8L241.0 404.7L241.5 406.7L242.0 408.6L242.5 410.5L243.0 412.6L243.5 414.6" stroke-width="4.20"/><path d="M243.5 414.6L244.0 416.7L244.5 418.6L245.0 420.5L245.5 422.3L246.0 424.0L246.5 425.7" stroke-width="4.20"/><path d="M246.5 425.7L247.0 427.3L247.5 428.9L248.0 430.5L248.5 432.0L249.0 433.6L249.5 435.2" stroke-width="4.20"/><path d="M249.5 435.2L250.0 436.7L250.5 437.8L251.0 438.6L251.5 439.2L252.0 439.8L252.5 440.3" stroke-width="4.20"/><path d="M252.5 440.3L253.0 440.7L253.5 441.1L254.0 441.4L254.5 441.6L255.0 441.8L255.5 442.0" stroke-width="4.20"/><path d="M255.5 442.0L256.0 442.1L256.5 442.3L257.0 442.4L257.5 442.6L258.0 442.8L258.5 442.9" stroke-width="4.57"/><path d="M258.5 442.9L259.0 443.1L259.5 443.3L260.0 443.4L260.5 443.6L261.0 443.7L261.5 443.9" stroke-width="5.13"/><path d="M261.5 443.9L262.0 444.1L262.5 444.2L263.0 444.4L263.5 444.6L264.0 444.8L264.5 445.1" stroke-width="5.50"/><path d="M264.5 445.1L265.0 445.3L265.5 445.6L266.0 445.9L266.5 446.3L267.0 446.7L267.5 447.1" stroke-width="5.50"/><path d="M267.5 447.1L268.0 447.6L268.5 448.1L269.0 448.6L269.5 449.1L270.0 449.6L270.5 450.1" stroke-width="5.50"/><path d="M270.5 450.1L271.0 450.6L271.5 451.1L272.0 451.6L272.5 452.0L273.0 452.4L273.5 452.9" stroke-width="5.50"/><path d="M273.5 452.9L274.0 453.3L274.5 453.7L275.0 454.1L275.5 454.6L276.0 455.0L276.5 455.4" stroke-width="5.50"/><path d="M276.5 455.4L277.0 455.8L277.5 456.2L278.0 456.6L278.5 457.0L279.0 457.3L279.5 457.7" stroke-width="5.50"/><path d="M279.5 457.7L280.0 458.0L280.5 458.3L281.0 458.6L281.5 459.0L282.0 459.3L282.5 459.6" stroke-width="5.50"/><path d="M282.5 459.6L283.0 459.9L283.5 460.2L284.0 460.4L284.5 460.7L285.0 461.0L285.5 461.2" stroke-width="5.50"/><path d="M285.5 461.2L286.0 461.5L286.5 461.7L287.0 461.9L287.5 462.1L288.0 462.3L288.5 462.5" stroke-width="5.50"/><path d="M288.5 462.5L289.0 462.7L289.5 462.8L290.0 463.0L290.5 463.2L291.0 463.3L291.5 463.5" stroke-width="5.50"/><path d="M291.5 463.5L292.0 463.6L292.5 463.8L293.0 463.9L293.5 464.0L294.0 464.1L294.5 464.2" stroke-width="5.50"/><path d="M294.5 464.2L295.0 464.3L295.5 464.4L296.0 464.5L296.5 464.5L297.0 464.6L297.5 464.7" stroke-width="5.50"/><path d="M297.5 464.7L298.0 464.8L298.5 464.8L299.0 464.9L299.5 464.9L300.0 465.0L300.5 465.0" stroke-width="5.50"/><path d="M300.5 465.0L301.0 465.1L301.5 465.1L302.0 465.1L302.5 465.1L303.0 465.1L303.5 465.1" stroke-width="5.50"/><path d="M303.5 465.1L304.0 465.0L304.5 465.0L305.0 464.9L305.5 464.9L306.0 464.8L306.5 464.7" stroke-width="5.50"/><path d="M306.5 464.7L307.0 464.6L307.5 464.5L308.0 464.4L308.5 464.3L309.0 464.2L309.5 464.1" stroke-width="5.50"/><path d="M309.5 464.1L310.0 464.0L310.5 463.9L311.0 463.8L311.5 463.6L312.0 463.5L312.5 463.3" stroke-width="5.50"/><path d="M312.5 463.3L313.0 463.2L313.5 463.0L314.0 462.8L314.5 462.6L315.0 462.4L315.5 462.2" stroke-width="5.50"/><path d="M315.5 462.2L316.0 462.0L316.5 461.8L317.0 461.5L317.5 461.3L318.0 461.1L318.5 460.8" stroke-width="5.50"/><path d="M318.5 460.8L319.0 460.6L319.5 460.3L320.0 460.0L320.5 459.8L321.0 459.5L321.5 459.1" stroke-width="5.50"/><path d="M321.5 459.1L322.0 458.8L322.5 458.5L323.0 458.1L323.5 457.7L324.0 457.3L324.5 456.8" stroke-width="5.28"/><path d="M324.5 456.8L325.0 456.4L325.5 455.8L326.0 455.2L326.5 454.6L327.0 454.0L327.5 453.3" stroke-width="4.63"/><path d="M327.5 453.3L328.0 452.5L328.5 451.7L329.0 450.9L329.5 450.0L330.0 449.1L330.5 448.1" stroke-width="4.20"/><path d="M330.5 448.1L331.0 446.9L331.5 445.5L332.0 444.0L332.5 442.5L333.0 440.9L333.5 439.3" stroke-width="4.20"/><path d="M333.5 439.3L334.0 437.8L334.5 436.3L335.0 434.7L335.5 433.0L336.0 431.4L336.5 429.8" stroke-width="4.20"/><path d="M336.5 429.8L337.0 428.3L337.5 427.0L338.0 425.8L338.5 424.6L339.0 423.3L339.5 422.1" stroke-width="4.20"/><path d="M339.5 422.1L340.0 420.9L340.5 419.9L341.0 419.0L341.5 418.4L342.0 418.1L342.5 418.0" stroke-width="4.20"/><path d="M342.5 418.0L343.0 418.2L343.5 418.6L344.0 419.1L344.5 419.8L345.0 420.6L345.5 421.4" stroke-width="4.20"/><path d="M345.5 421.4L346.0 422.3L346.5 423.3L347.0 424.3L347.5 425.2L348.0 426.1L348.5 427.0" stroke-width="4.20"/><path d="M348.5 427.0L349.0 427.8L349.5 428.7L350.0 429.7L350.5 430.7L351.0 431.7L351.5 432.7" stroke-width="4.20"/><path d="M351.5 432.7L352.0 433.6L352.5 434.6L353.0 435.6L353.5 436.5L354.0 437.3L354.5 438.1" stroke-width="4.20"/><path d="M354.5 438.1L355.0 438.9L355.5 439.6L356.0 440.3L356.5 441.0L357.0 441.7L357.5 442.4" stroke-width="4.20"/><path d="M357.5 442.4L358.0 443.1L358.5 443.7L359.0 444.3L359.5 445.0L360.0 445.6L360.5 446.2" stroke-width="4.20"/><path d="M360.5 446.2L361.0 446.8L361.5 447.4L362.0 448.0L362.5 448.6L363.0 449.2L363.5 449.8" stroke-width="4.20"/><path d="M363.5 449.8L364.0 450.4L364.5 451.1L365.0 451.7L365.5 452.3L366.0 452.8L366.5 453.3" stroke-width="4.69"/><path d="M366.5 453.3L367.0 453.7L367.5 454.0L368.0 454.3L368.5 454.5L369.0 454.7L369.5 454.9" stroke-width="5.17"/><path d="M369.5 454.9L370.0 455.1L370.5 455.3L371.0 455.5L371.5 455.7L372.0 455.8L372.5 455.9" stroke-width="5.50"/><path d="M372.5 455.9L373.0 456.1L373.5 456.2L374.0 456.3L374.5 456.5L375.0 456.6L375.5 456.7" stroke-width="5.50"/><path d="M375.5 456.7L376.0 456.8L376.5 457.0L377.0 457.1L377.5 457.2L378.0 457.3L378.5 457.4" stroke-width="5.50"/><path d="M378.5 457.4L379.0 457.5L379.5 457.6L380.0 457.7L380.5 457.7L381.0 457.8L381.5 457.9" stroke-width="5.50"/><path d="M381.5 457.9L382.0 458.0L382.5 458.1L383.0 458.2L383.5 458.3L384.0 458.4L384.5 458.5" stroke-width="5.50"/><path d="M384.5 458.5L385.0 458.6L385.5 458.7L386.0 458.8L386.5 458.9L387.0 459.0L387.5 459.1" stroke-width="5.50"/><path d="M387.5 459.1L388.0 459.2L388.5 459.2L389.0 459.3L389.5 459.3L390.0 459.3L390.5 459.3" stroke-width="5.50"/><path d="M390.5 459.3L391.0 459.3L391.5 459.3L392.0 459.2L392.5 459.2L393.0 459.1L393.5 459.1" stroke-width="5.50"/><path d="M393.5 459.1L394.0 459.0L394.5 459.0L395.0 458.9L395.5 458.8L396.0 458.7L396.5 458.7" stroke-width="5.50"/><path d="M396.5 458.7L397.0 458.6L397.5 458.5L398.0 458.4L398.5 458.3L399.0 458.1L399.5 457.9" stroke-width="5.50"/><path d="M399.5 457.9L400.0 457.7L400.5 457.5L401.0 457.3L401.5 457.1L402.0 456.8L402.5 456.6" stroke-width="5.50"/><path d="M402.5 456.6L403.0 456.4L403.5 456.1L404.0 455.9L404.5 455.7L405.0 455.5L405.5 455.3" stroke-width="5.50"/><path d="M405.5 455.3L406.0 455.1L406.5 455.0L407.0 454.8L407.5 454.6L408.0 454.4L408.5 454.3" stroke-width="5.50"/><path d="M408.5 454.3L409.0 454.1L409.5 453.9L410.0 453.8L410.5 453.6L411.0 453.4L411.5 453.2" stroke-width="5.50"/><path d="M411.5 453.2L412.0 453.0L412.5 452.8L413.0 452.6L413.5 452.3L414.0 452.0L414.5 451.6" stroke-width="5.50"/><path d="M414.5 451.6L415.0 451.3L415.5 450.9L416.0 450.6L416.5 450.2L417.0 449.9L417.5 449.6" stroke-width="5.50"/><path d="M417.5 449.6L418.0 449.3L418.5 449.1L419.0 448.9L419.5 448.8L420.0 448.8L420.5 448.8" stroke-width="5.50"/><path d="M420.5 448.8L421.0 448.8L421.5 448.9L422.0 449.0L422.5 449.0L423.0 449.1L423.5 449.2" stroke-width="5.50"/><path d="M423.5 449.2L424.0 449.4L424.5 449.5L425.0 449.7L425.5 450.0L426.0 450.4L426.5 450.9" stroke-width="5.50"/><path d="M426.5 450.9L427.0 451.3L427.5 451.8L428.0 452.2L428.5 452.7L429.0 453.2L429.5 453.7" stroke-width="5.50"/><path d="M429.5 453.7L430.0 454.2L430.5 454.8L431.0 455.3L431.5 455.9L432.0 456.4L432.5 457.0" stroke-width="5.50"/><path d="M432.5 457.0L433.0 457.5L433.5 458.0L434.0 458.5L434.5 459.0L435.0 459.5L435.5 460.0" stroke-width="5.50"/><path d="M435.5 460.0L436.0 460.5L436.5 461.0L437.0 461.5L437.5 462.1L438.0 462.6L438.5 463.1" stroke-width="5.50"/><path d="M438.5 463.1L439.0 463.6L439.5 464.0L440.0 464.5L440.5 464.9L441.0 465.2L441.5 465.5" stroke-width="5.50"/><path d="M441.5 465.5L442.0 465.7L442.5 465.8L443.0 465.9L443.5 466.0L444.0 466.0L444.5 466.1" stroke-width="5.20"/><path d="M444.5 466.1L445.0 466.2L445.5 466.2L446.0 466.3L446.5 466.3L447.0 466.3L447.5 466.4" stroke-width="4.90"/><path d="M447.5 466.4L448.0 466.4L448.5 466.5L449.0 466.5L449.5 466.6L450.0 466.6L450.5 466.6" stroke-width="4.60"/><path d="M450.5 466.6L451.0 466.7L451.5 466.7L452.0 466.8L452.5 466.8L453.0 466.9L453.5 466.9" stroke-width="4.50"/><path d="M453.5 466.9L454.0 466.9L454.5 467.0L455.0 467.0L455.5 467.1L456.0 467.1L456.5 467.2" stroke-width="4.50"/><path d="M456.5 467.2L457.0 467.2L457.5 467.3L458.0 467.4L458.5 467.4L459.0 467.5L459.5 467.6" stroke-width="4.50"/><path d="M459.5 467.6L460.0 467.7L460.5 467.8L461.0 467.9L461.5 468.0L462.0 468.1L462.5 468.3" stroke-width="4.50"/><path d="M462.5 468.3L463.0 468.4L463.5 468.5L464.0 468.6L464.5 468.7L465.0 468.8L465.5 468.9" stroke-width="4.50"/><path d="M465.5 468.9L466.0 469.0L466.5 469.1L467.0 469.3L467.5 469.4L468.0 469.5L468.5 469.7" stroke-width="4.50"/><path d="M468.5 469.7L469.0 469.8L469.5 469.9L470.0 470.0L470.5 470.1L471.0 470.2L471.5 470.3" stroke-width="4.50"/><path d="M471.5 470.3L472.0 470.3L472.5 470.3L473.0 470.3L473.5 470.3L474.0 470.3L474.5 470.2" stroke-width="4.50"/><path d="M474.5 470.2L475.0 470.2L475.5 470.2L476.0 470.1L476.5 470.0L477.0 470.0L477.5 469.9" stroke-width="4.50"/><path d="M477.5 469.9L478.0 469.9L478.5 469.8L479.0 469.7L479.5 469.7L480.0 469.6L480.5 469.5" stroke-width="4.50"/><path d="M480.5 469.5L481.0 469.4L481.5 469.3L482.0 469.2L482.5 469.1L483.0 469.0L483.5 468.9" stroke-width="4.50"/><path d="M483.5 468.9L484.0 468.8L484.5 468.6L485.0 468.5L485.5 468.4L486.0 468.2L486.5 468.1" stroke-width="4.50"/><path d="M486.5 468.1L487.0 467.9L487.5 467.8L488.0 467.7L488.5 467.5L489.0 467.3L489.5 467.2" stroke-width="4.50"/><path d="M489.5 467.2L490.0 467.0L490.5 466.8L491.0 466.6L491.5 466.4L492.0 466.3L492.5 466.1" stroke-width="4.50"/><path d="M492.5 466.1L493.0 466.0L493.5 465.8L494.0 465.7L494.5 465.6L495.0 465.5L495.5 465.4" stroke-width="4.50"/><path d="M495.5 465.4L496.0 465.4L496.5 465.3L497.0 465.2L497.5 465.2L498.0 465.1L498.5 465.0" stroke-width="4.50"/><path d="M498.5 465.0L499.0 465.0L499.5 464.9L500.0 464.9L500.5 464.9L501.0 464.8L501.5 464.8" stroke-width="4.50"/><path d="M501.5 464.8L502.0 464.8L502.5 464.8L503.0 464.8L503.5 464.8L504.0 464.8L504.5 464.8" stroke-width="4.50"/><path d="M504.5 464.8L505.0 464.9L505.5 464.9L506.0 465.0L506.5 465.0L507.0 465.1L507.5 465.1" stroke-width="4.50"/><path d="M507.5 465.1L508.0 465.2L508.5 465.2L509.0 465.3L509.5 465.4L510.0 465.5" stroke-width="4.50"/></g>

<path d="M66.5 360.8L66.7 365.0L66.9 367.4L67.1 370.2L67.3 371.0L67.5 372.3L67.7 374.6L67.9 372.7L68.1 376.0L68.3 378.9L68.5 374.8L68.7 374.3L68.9 376.0L69.1 382.2L69.3 382.6L69.5 379.7L69.7 381.8L69.9 382.9L70.1 384.8L70.3 378.9L70.5 382.4L70.7 383.7L70.9 385.5L71.1 385.5L71.3 385.2L71.5 387.0L71.7 381.2L71.9 394.3L72.1 389.8L72.3 390.5L72.5 387.6L72.7 390.5L72.9 394.6L73.1 394.6L73.3 391.2L73.5 388.8L73.7 392.4L73.9 391.9L74.1 394.9L74.3 390.7L74.5 393.5L74.7 395.0L74.9 393.9L75.1 397.7L75.3 393.3L75.5 393.5L75.7 395.9L75.9 399.0L76.1 397.0L76.3 396.8L76.5 400.3L76.7 399.5L76.9 398.3L77.1 400.2L77.3 399.9L77.5 402.3L77.7 401.8L77.9 400.2L78.1 401.4L78.3 402.1L78.5 404.3L78.7 404.8L78.9 402.7L79.1 404.6L79.3 406.1L79.5 408.4L79.7 406.9L79.9 411.1L80.1 407.3L80.3 409.2L80.5 407.2L80.7 406.1L80.9 408.9L81.1 410.0L81.3 410.0L81.5 409.9L81.7 409.1L81.9 408.3L82.1 409.8L82.3 411.7L82.5 413.1L82.7 404.4L82.9 412.8L83.1 414.1L83.3 414.8L83.5 413.1L83.7 413.9L83.9 411.7L84.1 412.8L84.3 414.3L84.5 411.0L84.7 411.9L84.9 414.3L85.1 411.1L85.3 414.4L85.5 411.2L85.7 415.1L85.9 414.9L86.1 413.8L86.3 413.2L86.5 414.3L86.7 410.7L86.9 414.9L87.1 416.2L87.3 418.8L87.5 415.2L87.7 416.1L87.9 419.6L88.1 420.6L88.3 415.9L88.5 419.4L88.7 419.8L88.9 418.6L89.1 415.5L89.3 415.7L89.5 419.2L89.7 423.1L89.9 417.8L90.1 421.8L90.3 422.6L90.5 416.0L90.7 417.6L90.9 422.3L91.1 421.3L91.3 420.5L91.5 419.5L91.7 421.1L91.9 418.5L92.1 425.4L92.3 417.7L92.5 416.5L92.7 420.9L92.9 423.8L93.1 419.8L93.3 420.9L93.5 419.0L93.7 421.2L93.9 419.4L94.1 419.6L94.3 418.7L94.5 420.9L94.7 426.2L94.9 422.3L95.1 423.0L95.3 427.5L95.5 421.6L95.7 421.0L95.9 424.4L96.1 420.8L96.3 424.3L96.5 426.3L96.7 421.7L96.9 423.0L97.1 428.0L97.3 422.3L97.5 423.3L97.7 425.4L97.9 424.4L98.1 423.5L98.3 428.9L98.5 424.4L98.7 426.6L98.9 425.2L99.1 425.8L99.3 423.6L99.5 428.6L99.7 426.0L99.9 429.8L100.1 424.8L100.3 426.4L100.5 428.7L100.7 428.1L100.9 426.7L101.1 428.0L101.3 425.7L101.5 428.8L101.7 423.2L101.9 429.4L102.1 432.1L102.3 431.3L102.5 431.3L102.7 428.9L102.9 430.9L103.1 429.2L103.3 430.1L103.5 430.2L103.7 424.1L103.9 434.3L104.1 431.9L104.3 432.9L104.5 429.3L104.7 432.9L104.9 432.7L105.1 427.2L105.3 428.3L105.5 432.3L105.7 430.9L105.9 432.5L106.1 431.3L106.3 435.9L106.5 429.0L106.7 430.3L106.9 431.2L107.1 430.6L107.3 432.4L107.5 433.7L107.7 431.1L107.9 434.8L108.1 436.9L108.3 436.6L108.5 438.6L108.7 436.9L108.9 434.6L109.1 438.5L109.3 436.4L109.5 439.0L109.7 434.8L109.9 431.0L110.1 433.0L110.3 436.0L110.5 436.8L110.7 435.4L110.9 438.0L111.1 433.7L111.3 434.7L111.5 438.3L111.7 436.5L111.9 436.7L112.1 439.5L112.3 439.0L112.5 435.2L112.7 437.4L112.9 433.6L113.1 437.2L113.3 438.1L113.5 433.9L113.7 440.7L113.9 441.7L114.1 438.8L114.3 439.8L114.5 441.1L114.7 437.7L114.9 440.3L115.1 439.1L115.3 435.3L115.5 436.7L115.7 437.5L115.9 440.9L116.1 439.0L116.3 441.0L116.5 438.1L116.7 436.6L116.9 443.5L117.1 444.9L117.3 440.2L117.5 439.2L117.7 442.1L117.9 437.5L118.1 439.4L118.3 437.1L118.5 441.0L118.7 440.7L118.9 439.4L119.1 439.0L119.3 437.4L119.5 438.9L119.7 443.1L119.9 440.0L120.1 443.4L120.3 439.2L120.5 440.9L120.7 440.2L120.9 440.7L121.1 442.8L121.3 437.2L121.5 443.0L121.7 443.0L121.9 441.6L122.1 441.9L122.3 441.4L122.5 443.3L122.7 442.1L122.9 440.4L123.1 442.5L123.3 444.2L123.5 443.1L123.7 442.5L123.9 442.9L124.1 441.6L124.3 441.8L124.5 439.0L124.7 442.5L124.9 444.9L125.1 442.3L125.3 441.3L125.5 445.0L125.7 443.7L125.9 443.7L126.1 444.5L126.3 445.0L126.5 443.6L126.7 442.2L126.9 447.3L127.1 444.1L127.3 442.6L127.5 444.6L127.7 446.6L127.9 441.6L128.1 447.1L128.3 444.3L128.5 448.6L128.7 446.1L128.9 444.6L129.1 447.4L129.3 447.5L129.5 444.4L129.7 445.7L129.9 444.3L130.1 447.2L130.3 442.7L130.5 445.2L130.7 441.5L130.9 446.9L131.1 441.5L131.3 443.8L131.5 446.5L131.7 445.4L131.9 445.3L132.1 444.4L132.3 445.4L132.5 443.0L132.7 447.1L132.9 448.1L133.1 448.1L133.3 446.7L133.5 449.2L133.7 447.8L133.9 448.8L134.1 447.8L134.3 450.8L134.5 445.7L134.7 442.2L134.9 448.6L135.1 447.2L135.3 451.3L135.5 443.7L135.7 449.2L135.9 445.9L136.1 447.7L136.3 446.1L136.5 448.5L136.7 447.9L136.9 449.7L137.1 448.3L137.3 449.0L137.5 450.6L137.7 449.2L137.9 447.9L138.1 450.6L138.3 448.1L138.5 449.1L138.7 447.8L138.9 447.1L139.1 442.7L139.3 449.8L139.5 446.3L139.7 450.0L139.9 452.1L140.1 446.2L140.3 450.4L140.5 448.6L140.7 449.7L140.9 446.6L141.1 449.0L141.3 449.3L141.5 451.8L141.7 453.2L141.9 449.8L142.1 448.6L142.3 453.6L142.5 449.2L142.7 449.4L142.9 449.8L143.1 450.6L143.3 451.1L143.5 448.7L143.7 449.7L143.9 453.5L144.1 453.1L144.3 451.0L144.5 450.7L144.7 449.8L144.9 452.3L145.1 449.4L145.3 450.7L145.5 449.7L145.7 449.4L145.9 450.7L146.1 450.7L146.3 449.6L146.5 450.7L146.7 450.9L146.9 450.0L147.1 449.7L147.3 450.7L147.5 452.3L147.7 453.1L147.9 451.4L148.1 450.6L148.3 451.1L148.5 454.8L148.7 453.2L148.9 449.5L149.1 451.2L149.3 450.4L149.5 450.7L149.7 448.3L149.9 451.5L150.1 449.0L150.3 450.4L150.5 454.4L150.7 453.4L150.9 450.0L151.1 449.7L151.3 449.9L151.5 448.1L151.7 449.8L151.9 451.1L152.1 449.7L152.3 453.0L152.5 451.5L152.7 450.7L152.9 454.9L153.1 452.9L153.3 451.8L153.5 455.0L153.7 454.0L153.9 450.3L154.1 452.2L154.3 450.8L154.5 449.0L154.7 455.1L154.9 454.4L155.1 449.3L155.3 452.5L155.5 448.6L155.7 453.6L155.9 451.5L156.1 451.1L156.3 453.9L156.5 451.7L156.7 451.2L156.9 453.3L157.1 451.1L157.3 453.2L157.5 451.6L157.7 453.1L157.9 452.8L158.1 453.1L158.3 449.8L158.5 455.0L158.7 451.3L158.9 454.7L159.1 450.4L159.3 451.0L159.5 451.0L159.7 453.5L159.9 450.6L160.1 452.1L160.3 448.4L160.5 450.4L160.7 451.6L160.9 450.9L161.1 447.7L161.3 451.9L161.5 449.2L161.7 454.4L161.9 450.5L162.1 454.9L162.3 452.0L162.5 451.5L162.7 449.8L162.9 450.4L163.1 451.4L163.3 447.0L163.5 452.2L163.7 448.2L163.9 449.8L164.1 445.3L164.3 451.0L164.5 451.5L164.7 450.6L164.9 450.6L165.1 449.2L165.3 450.1L165.5 451.9L165.7 448.9L165.9 450.5L166.1 450.8L166.3 449.0L166.5 449.8L166.7 449.6L166.9 448.3L167.1 453.4L167.3 448.2L167.5 452.0L167.7 450.7L167.9 445.0L168.1 449.0L168.3 450.3L168.5 449.9L168.7 446.7L168.9 448.6L169.1 445.9L169.3 446.1L169.5 447.4L169.7 448.1L169.9 450.5L170.1 448.1L170.3 449.3L170.5 445.1L170.7 445.0L170.9 446.1L171.1 450.0L171.3 444.3L171.5 443.7L171.7 446.3L171.9 448.4L172.1 443.2L172.3 445.5L172.5 443.3L172.7 448.2L172.9 446.7L173.1 445.7L173.3 445.0L173.5 444.5L173.7 444.9L173.9 443.4L174.1 442.8L174.3 442.2L174.5 443.9L174.7 442.3L174.9 445.1L175.1 439.6L175.3 444.1L175.5 443.8L175.7 444.8L175.9 441.9L176.1 439.5L176.3 440.2L176.5 443.6L176.7 440.8L176.9 440.3L177.1 439.7L177.3 440.3L177.5 439.7L177.7 437.1L177.9 438.4L178.1 440.9L178.3 441.3L178.5 438.2L178.7 437.1L178.9 440.0L179.1 436.9L179.3 434.7L179.5 436.1L179.7 437.0L179.9 437.9L180.1 433.7L180.3 434.9L180.5 432.7L180.7 434.5L180.9 432.2L181.1 431.5L181.3 428.5L181.5 428.9L181.7 428.1L181.9 422.4L182.1 428.5L182.3 426.2L182.5 425.0L182.7 423.9L182.9 423.6L183.1 423.0L183.3 419.4L183.5 420.9L183.7 419.8L183.9 418.7L184.1 415.1L184.3 416.4L184.5 413.5L184.7 415.5L184.9 416.3L185.1 414.7L185.3 411.9L185.5 410.8L185.7 410.0L185.9 410.9L186.1 408.5L186.3 408.1L186.5 404.0L186.7 406.2L186.9 405.7L187.1 405.5L187.3 408.0L187.5 402.8L187.7 402.3L187.9 405.0L188.1 401.6L188.3 402.3L188.5 402.2L188.7 401.3L188.9 399.2L189.1 401.3L189.3 401.5L189.5 396.3L189.7 396.6L189.9 397.8L190.1 394.9L190.3 392.6L190.5 392.7L190.7 394.1L190.9 390.1L191.1 391.6L191.3 391.2L191.5 388.9L191.7 390.6L191.9 390.3L192.1 390.4L192.3 389.9L192.5 385.3L192.7 389.0L192.9 388.1L193.1 388.5L193.3 385.0L193.5 387.8L193.7 386.6L193.9 383.7L194.1 387.9L194.3 384.2L194.5 383.7L194.7 386.2L194.9 384.6L195.1 386.4L195.3 385.5L195.5 386.7L195.7 387.8L195.9 386.7L196.1 388.6L196.3 388.9L196.5 386.3L196.7 389.7L196.9 389.7L197.1 389.3L197.3 391.5L197.5 392.9L197.7 391.9L197.9 388.8L198.1 393.0L198.3 393.0L198.5 393.8L198.7 396.0L198.9 396.0L199.1 400.5L199.3 399.2L199.5 399.7L199.7 401.9L199.9 402.7L200.1 404.1L200.3 403.8L200.5 403.3L200.7 404.3L200.9 400.9L201.1 402.8L201.3 404.6L201.5 406.0L201.7 410.3L201.9 410.8L202.1 406.1L202.3 409.4L202.5 414.5L202.7 408.6L202.9 411.3L203.1 410.7L203.3 411.3L203.5 411.8L203.7 412.9L203.9 414.9L204.1 412.8L204.3 415.7L204.5 414.2L204.7 417.0L204.9 417.2L205.1 416.0L205.3 418.2L205.5 417.3L205.7 417.8L205.9 421.9L206.1 417.3L206.3 422.1L206.5 423.0L206.7 421.3L206.9 424.8L207.1 425.1L207.3 421.8L207.5 425.6L207.7 426.0L207.9 424.5L208.1 427.3L208.3 428.1L208.5 426.1L208.7 424.4L208.9 429.1L209.1 427.6L209.3 426.4L209.5 429.2L209.7 426.2L209.9 430.3L210.1 433.9L210.3 426.8L210.5 433.1L210.7 431.1L210.9 432.4L211.1 432.0L211.3 435.1L211.5 434.4L211.7 433.5L211.9 432.9L212.1 434.8L212.3 438.0L212.5 434.2L212.7 437.4L212.9 437.6L213.1 433.9L213.3 439.8L213.5 438.1L213.7 442.5L213.9 442.0L214.1 438.9L214.3 439.4L214.5 438.2L214.7 437.8L214.9 441.9L215.1 440.3L215.3 443.7L215.5 440.7L215.7 442.3L215.9 442.8L216.1 441.1L216.3 440.7L216.5 441.2L216.7 444.6L216.9 437.2L217.1 438.7L217.3 441.5L217.5 440.7L217.7 442.5L217.9 442.5L218.1 443.5L218.3 438.5L218.5 440.8L218.7 439.1L218.9 441.0L219.1 439.5L219.3 440.6L219.5 437.5L219.7 439.0L219.9 437.6L220.1 437.9L220.3 437.4L220.5 436.2L220.7 439.8L220.9 438.2L221.1 439.4L221.3 435.6L221.5 433.7L221.7 435.8L221.9 436.5L222.1 438.0L222.3 438.2L222.5 438.3L222.7 438.6L222.9 437.0L223.1 435.6L223.3 433.9L223.5 436.2L223.7 433.8L223.9 433.0L224.1 435.2L224.3 434.2L224.5 435.0L224.7 431.9L224.9 434.9L225.1 433.2L225.3 431.9L225.5 430.4L225.7 429.3L225.9 428.2L226.1 432.5L226.3 426.9L226.5 429.8L226.7 427.5L226.9 426.1L227.1 425.5L227.3 425.4L227.5 426.4L227.7 425.0L227.9 423.2L228.1 420.0L228.3 418.5L228.5 424.2L228.7 418.4L228.9 416.7L229.1 420.8L229.3 415.5L229.5 418.7L229.7 418.3L229.9 416.4L230.1 417.0L230.3 412.1L230.5 411.7L230.7 412.9L230.9 412.5L231.1 411.6L231.3 411.9L231.5 409.1L231.7 405.9L231.9 409.7L232.1 407.9L232.3 409.0L232.5 410.5L232.7 406.1L232.9 406.2L233.1 402.8L233.3 405.2L233.5 403.5L233.7 402.6L233.9 403.0L234.1 398.8L234.3 401.2L234.5 400.5L234.7 402.0L234.9 395.7L235.1 398.3L235.3 401.9L235.5 396.9L235.7 396.5L235.9 400.1L236.1 401.1L236.3 396.6L236.5 394.9L236.7 394.9L236.9 395.1L237.1 394.2L237.3 394.2L237.5 396.0L237.7 395.9L237.9 396.9L238.1 396.5L238.3 394.7L238.5 398.5L238.7 398.1L238.9 397.2L239.1 398.3L239.3 399.8L239.5 399.9L239.7 400.1L239.9 402.2L240.1 403.4L240.3 401.6L240.5 402.8L240.7 401.6L240.9 404.0L241.1 406.0L241.3 407.4L241.5 407.0L241.7 407.3L241.9 407.0L242.1 409.4L242.3 407.9L242.5 410.8L242.7 411.4L242.9 410.6L243.1 413.6L243.3 413.4L243.5 415.7L243.7 414.6L243.9 417.1L244.1 419.8L244.3 418.2L244.5 420.1L244.7 418.3L244.9 419.5L245.1 417.6L245.3 421.3L245.5 420.3L245.7 423.2L245.9 420.0L246.1 422.8L246.3 425.2L246.5 426.4L246.7 423.4L246.9 426.3L247.1 431.3L247.3 429.7L247.5 429.2L247.7 424.7L247.9 428.5L248.1 431.7L248.3 431.8L248.5 432.8L248.7 434.3L248.9 433.5L249.1 435.4L249.3 431.4L249.5 439.7L249.7 435.4L249.9 435.3L250.1 439.6L250.3 438.5L250.5 439.5L250.7 437.0L250.9 438.9L251.1 440.0L251.3 437.0L251.5 438.9L251.7 439.1L251.9 439.2L252.1 438.7L252.3 437.9L252.5 441.1L252.7 441.0L252.9 442.7L253.1 440.7L253.3 439.8L253.5 438.5L253.7 441.4L253.9 440.8L254.1 445.0L254.3 445.6L254.5 444.4L254.7 440.1L254.9 439.3L255.1 441.4L255.3 440.3L255.5 444.5L255.7 442.2L255.9 441.4L256.1 442.1L256.3 444.5L256.5 440.6L256.7 443.2L256.9 440.1L257.1 442.1L257.3 441.4L257.5 443.2L257.7 443.0L257.9 444.9L258.1 444.1L258.3 441.8L258.5 440.6L258.7 441.6L258.9 442.3L259.1 442.7L259.3 441.9L259.5 445.2L259.7 445.0L259.9 442.9L260.1 442.6L260.3 443.1L260.5 443.5L260.7 443.6L260.9 440.8L261.1 443.0L261.3 440.5L261.5 444.0L261.7 445.2L261.9 442.1L262.1 444.4L262.3 443.1L262.5 443.0L262.7 447.8L262.9 446.0L263.1 445.3L263.3 443.8L263.5 445.4L263.7 444.4L263.9 445.6L264.1 443.3L264.3 444.8L264.5 444.4L264.7 442.6L264.9 448.3L265.1 446.8L265.3 444.0L265.5 442.9L265.7 444.4L265.9 444.3L266.1 444.9L266.3 443.4L266.5 444.8L266.7 446.6L266.9 447.4L267.1 443.2L267.3 447.0L267.5 445.4L267.7 445.4L267.9 446.9L268.1 446.5L268.3 449.2L268.5 449.4L268.7 447.7L268.9 447.3L269.1 452.0L269.3 452.3L269.5 449.8L269.7 449.0L269.9 451.3L270.1 452.4L270.3 449.0L270.5 453.4L270.7 450.0L270.9 452.5L271.1 449.8L271.3 451.0L271.5 450.3L271.7 451.3L271.9 453.3L272.1 446.1L272.3 451.3L272.5 453.0L272.7 451.3L272.9 456.1L273.1 449.8L273.3 457.3L273.5 451.6L273.7 454.8L273.9 456.2L274.1 454.3L274.3 450.9L274.5 453.1L274.7 454.0L274.9 455.1L275.1 456.0L275.3 456.5L275.5 457.3L275.7 453.0L275.9 456.7L276.1 451.8L276.3 455.5L276.5 453.4L276.7 452.3L276.9 457.4L277.1 455.8L277.3 457.9L277.5 453.3L277.7 454.1L277.9 456.3L278.1 455.4L278.3 456.9L278.5 455.8L278.7 456.5L278.9 455.1L279.1 459.8L279.3 456.9L279.5 455.5L279.7 459.1L279.9 458.8L280.1 458.5L280.3 458.6L280.5 457.6L280.7 458.2L280.9 454.4L281.1 455.8L281.3 456.5L281.5 459.5L281.7 461.4L281.9 458.9L282.1 458.8L282.3 461.6L282.5 458.9L282.7 460.9L282.9 460.6L283.1 457.4L283.3 460.6L283.5 460.5L283.7 458.1L283.9 458.4L284.1 458.1L284.3 463.2L284.5 464.7L284.7 462.2L284.9 463.9L285.1 458.5L285.3 463.8L285.5 464.9L285.7 464.4L285.9 459.6L286.1 463.6L286.3 461.4L286.5 463.7L286.7 460.6L286.9 461.9L287.1 460.9L287.3 462.9L287.5 461.9L287.7 464.3L287.9 463.8L288.1 463.1L288.3 462.3L288.5 461.9L288.7 462.6L288.9 464.1L289.1 462.9L289.3 463.3L289.5 462.8L289.7 462.8L289.9 461.7L290.1 459.5L290.3 464.2L290.5 464.2L290.7 461.4L290.9 466.9L291.1 461.1L291.3 465.3L291.5 464.0L291.7 464.2L291.9 465.8L292.1 465.4L292.3 463.8L292.5 461.8L292.7 461.5L292.9 464.2L293.1 466.9L293.3 465.7L293.5 464.0L293.7 464.7L293.9 465.4L294.1 467.4L294.3 462.7L294.5 465.6L294.7 464.8L294.9 462.8L295.1 462.4L295.3 466.8L295.5 465.0L295.7 464.0L295.9 464.6L296.1 466.4L296.3 464.7L296.5 467.6L296.7 464.1L296.9 463.1L297.1 464.4L297.3 462.9L297.5 464.0L297.7 467.1L297.9 468.0L298.1 466.0L298.3 465.2L298.5 463.1L298.7 462.9L298.9 465.6L299.1 465.2L299.3 463.8L299.5 464.1L299.7 468.0L299.9 466.9L300.1 465.1L300.3 465.5L300.5 467.5L300.7 465.7L300.9 465.5L301.1 462.0L301.3 461.8L301.5 461.4L301.7 460.7L301.9 465.1L302.1 465.7L302.3 463.4L302.5 466.0L302.7 466.0L302.9 465.0L303.1 462.2L303.3 467.9L303.5 467.8L303.7 463.9L303.9 468.8L304.1 465.1L304.3 463.5L304.5 464.2L304.7 461.4L304.9 464.3L305.1 461.8L305.3 467.1L305.5 465.5L305.7 462.1L305.9 465.9L306.1 461.4L306.3 465.1L306.5 465.6L306.7 464.8L306.9 462.4L307.1 464.4L307.3 464.2L307.5 459.1L307.7 467.4L307.9 467.8L308.1 467.5L308.3 463.1L308.5 462.9L308.7 464.3L308.9 465.1L309.1 460.2L309.3 463.0L309.5 467.6L309.7 461.6L309.9 462.6L310.1 462.6L310.3 464.9L310.5 463.8L310.7 463.2L310.9 460.8L311.1 464.9L311.3 463.7L311.5 462.3L311.7 463.6L311.9 465.1L312.1 460.5L312.3 460.3L312.5 461.3L312.7 461.5L312.9 457.3L313.1 461.9L313.3 465.2L313.5 462.3L313.7 464.9L313.9 457.1L314.1 462.5L314.3 465.9L314.5 465.7L314.7 461.5L314.9 460.8L315.1 463.1L315.3 459.9L315.5 461.5L315.7 458.8L315.9 462.2L316.1 461.9L316.3 465.1L316.5 462.5L316.7 460.4L316.9 461.4L317.1 458.9L317.3 461.5L317.5 460.9L317.7 462.0L317.9 463.0L318.1 457.0L318.3 461.6L318.5 462.3L318.7 458.3L318.9 464.4L319.1 459.1L319.3 465.3L319.5 461.9L319.7 462.1L319.9 460.6L320.1 462.0L320.3 457.8L320.5 458.2L320.7 455.7L320.9 460.6L321.1 458.0L321.3 460.8L321.5 460.3L321.7 456.3L321.9 460.3L322.1 459.3L322.3 459.0L322.5 459.4L322.7 458.3L322.9 458.2L323.1 460.1L323.3 455.9L323.5 455.3L323.7 456.0L323.9 459.4L324.1 456.6L324.3 460.9L324.5 450.8L324.7 455.2L324.9 455.6L325.1 456.8L325.3 458.7L325.5 455.4L325.7 453.6L325.9 457.1L326.1 458.2L326.3 449.7L326.5 455.8L326.7 455.0L326.9 452.4L327.1 452.9L327.3 454.1L327.5 453.3L327.7 452.5L327.9 450.3L328.1 452.9L328.3 450.7L328.5 451.9L328.7 450.2L328.9 451.5L329.1 452.2L329.3 450.8L329.5 451.3L329.7 446.8L329.9 450.2L330.1 449.5L330.3 447.2L330.5 447.7L330.7 442.0L330.9 447.3L331.1 445.8L331.3 441.5L331.5 446.5L331.7 443.6L331.9 444.9L332.1 443.2L332.3 444.1L332.5 442.7L332.7 441.3L332.9 442.2L333.1 442.3L333.3 435.3L333.5 439.4L333.7 437.5L333.9 435.8L334.1 440.1L334.3 438.8L334.5 434.2L334.7 433.3L334.9 436.6L335.1 433.0L335.3 433.0L335.5 429.0L335.7 432.1L335.9 434.0L336.1 434.5L336.3 430.2L336.5 433.4L336.7 431.0L336.9 431.5L337.1 429.3L337.3 430.0L337.5 423.6L337.7 424.9L337.9 422.7L338.1 430.1L338.3 425.4L338.5 424.3L338.7 422.5L338.9 421.5L339.1 417.3L339.3 427.1L339.5 421.9L339.7 421.7L339.9 418.2L340.1 420.6L340.3 421.0L340.5 419.7L340.7 420.8L340.9 417.5L341.1 419.5L341.3 420.4L341.5 419.5L341.7 419.0L341.9 417.9L342.1 416.0L342.3 419.1L342.5 417.2L342.7 416.1L342.9 419.7L343.1 413.7L343.3 417.2L343.5 420.2L343.7 420.7L343.9 418.2L344.1 419.4L344.3 420.6L344.5 419.6L344.7 418.5L344.9 421.3L345.1 421.0L345.3 421.3L345.5 423.7L345.7 422.4L345.9 421.2L346.1 422.9L346.3 426.9L346.5 421.8L346.7 423.1L346.9 422.4L347.1 425.2L347.3 422.2L347.5 426.1L347.7 427.1L347.9 424.3L348.1 424.5L348.3 423.5L348.5 427.0L348.7 425.0L348.9 426.3L349.1 427.1L349.3 426.9L349.5 430.4L349.7 432.4L349.9 425.1L350.1 428.2L350.3 430.8L350.5 428.5L350.7 429.9L350.9 431.9L351.1 434.7L351.3 434.7L351.5 432.0L351.7 433.3L351.9 432.7L352.1 433.5L352.3 431.8L352.5 430.9L352.7 434.2L352.9 437.4L353.1 437.3L353.3 432.2L353.5 436.1L353.7 435.5L353.9 437.7L354.1 435.2L354.3 439.7L354.5 437.7L354.7 439.6L354.9 440.5L355.1 435.0L355.3 438.9L355.5 442.8L355.7 439.9L355.9 442.4L356.1 441.3L356.3 439.7L356.5 441.6L356.7 443.5L356.9 444.3L357.1 444.9L357.3 439.8L357.5 444.1L357.7 439.8L357.9 442.6L358.1 442.7L358.3 444.8L358.5 444.4L358.7 446.6L358.9 442.9L359.1 446.2L359.3 445.5L359.5 445.0L359.7 442.7L359.9 446.7L360.1 446.4L360.3 447.6L360.5 446.1L360.7 445.9L360.9 447.5L361.1 447.9L361.3 448.6L361.5 451.4L361.7 446.3L361.9 452.1L362.1 441.9L362.3 450.3L362.5 446.9L362.7 453.0L362.9 447.2L363.1 451.5L363.3 447.5L363.5 447.4L363.7 451.7L363.9 452.1L364.1 449.1L364.3 455.8L364.5 450.4L364.7 454.6L364.9 449.4L365.1 449.8L365.3 452.2L365.5 450.1L365.7 453.4L365.9 448.2L366.1 453.3L366.3 451.9L366.5 451.3L366.7 453.9L366.9 453.1L367.1 452.8L367.3 455.6L367.5 454.6L367.7 454.9L367.9 457.0L368.1 454.2L368.3 456.2L368.5 453.6L368.7 455.9L368.9 455.8L369.1 453.6L369.3 451.7L369.5 452.3L369.7 453.1L369.9 456.3L370.1 454.9L370.3 454.6L370.5 456.3L370.7 456.9L370.9 458.4L371.1 454.3L371.3 456.7L371.5 457.1L371.7 453.7L371.9 456.0L372.1 453.9L372.3 455.4L372.5 456.8L372.7 452.5L372.9 454.2L373.1 454.4L373.3 456.4L373.5 454.7L373.7 457.0L373.9 454.5L374.1 455.3L374.3 457.7L374.5 457.1L374.7 456.8L374.9 456.5L375.1 458.7L375.3 459.5L375.5 456.0L375.7 455.3L375.9 454.7L376.1 460.4L376.3 455.1L376.5 454.2L376.7 457.5L376.9 459.2L377.1 454.5L377.3 456.9L377.5 454.2L377.7 455.8L377.9 460.6L378.1 457.6L378.3 456.8L378.5 457.5L378.7 458.0L378.9 457.2L379.1 455.0L379.3 455.1L379.5 461.7L379.7 456.0L379.9 460.1L380.1 456.2L380.3 460.4L380.5 459.2L380.7 457.3L380.9 462.0L381.1 455.9L381.3 457.4L381.5 456.2L381.7 456.4L381.9 457.2L382.1 456.1L382.3 457.4L382.5 461.3L382.7 454.6L382.9 455.6L383.1 456.2L383.3 457.3L383.5 460.4L383.7 459.8L383.9 459.4L384.1 458.8L384.3 463.4L384.5 454.2L384.7 456.2L384.9 458.5L385.1 459.0L385.3 458.2L385.5 457.0L385.7 456.1L385.9 458.2L386.1 457.4L386.3 457.9L386.5 456.7L386.7 461.7L386.9 459.9L387.1 462.8L387.3 458.0L387.5 459.2L387.7 458.6L387.9 459.2L388.1 458.6L388.3 458.9L388.5 455.2L388.7 458.7L388.9 460.7L389.1 455.3L389.3 458.6L389.5 460.5L389.7 461.9L389.9 459.1L390.1 460.2L390.3 462.9L390.5 461.9L390.7 458.4L390.9 458.0L391.1 461.4L391.3 459.7L391.5 458.1L391.7 458.8L391.9 459.9L392.1 458.8L392.3 458.7L392.5 458.7L392.7 456.1L392.9 462.7L393.1 461.6L393.3 462.2L393.5 458.8L393.7 459.3L393.9 460.2L394.1 460.7L394.3 455.3L394.5 459.7L394.7 456.9L394.9 458.8L395.1 457.5L395.3 462.3L395.5 459.9L395.7 458.7L395.9 461.6L396.1 458.6L396.3 457.2L396.5 458.3L396.7 457.9L396.9 458.7L397.1 460.3L397.3 458.3L397.5 458.4L397.7 460.5L397.9 459.0L398.1 460.3L398.3 458.6L398.5 455.6L398.7 455.9L398.9 454.8L399.1 460.4L399.3 458.9L399.5 457.0L399.7 455.8L399.9 458.5L400.1 457.4L400.3 458.3L400.5 455.0L400.7 455.2L400.9 460.5L401.1 455.3L401.3 457.1L401.5 459.8L401.7 453.3L401.9 458.3L402.1 456.9L402.3 456.4L402.5 457.2L402.7 454.1L402.9 451.9L403.1 460.2L403.3 455.6L403.5 457.9L403.7 458.3L403.9 456.5L404.1 454.2L404.3 457.2L404.5 458.9L404.7 456.6L404.9 458.1L405.1 454.9L405.3 454.5L405.5 455.5L405.7 456.1L405.9 456.3L406.1 459.0L406.3 456.7L406.5 455.1L406.7 458.9L406.9 455.5L407.1 455.5L407.3 455.7L407.5 454.0L407.7 452.4L407.9 454.8L408.1 453.8L408.3 452.6L408.5 454.5L408.7 453.8L408.9 453.0L409.1 450.5L409.3 453.7L409.5 457.5L409.7 455.7L409.9 456.0L410.1 453.7L410.3 455.8L410.5 452.2L410.7 452.6L410.9 454.5L411.1 450.5L411.3 453.4L411.5 453.8L411.7 456.5L411.9 451.6L412.1 453.8L412.3 451.6L412.5 451.7L412.7 447.3L412.9 450.7L413.1 454.8L413.3 453.4L413.5 452.6L413.7 457.1L413.9 453.1L414.1 449.4L414.3 451.4L414.5 451.5L414.7 454.7L414.9 449.6L415.1 452.1L415.3 453.0L415.5 449.3L415.7 451.0L415.9 446.6L416.1 450.7L416.3 446.0L416.5 449.5L416.7 453.6L416.9 450.8L417.1 449.9L417.3 450.0L417.5 453.9L417.7 450.6L417.9 451.5L418.1 448.4L418.3 448.3L418.5 447.0L418.7 448.7L418.9 447.6L419.1 450.9L419.3 450.2L419.5 448.6L419.7 447.7L419.9 443.0L420.1 447.6L420.3 449.4L420.5 450.1L420.7 442.7L420.9 444.0L421.1 449.2L421.3 446.8L421.5 448.5L421.7 448.0L421.9 450.1L422.1 445.3L422.3 447.9L422.5 450.9L422.7 449.5L422.9 447.5L423.1 450.1L423.3 449.8L423.5 447.5L423.7 450.7L423.9 450.7L424.1 449.1L424.3 451.3L424.5 447.2L424.7 451.1L424.9 449.3L425.1 447.9L425.3 448.7L425.5 452.4L425.7 449.1L425.9 449.7L426.1 449.2L426.3 449.1L426.5 452.8L426.7 455.5L426.9 453.9L427.1 452.5L427.3 453.1L427.5 451.1L427.7 451.0L427.9 449.8L428.1 455.2L428.3 451.9L428.5 451.3L428.7 451.7L428.9 453.5L429.1 452.2L429.3 453.6L429.5 454.1L429.7 456.6L429.9 451.7L430.1 454.9L430.3 453.2L430.5 453.9L430.7 458.2L430.9 456.5L431.1 454.7L431.3 456.6L431.5 455.8L431.7 458.3L431.9 455.4L432.1 457.5L432.3 456.3L432.5 457.0L432.7 456.9L432.9 456.2L433.1 457.8L433.3 459.8L433.5 456.8L433.7 457.5L433.9 459.2L434.1 457.2L434.3 460.6L434.5 460.4L434.7 454.7L434.9 458.1L435.1 457.5L435.3 461.4L435.5 461.9L435.7 457.8L435.9 459.0L436.1 460.4L436.3 460.1L436.5 462.4L436.7 463.2L436.9 462.6L437.1 463.8L437.3 463.7L437.5 461.9L437.7 461.4L437.9 461.0L438.1 464.3L438.3 464.7L438.5 465.1L438.7 462.7L438.9 462.7L439.1 464.2L439.3 466.4L439.5 464.8L439.7 464.7L439.9 462.8L440.1 465.4L440.3 465.8L440.5 463.0L440.7 468.5L440.9 463.3L441.1 467.1L441.3 465.0L441.5 465.8L441.7 464.0L441.9 464.5L442.1 467.1L442.3 465.4L442.5 465.2L442.7 467.6L442.9 467.3L443.1 466.3L443.3 466.4L443.5 469.4L443.7 465.7L443.9 466.8L444.1 466.9L444.3 463.4L444.5 462.4L444.7 466.4L444.9 467.9L445.1 466.6L445.3 465.2L445.5 465.0L445.7 467.8L445.9 465.7L446.1 463.2L446.3 467.6L446.5 466.8L446.7 467.1L446.9 468.4L447.1 469.0L447.3 467.5L447.5 466.1L447.7 462.3L447.9 467.0L448.1 466.2L448.3 469.0L448.5 469.0L448.7 467.4L448.9 469.2L449.1 466.4L449.3 464.9L449.5 464.9L449.7 466.0L449.9 467.0L450.1 468.7L450.3 465.2L450.5 468.2L450.7 471.2L450.9 464.1L451.1 466.2L451.3 466.8L451.5 468.7L451.7 470.6L451.9 469.2L452.1 466.7L452.3 465.2L452.5 466.7L452.7 466.8L452.9 467.3L453.1 465.2L453.3 469.8L453.5 465.5L453.7 468.3L453.9 467.4L454.1 464.9L454.3 467.1L454.5 467.0L454.7 466.7L454.9 468.6L455.1 466.2L455.3 472.0L455.5 469.3L455.7 465.4L455.9 462.4L456.1 469.6L456.3 467.7L456.5 467.4L456.7 465.4L456.9 464.5L457.1 463.7L457.3 472.2L457.5 470.4L457.7 466.3L457.9 471.0L458.1 463.9L458.3 468.8L458.5 468.8L458.7 465.9L458.9 466.7L459.1 465.6L459.3 467.7L459.5 470.1L459.7 469.6L459.9 468.5L460.1 469.9L460.3 464.4L460.5 471.7L460.7 467.8L460.9 465.4L461.1 467.2L461.3 466.8L461.5 468.2L461.7 468.7L461.9 463.7L462.1 470.6L462.3 471.5L462.5 466.3L462.7 471.1L462.9 470.7L463.1 470.3L463.3 471.5L463.5 465.9L463.7 469.9L463.9 466.7L464.1 473.1L464.3 466.8L464.5 466.4L464.7 470.9L464.9 470.0L465.1 468.9L465.3 469.1L465.5 470.1L465.7 472.2L465.9 467.7L466.1 468.0L466.3 468.0L466.5 469.0L466.7 469.2L466.9 466.8L467.1 469.9L467.3 467.0L467.5 468.8L467.7 469.0L467.9 469.1L468.1 472.4L468.3 472.7L468.5 471.7L468.7 472.7L468.9 469.2L469.1 472.5L469.3 469.8L469.5 470.3L469.7 470.5L469.9 467.5L470.1 468.9L470.3 469.8L470.5 470.8L470.7 469.9L470.9 468.6L471.1 468.0L471.3 470.2L471.5 468.0L471.7 468.1L471.9 470.1L472.1 470.6L472.3 468.7L472.5 467.0L472.7 470.8L472.9 471.8L473.1 469.5L473.3 469.6L473.5 465.9L473.7 472.0L473.9 468.2L474.1 471.6L474.3 469.1L474.5 470.0L474.7 469.9L474.9 466.8L475.1 475.3L475.3 467.2L475.5 470.4L475.7 468.6L475.9 469.7L476.1 472.7L476.3 466.6L476.5 469.8L476.7 470.9L476.9 470.2L477.1 470.7L477.3 468.6L477.5 466.9L477.7 467.5L477.9 469.1L478.1 471.2L478.3 470.0L478.5 472.8L478.7 470.0L478.9 470.1L479.1 470.1L479.3 466.5L479.5 470.7L479.7 467.6L479.9 468.9L480.1 473.9L480.3 467.3L480.5 469.7L480.7 470.0L480.9 469.7L481.1 469.4L481.3 468.4L481.5 473.0L481.7 465.6L481.9 467.4L482.1 472.0L482.3 470.2L482.5 467.7L482.7 467.4L482.9 468.6L483.1 473.8L483.3 469.8L483.5 467.0L483.7 469.3L483.9 467.6L484.1 471.5L484.3 469.2L484.5 470.9L484.7 468.9L484.9 472.3L485.1 469.2L485.3 468.9L485.5 466.5L485.7 467.5L485.9 469.0L486.1 467.3L486.3 472.7L486.5 468.1L486.7 466.6L486.9 469.8L487.1 466.9L487.3 468.6L487.5 467.6L487.7 466.4L487.9 470.2L488.1 467.8L488.3 469.5L488.5 466.9L488.7 464.8L488.9 465.1L489.1 466.4L489.3 466.9L489.5 467.3L489.7 468.0L489.9 464.8L490.1 467.4L490.3 464.7L490.5 465.6L490.7 471.4L490.9 469.0L491.1 465.9L491.3 469.8L491.5 469.0L491.7 468.0L491.9 469.0L492.1 465.8L492.3 465.9L492.5 464.6L492.7 467.1L492.9 463.7L493.1 465.0L493.3 466.7L493.5 464.9L493.7 466.4L493.9 469.0L494.1 463.9L494.3 468.1L494.5 464.4L494.7 463.9L494.9 465.9L495.1 467.3L495.3 464.2L495.5 464.1L495.7 464.6L495.9 464.1L496.1 465.7L496.3 464.0L496.5 464.8L496.7 465.9L496.9 464.5L497.1 467.3L497.3 464.0L497.5 463.8L497.7 468.8L497.9 467.8L498.1 465.2L498.3 466.5L498.5 465.6L498.7 464.1L498.9 466.2L499.1 465.5L499.3 467.2L499.5 461.7L499.7 466.4L499.9 465.2L500.1 463.7L500.3 464.1L500.5 464.1L500.7 462.5L500.9 463.8L501.1 466.2L501.3 462.1L501.5 464.2L501.7 460.6L501.9 463.8L502.1 465.5L502.3 464.7L502.5 464.9L502.7 462.8L502.9 465.8L503.1 463.2L503.3 466.4L503.5 465.2L503.7 464.1L503.9 467.4L504.1 464.1L504.3 466.6L504.5 465.0L504.7 464.9L504.9 466.6L505.1 465.7L505.3 464.9L505.5 464.7L505.7 465.3L505.9 465.1L506.1 464.4L506.3 463.2L506.5 460.5L506.7 464.8L506.9 464.6L507.1 467.2L507.3 465.9L507.5 467.1L507.7 468.2L507.9 465.0L508.1 463.7L508.3 466.6L508.5 464.2L508.7 464.8L508.9 467.8L509.1 466.3L509.3 467.3L509.5 463.1L509.7 465.5L509.9 467.4" stroke="#F80808" stroke-width="1.6"/>
</g>
<!--frame-->
<rect x="61.05" y="16.3" width="450.6" height="463.1" fill="none" stroke="#000" stroke-width="3.5"/>
<g stroke="#000" stroke-width="3" stroke-linecap="round">
<line x1="95.50" y1="480" x2="95.50" y2="484.2"/>
<line x1="155.10" y1="480" x2="155.10" y2="484.2"/>
<line x1="215.00" y1="480" x2="215.00" y2="484.2"/>
<line x1="274.00" y1="480" x2="274.00" y2="484.2"/>
<line x1="333.55" y1="480" x2="333.55" y2="484.2"/>
<line x1="393.10" y1="480" x2="393.10" y2="484.2"/>
<line x1="452.00" y1="480" x2="452.00" y2="484.2"/>
<line x1="511.65" y1="480" x2="511.65" y2="484.2"/>
</g>
<!--/frame-->
<text transform="translate(95.96,504.72) scale(1.1151,0.9740)" font-size="20.3" fill="#111" text-anchor="middle">10</text>
<text transform="translate(155.23,504.61) scale(1.1806,0.9879)" font-size="20.3" fill="#111" text-anchor="middle">20</text>
<text transform="translate(214.61,504.21) scale(1.1637,1.0075)" font-size="20.3" fill="#111" text-anchor="middle">30</text>
<text transform="translate(273.92,504.72) scale(1.1190,0.9740)" font-size="20.3" fill="#111" text-anchor="middle">40</text>
<text transform="translate(333.52,504.82) scale(1.1753,0.9859)" font-size="20.3" fill="#111" text-anchor="middle">50</text>
<text transform="translate(392.76,504.74) scale(1.1532,1.0017)" font-size="20.3" fill="#111" text-anchor="middle">60</text>
<text transform="translate(451.84,504.72) scale(1.1576,0.9740)" font-size="20.3" fill="#111" text-anchor="middle">70</text>
<text transform="translate(511.43,504.23) scale(1.1599,0.9957)" font-size="20.3" fill="#111" text-anchor="middle">80</text>
<text transform="translate(305.63,533.15) scale(1.2150,1.0692)" font-size="20.7" fill="#111" text-anchor="middle">2<tspan font-weight="normal">θ</tspan> (degrees)</text>
<text transform="translate(34.63,209.89) rotate(-90) scale(1.0721,1.1023)" font-size="21.4" fill="#111" text-anchor="middle">Intensity (a.u)</text>
<text transform="translate(124.29,259.62) rotate(-90) scale(1.0197,1.1983)" font-size="17.0" fill="#1A1ACC" text-anchor="middle">(001)</text>
<text transform="translate(469.43,103.60) scale(1.1220,1.0593)" font-size="19.0" fill="#DC0E80" text-anchor="middle">SGP2</text>
<text transform="translate(472.10,213.60) scale(1.1027,1.0701)" font-size="19.0" fill="#E67D14" text-anchor="middle">PPY</text>
<text transform="translate(478.95,319.51) scale(1.1638,0.9368)" font-size="18.5" fill="#1410CD" text-anchor="middle">GO</text>
<text transform="translate(456.31,407.44) scale(1.0992,1.0893)" font-size="19.0" fill="#D2141E" text-anchor="middle">SnO<tspan font-size="12.5" dy="5">2</tspan><tspan dy="-5">QDs</tspan></text>
<!-- legends -->
<line x1="390.5" y1="96.9" x2="440" y2="96.9" stroke="#C8126E" stroke-width="2"/>
<line x1="397.6" y1="206.4" x2="448.2" y2="206.4" stroke="#D88A2A" stroke-width="2"/>
<line x1="409.9" y1="313" x2="456.9" y2="313" stroke="#0C0CD0" stroke-width="3.6" stroke-linecap="round"/>
<line x1="359.2" y1="399.2" x2="409.2" y2="399.2" stroke="#C01A25" stroke-width="2"/>
</svg>
</body></html>
